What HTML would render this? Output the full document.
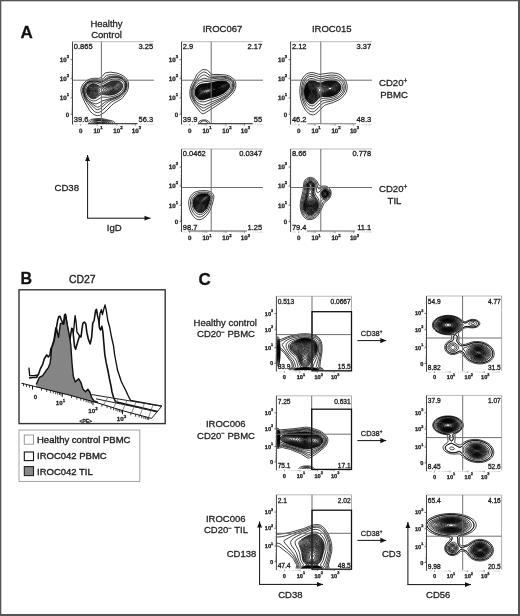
<!DOCTYPE html>
<html><head><meta charset="utf-8"><title>Figure</title>
<style>
html,body{margin:0;padding:0;background:#fff;}
#fig{position:relative;width:520px;height:616px;overflow:hidden;background:#fff;}
svg{position:absolute;left:0;top:0;filter:blur(0.3px);}
text{font-family:"Liberation Sans", Arial, sans-serif;stroke:#1a1a1a;stroke-width:0.28px;paint-order:stroke;}
text.tk{stroke-width:0.32px;text-rendering:geometricPrecision;}
text.pc{stroke-width:0.3px;}
text.lg{stroke-width:0.36px;}
</style></head><body>
<div id="fig">
<svg width="520" height="616" viewBox="0 0 520 616">
<rect x="0" y="0" width="520" height="616" fill="#fff"/>
<polygon points="28.9,367.6 29.7,375.7 34.6,375.5 38.6,375 41,372 44,366 47,361 50,357 53,350 56,340 59,333 62,332 65,330 68,336 71,340 72.5,338 73.5,332 75.1,315.6 76.1,322.4 77,332.2 79,335 80.5,337 82,336 85,338 88,344 91,347 94,340 97,333 98.8,325 100,313.6 101.4,309.7 102.4,314.6 103.9,308.8 105,304.9 106.3,310.7 107.8,320.5 109.7,327.3 111.5,337 113.6,346.3 114.5,354 116,362 117.7,370.8 119.5,376 121,380.7 123,385 125.8,390.5 128.3,396 130.5,400.3 161.8,406.2 91.5,394.5 29,377.5 28.7,367.1 31,372" fill="#fff" stroke="none"/>
<polyline points="28.9,367.6 29.7,375.7 34.6,375.5 38.6,375 41,372 44,366 47,361 50,357 53,350 56,340 59,333 62,332 65,330 68,336 71,340 72.5,338 73.5,332 75.1,315.6 76.1,322.4 77,332.2 79,335 80.5,337 82,336 85,338 88,344 91,347 94,340 97,333 98.8,325 100,313.6 101.4,309.7 102.4,314.6 103.9,308.8 105,304.9 106.3,310.7 107.8,320.5 109.7,327.3 111.5,337 113.6,346.3 114.5,354 116,362 117.7,370.8 119.5,376 121,380.7 123,385 125.8,390.5 128.3,396 130.5,400.3 161.8,406.2" fill="none" stroke="#111" stroke-width="1.35" stroke-linejoin="round"/>
<polygon points="29,378 33,377.5 36.5,377.5 38.6,374 40.2,369.2 42.7,364.4 44.3,358.7 46.7,355 48.4,357 50,354.6 50.8,348.9 52,346.5 54,340 55.8,328 56.5,327.3 57.7,320.4 58.8,316.5 60,316.2 61.2,319.6 62.3,322 63.5,324.2 64.6,315 65.4,314.4 66.2,318.8 67.3,326.5 68.5,333 69.7,341 71.7,328.3 72.7,329.2 74.6,346.8 75.6,349.2 78,341 79.5,336 81,337 82,329.2 82.9,323.4 84.4,322 85.8,324 86.8,332.2 88.3,339 90.2,343.9 91.7,337 92.7,323.4 94.1,320.5 95.6,310.7 96.5,309.3 97.5,315.6 98.5,319.5 99.5,328 100.5,330 101.9,326.3 102.9,332.2 103.9,343.9 104.8,354.6 106.2,362.7 108,371 109.5,379 111,386 112,392 113.6,397.5 115.5,401.8 157.4,411.6 96,398.8 29,378" fill="#fff" stroke="none"/>
<polyline points="29,378 33,377.5 36.5,377.5 38.6,374 40.2,369.2 42.7,364.4 44.3,358.7 46.7,355 48.4,357 50,354.6 50.8,348.9 52,346.5 54,340 55.8,328 56.5,327.3 57.7,320.4 58.8,316.5 60,316.2 61.2,319.6 62.3,322 63.5,324.2 64.6,315 65.4,314.4 66.2,318.8 67.3,326.5 68.5,333 69.7,341 71.7,328.3 72.7,329.2 74.6,346.8 75.6,349.2 78,341 79.5,336 81,337 82,329.2 82.9,323.4 84.4,322 85.8,324 86.8,332.2 88.3,339 90.2,343.9 91.7,337 92.7,323.4 94.1,320.5 95.6,310.7 96.5,309.3 97.5,315.6 98.5,319.5 99.5,328 100.5,330 101.9,326.3 102.9,332.2 103.9,343.9 104.8,354.6 106.2,362.7 108,371 109.5,379 111,386 112,392 113.6,397.5 115.5,401.8 157.4,411.6" fill="none" stroke="#111" stroke-width="1.6" stroke-linejoin="round"/>
<polyline points="91.5,394.5 161.8,406.2 151.5,418.4" fill="none" stroke="#222" stroke-width="1.0"/>
<polyline points="96,398.8 157.4,411.6" fill="none" stroke="#222" stroke-width="1.0"/>
<line x1="103.5" y1="404.7" x2="108" y2="397.2" stroke="#555" stroke-width="0.7"/>
<line x1="113.5" y1="407.8" x2="118" y2="398.9" stroke="#555" stroke-width="0.7"/>
<line x1="122.5" y1="410.6" x2="127" y2="400.4" stroke="#555" stroke-width="0.7"/>
<line x1="131.5" y1="413.1" x2="136" y2="401.9" stroke="#555" stroke-width="0.7"/>
<line x1="140" y1="415.3" x2="144.5" y2="403.3" stroke="#555" stroke-width="0.7"/>
<line x1="148.5" y1="417.6" x2="153" y2="404.7" stroke="#555" stroke-width="0.7"/>
<polygon points="36.2,384.5 39.4,377.3 42.7,375.7 45.9,370.8 48.4,367.6 50,363.5 50.8,357.9 51.2,352.2 51.6,348.1 53.2,344 54.4,340 55.4,334.2 56.5,328 57.5,333 58.5,337.3 59.5,330 60.4,323.5 62,323.5 63.8,324.2 65,316.5 65.4,314.2 66.5,320.4 67.7,327.3 68.8,332.7 70,339.6 70.8,345 72,363 73.3,376.2 75.3,381.9 78.6,378.7 81,382.7 83,389.2 85.5,391.7 87.9,389.2 90,392.5 91.6,397.3 94,400.8 98,402.5 98,403 36.2,386.9" fill="#858585" stroke="none"/>
<polyline points="36.2,384.5 39.4,377.3 42.7,375.7 45.9,370.8 48.4,367.6 50,363.5 50.8,357.9 51.2,352.2 51.6,348.1 53.2,344 54.4,340 55.4,334.2 56.5,328 57.5,333 58.5,337.3 59.5,330 60.4,323.5 62,323.5 63.8,324.2 65,316.5 65.4,314.2 66.5,320.4 67.7,327.3 68.8,332.7 70,339.6 70.8,345 72,363 73.3,376.2 75.3,381.9 78.6,378.7 81,382.7 83,389.2 85.5,391.7 87.9,389.2 90,392.5 91.6,397.3 94,400.8 98,402.5" fill="none" stroke="#111" stroke-width="1.4" stroke-linejoin="round"/>
<polyline points="21.4,383.2 70,395.2 96.9,402.7 123.8,411 151.5,418.4" fill="none" stroke="#111" stroke-width="1.0"/>
<line x1="32.5" y1="385.9" x2="32.5" y2="389.5" stroke="#111" stroke-width="1.0"/>
<line x1="62.3" y1="393.3" x2="62.3" y2="396.9" stroke="#111" stroke-width="1.0"/>
<line x1="93" y1="401.6" x2="93" y2="405.2" stroke="#111" stroke-width="1.0"/>
<line x1="122.5" y1="410.6" x2="122.5" y2="414.2" stroke="#111" stroke-width="1.0"/>
<line x1="41.5" y1="388.2" x2="41.5" y2="390.6" stroke="#111" stroke-width="0.8"/>
<line x1="46.7" y1="389.5" x2="46.7" y2="391.9" stroke="#111" stroke-width="0.8"/>
<line x1="50.4" y1="390.4" x2="50.4" y2="392.8" stroke="#111" stroke-width="0.8"/>
<line x1="53.3" y1="391.1" x2="53.3" y2="393.5" stroke="#111" stroke-width="0.8"/>
<line x1="55.7" y1="391.7" x2="55.7" y2="394.1" stroke="#111" stroke-width="0.8"/>
<line x1="57.7" y1="392.2" x2="57.7" y2="394.6" stroke="#111" stroke-width="0.8"/>
<line x1="59.4" y1="392.6" x2="59.4" y2="395" stroke="#111" stroke-width="0.8"/>
<line x1="60.9" y1="393" x2="60.9" y2="395.4" stroke="#111" stroke-width="0.8"/>
<line x1="71.5" y1="395.6" x2="71.5" y2="398" stroke="#111" stroke-width="0.8"/>
<line x1="76.9" y1="397.1" x2="76.9" y2="399.5" stroke="#111" stroke-width="0.8"/>
<line x1="80.8" y1="398.2" x2="80.8" y2="400.6" stroke="#111" stroke-width="0.8"/>
<line x1="83.8" y1="399" x2="83.8" y2="401.4" stroke="#111" stroke-width="0.8"/>
<line x1="86.2" y1="399.7" x2="86.2" y2="402.1" stroke="#111" stroke-width="0.8"/>
<line x1="88.2" y1="400.3" x2="88.2" y2="402.7" stroke="#111" stroke-width="0.8"/>
<line x1="90" y1="400.8" x2="90" y2="403.2" stroke="#111" stroke-width="0.8"/>
<line x1="91.6" y1="401.2" x2="91.6" y2="403.6" stroke="#111" stroke-width="0.8"/>
<line x1="101.9" y1="404.2" x2="101.9" y2="406.6" stroke="#111" stroke-width="0.8"/>
<line x1="107.1" y1="405.8" x2="107.1" y2="408.2" stroke="#111" stroke-width="0.8"/>
<line x1="110.8" y1="407" x2="110.8" y2="409.4" stroke="#111" stroke-width="0.8"/>
<line x1="113.6" y1="407.9" x2="113.6" y2="410.3" stroke="#111" stroke-width="0.8"/>
<line x1="116" y1="408.6" x2="116" y2="411" stroke="#111" stroke-width="0.8"/>
<line x1="117.9" y1="409.2" x2="117.9" y2="411.6" stroke="#111" stroke-width="0.8"/>
<line x1="119.6" y1="409.7" x2="119.6" y2="412.1" stroke="#111" stroke-width="0.8"/>
<line x1="121.2" y1="410.2" x2="121.2" y2="412.6" stroke="#111" stroke-width="0.8"/>
<line x1="130.8" y1="412.9" x2="130.8" y2="415.3" stroke="#111" stroke-width="0.8"/>
<line x1="135.6" y1="414.2" x2="135.6" y2="416.6" stroke="#111" stroke-width="0.8"/>
<line x1="139.1" y1="415.1" x2="139.1" y2="417.5" stroke="#111" stroke-width="0.8"/>
<line x1="141.7" y1="415.8" x2="141.7" y2="418.2" stroke="#111" stroke-width="0.8"/>
<line x1="143.9" y1="416.4" x2="143.9" y2="418.8" stroke="#111" stroke-width="0.8"/>
<line x1="145.7" y1="416.9" x2="145.7" y2="419.3" stroke="#111" stroke-width="0.8"/>
<line x1="147.3" y1="417.3" x2="147.3" y2="419.7" stroke="#111" stroke-width="0.8"/>
<line x1="148.7" y1="417.7" x2="148.7" y2="420.1" stroke="#111" stroke-width="0.8"/>
<line x1="23.5" y1="383.7" x2="23.5" y2="386.1" stroke="#111" stroke-width="0.8"/>
<line x1="26.5" y1="384.5" x2="26.5" y2="386.9" stroke="#111" stroke-width="0.8"/>
<line x1="29.5" y1="385.2" x2="29.5" y2="387.6" stroke="#111" stroke-width="0.8"/>
<text x="35.5" y="398.6" font-size="6.2" font-weight="bold" fill="#222" text-anchor="middle" font-family='"Liberation Sans", Arial, sans-serif'>0</text>
<text x="60.5" y="405.2" font-size="6.2" font-weight="bold" fill="#222" text-anchor="middle" font-family='"Liberation Sans", Arial, sans-serif'>10<tspan font-size="4.4" dy="-2.9">1</tspan></text>
<text x="93" y="413.2" font-size="6.2" font-weight="bold" fill="#222" text-anchor="middle" font-family='"Liberation Sans", Arial, sans-serif'>10<tspan font-size="4.4" dy="-2.9">2</tspan></text>
<text x="121.5" y="421.2" font-size="6.2" font-weight="bold" fill="#222" text-anchor="middle" font-family='"Liberation Sans", Arial, sans-serif'>10<tspan font-size="4.4" dy="-2.9">3</tspan></text>
<text x="85.8" y="423.2" font-size="5" font-weight="bold" fill="#333" text-anchor="middle" font-family='"Liberation Sans", Arial, sans-serif'>&lt;PE&gt;</text>
<defs><clipPath id="cA1"><rect x="73.4" y="42" width="80.6" height="76"/></clipPath><clipPath id="cA1b"><rect x="73.4" y="114" width="80.6" height="9.799999999999997"/></clipPath><clipPath id="cA2"><rect x="181.4" y="42" width="80.6" height="76"/></clipPath><clipPath id="cA2b"><rect x="181.4" y="114" width="80.6" height="9.799999999999997"/></clipPath><clipPath id="cA3"><rect x="290.9" y="42" width="80.60000000000002" height="81.8"/></clipPath><clipPath id="cA4"><rect x="181.4" y="149.3" width="80.6" height="81.69999999999999"/></clipPath><clipPath id="cA5"><rect x="290.9" y="149.3" width="80.60000000000002" height="81.69999999999999"/></clipPath><clipPath id="cC1L"><rect x="276.8" y="296.2" width="74.80000000000001" height="74.19999999999999"/></clipPath><clipPath id="cC1Lbar"><rect x="276.8" y="330" width="4.699999999999989" height="40.39999999999998"/></clipPath><clipPath id="cC2L"><rect x="276.8" y="396.2" width="74.19999999999999" height="72.80000000000001"/></clipPath><clipPath id="cC2Lbar"><rect x="276.8" y="420" width="4.699999999999989" height="49"/></clipPath><clipPath id="cC2Lb"><rect x="276.8" y="460" width="74.19999999999999" height="9"/></clipPath><clipPath id="cC3L"><rect x="276.8" y="495.2" width="74.19999999999999" height="73.59999999999997"/></clipPath><clipPath id="cC1R"><rect x="426.9" y="296.4" width="74.30000000000001" height="74.20000000000005"/></clipPath><clipPath id="cC2R"><rect x="426.9" y="395.8" width="74.30000000000001" height="74.19999999999999"/></clipPath><clipPath id="cC3R"><rect x="426.9" y="495.4" width="74.30000000000001" height="74.20000000000005"/></clipPath></defs><path d="M98.9 115.5 97.4 115.6 94.9 115 93.7 114.4 92.5 113.5 90.4 111.4 89.3 110 85.1 102.8 82.3 96.8 81.5 94.2 81.1 91.8 80.9 90 81.1 88.5 81.5 87 82.5 85 83.5 83.5 84.9 82.1 86.4 80.8 87.9 79.9 89.9 79.1 92.7 78.4 94.7 78.3 98.4 78.4 99.9 78 100.9 77.5 102.2 76.5 104.5 73.5 105.4 73 106.4 72.7 109.2 72.3 110.9 72.2 116.9 73.1 119.4 73.9 123.2 75.9 125 77.2 126.6 79 127.8 81 128.5 83 128.6 85.2 128.3 88 127.5 90.5 126.5 92.5 122.8 97.5 121.4 99 113.6 103.5 111.2 105.7 108.1 109 104.4 112.4 100.7 114.8 98.9 115.5Z M98.7 112.5 97.4 112.6 95.7 112.2 94.5 111.5 93.1 110.2 91.7 108.6 87.2 102.7 84.7 98.8 83 94.5 82.4 90.5 82.4 89 82.8 87.8 83.5 86 84.3 84.8 86.7 82.2 87.9 81.4 89.4 80.6 91.7 79.9 93.7 79.7 99.2 80 100.9 79.8 103.2 78.5 106.4 75.6 108.7 74.9 111.4 74.6 117.2 75.1 120.2 76.1 123.2 77.6 124.7 78.9 125.9 80.5 126.8 82.2 127.2 84 127.2 86 126.8 88.5 126 90.5 125 92.2 122.7 95.1 120.4 97.3 118.7 98.4 113.2 101 111.5 102 109.1 104 106.2 107 102.7 110.1 100.2 111.8 98.7 112.5Z M97.7 109.8 96.7 109.6 95.4 108.8 88.7 102.5 86.5 100 84.8 97 83.5 93.2 83.2 89.8 83.5 88.2 84 86.8 85.6 84.2 86.9 82.9 88.4 81.9 90.2 81.1 91.9 80.6 94.7 80.4 99.7 81.2 101.7 81 103.6 80 107.7 77.1 110.4 76.4 114.7 76.2 117.7 76.4 120.9 77.4 123.4 78.9 124.7 80.2 125.7 81.8 126.3 83.2 126.5 84.8 126.3 87 125.8 89 125 90.8 123.7 92.5 121.4 94.9 119.4 96.6 116.9 97.9 111.1 100.2 108.7 101.5 106.6 103 100.7 108.3 98.9 109.4 97.7 109.8Z M97.9 107.3 97.2 107.2 96.2 106.7 89.2 101.8 86.9 99.5 85.2 96.8 84 93.2 83.7 89.8 84 88.2 84.5 86.8 85.2 85.5 86.4 84 87.7 82.9 88.9 82.1 90.7 81.4 92.4 80.9 94.9 80.9 99.7 81.9 101.7 81.8 103.5 81 108.2 78 109.7 77.5 111.7 77.1 115.7 76.9 118.2 77.2 121.4 78.3 123.6 79.8 124.7 81 125.5 82.5 126 84 126 85.5 125.7 87.5 125.1 89.5 124.2 91 122.9 92.6 120.7 94.8 118.7 96.2 116.2 97.4 109.6 99.8 106.4 101.2 104.4 102.5 99.5 106.5 97.9 107.3Z M96.4 103.8 95.2 103.8 93.7 103.4 91.4 102.4 89.7 101.3 88.4 100.3 87.2 98.9 85.3 95.8 84.3 92.2 84.2 90.5 84.3 89 84.7 87.5 85.4 86 86.4 84.6 87.7 83.4 90.2 81.9 93.2 81.3 95.7 81.4 99.9 82.6 101.7 82.5 103.5 81.8 108.9 78.6 110.9 78 113.9 77.6 117.2 77.7 120.2 78.4 122.4 79.4 124.1 81 125 82.5 125.5 84 125.6 85.8 125.2 87.8 124.6 89.5 123.7 91 122.4 92.4 120.7 94.1 118.4 95.7 115.9 96.8 112.4 98 102.4 100.9 97.7 103.4 96.4 103.8Z M95.2 100.8 93.9 101 92.7 100.8 91.2 100.3 89.7 99.5 88.4 98.4 87.4 97.2 86.5 95.8 85.8 94.2 85.2 91 85.6 88.2 86.2 86.8 87 85.5 87.9 84.5 89.1 83.5 91.4 82.5 93.9 82.3 95.9 82.7 99.7 84.1 101.4 84.2 103.4 83.5 107.9 80.9 109.9 79.9 112.2 79.3 115.2 79 117.9 79.2 120.4 79.9 122.3 81 123.6 82.5 124.2 83.8 124.4 85.2 124.2 87 123.7 88.5 122.9 90 121.9 91.2 120.3 92.8 118.4 94.1 115.2 95.7 110.7 96.9 107.7 97.3 103.2 97.1 101.7 97.3 100.2 98 96.9 100.1 95.2 100.8Z M93.9 98.8 92.9 98.8 91.7 98.6 89.7 97.5 87.9 95.5 86.8 93 86.5 90.5 87 88 88.4 85.8 90.2 84.4 92.2 83.7 94.2 83.7 95.9 84.2 99.2 86 100.9 86.2 103.4 85.3 108.2 82.6 110.2 81.7 112.7 80.9 115.4 80.6 117.7 80.8 119.7 81.4 121.2 82.3 122.3 83.8 122.7 84.8 122.7 86 122.4 87.5 121.9 88.8 121 90 119.8 91.2 116.7 93.4 113.4 94.6 110.2 95.2 107.7 95.2 102.7 94.5 101.2 94.5 99.9 95.1 96.4 97.8 95.2 98.5 93.9 98.8Z M94.4 98 93.2 98.2 92.2 98.1 90.2 97.2 88.5 95.5 87.4 93.2 87 90.8 87.3 88.5 88.6 86.2 90.4 84.8 92.2 84.2 94.2 84.2 95.9 84.8 99.2 86.7 99.9 87 100.9 87 103.4 86 108.2 83.2 110.2 82.2 112.7 81.4 115.2 81.1 117.2 81.2 119.2 81.8 120.7 82.8 121.7 84 122.1 85 122.1 86.2 121.8 87.5 121.2 88.8 119.3 91 116.4 93 113.2 94.2 109.9 94.6 106.9 94.5 102.2 93.5 100.9 93.6 99.7 94.2 96.4 97.1 94.4 98Z M93.7 97.5 91.7 97.3 89.9 96.3 88.4 94.5 87.6 92.5 87.5 90.2 87.9 88.2 89.2 86.4 90.9 85.1 92.7 84.6 94.7 84.8 96.4 85.7 99.2 87.7 100.4 88 101.2 87.9 102.4 87.3 109.7 83.1 111.4 82.4 113.4 81.8 115.9 81.6 118.2 82 119.9 82.9 121.1 84.2 121.4 85.2 121.4 86.5 121.1 87.8 120.6 88.8 118.7 90.9 115.9 92.7 112.7 93.8 109.4 94.1 106.2 93.7 101.7 92.4 100.7 92.5 99.7 93 96.4 96.3 95.2 97.1 93.7 97.5Z M112.2 93.3 108.7 93.4 105.2 92.6 102.3 91.2 101.5 90.5 101.5 89.8 102.4 88.5 104 87.2 108.4 84.3 111.2 83 113.4 82.4 115.7 82.2 117.7 82.5 119.2 83.2 120.2 84.2 120.7 85.8 120.6 87.2 119.7 89 118.3 90.5 116.4 91.8 114.4 92.7 112.2 93.3Z M94.2 96.8 93.2 96.9 92.2 96.8 91.2 96.5 90.2 95.8 88.7 94 88 91.8 88.1 89.5 88.9 87.5 90.4 85.9 91.4 85.4 92.4 85.2 94.4 85.3 96.2 86.2 98.5 88.2 99.5 89.5 99.8 90.2 99.3 91.8 97.2 94.8 95.7 96.1 94.2 96.8Z M111.9 92.8 108.8 92.8 105.7 91.9 103.9 90.8 103.5 90 103.6 89.2 104.5 88 107 86 109.3 84.5 111.4 83.5 113.4 83 115.4 82.8 117.2 83 118.7 83.8 119.6 84.8 120 86 119.8 87.5 119 89 117.7 90.3 115.9 91.5 113.9 92.3 111.9 92.8Z M93.4 96.3 91.7 96 90.1 95 88.9 93.2 88.4 91.2 88.6 89.2 89.5 87.5 90.9 86.3 92.7 85.7 94.4 85.9 96.3 87 97.8 88.8 98.4 90.5 98 92.2 96.7 94.4 95.2 95.7 93.4 96.3Z M110.9 92.3 108.2 91.9 105.9 90.9 105.3 90.2 105.1 89.8 105.2 89 105.6 88.2 107.1 86.8 108.9 85.4 110.7 84.4 112.4 83.8 114.2 83.4 115.9 83.4 117.4 83.8 118.4 84.5 119.1 85.5 119.2 86.8 118.7 88.2 117.7 89.5 116.4 90.6 114.7 91.5 112.9 92 110.9 92.3Z M93.9 95.5 92.4 95.6 90.9 95 89.7 93.6 89 91.8 89 90 89.6 88.2 90.9 86.9 92.4 86.3 94.2 86.5 95.6 87.2 96.9 88.8 97.5 90.2 97.4 91.8 96.6 93.5 95.4 94.8 93.9 95.5Z M112.4 91.5 109.9 91.6 107.7 90.8 106.9 90.2 106.6 89.8 106.6 89 106.9 88.2 107.6 87.2 109.1 86 110.7 85 112.2 84.4 113.7 84.1 115.2 84 116.6 84.2 117.6 84.8 118.2 85.5 118.5 86.5 118.3 87.5 117.7 88.7 116.7 89.7 115.4 90.5 113.9 91.2 112.4 91.5Z M93.2 95 91.9 94.8 90.7 94 89.8 92.8 89.4 91 89.6 89.5 90.4 88.1 91.4 87.2 92.9 86.9 94.4 87.2 95.6 88 96.5 89.2 96.8 90.8 96.5 92.2 95.7 93.7 94.4 94.7 93.2 95Z M111.9 91 109.7 90.8 108.2 90 107.9 89.5 107.8 88.8 108.6 87.2 110.5 85.8 112.9 84.8 115.2 84.6 116.2 84.8 116.9 85.3 117.5 86 117.7 86.8 117.4 87.8 116.8 88.8 115.9 89.5 114.7 90.3 113.4 90.8 111.9 91Z M93.7 94.3 92.4 94.3 91.4 93.9 90.4 92.8 90 91.5 90 90.2 90.4 89 91.3 88 92.4 87.5 93.7 87.5 94.7 88 95.6 89 96.1 90.2 96.1 91.5 95.6 92.8 94.7 93.8 93.7 94.3Z M112.9 90.3 110.9 90.4 109.4 89.8 109 89.2 108.9 88.8 109.4 87.5 110.8 86.2 112.7 85.4 114.7 85.2 116.2 85.7 116.6 86.2 116.8 86.8 116.7 87.5 116.3 88.2 114.9 89.5 112.9 90.3Z M93.9 93.5 92.9 93.7 91.9 93.5 91.1 92.8 90.6 91.8 90.5 90.5 90.8 89.5 91.4 88.6 92.4 88.1 93.4 88.1 94.2 88.4 94.9 89 95.4 90 95.5 91 95.3 92 94.7 93 93.9 93.5Z M112.7 89.8 111.2 89.8 110.2 89.2 109.9 88.5 110.3 87.5 111.5 86.5 112.9 85.9 114.4 85.8 115.5 86.2 115.9 86.8 115.9 87.2 115.5 88.2 114.2 89.2 112.7 89.8Z M93.4 93 92.7 93.1 91.9 92.8 91.4 92.2 91 91.2 91 90.2 91.4 89.5 91.9 89 92.7 88.6 93.4 88.7 94.2 89.1 94.7 89.8 94.9 90.5 94.9 91.2 94.6 92 94.2 92.6 93.4 93Z M113.4 89 112.4 89.2 111.3 89 110.9 88.5 111 87.8 111.8 87 112.7 86.6 113.7 86.4 114.4 86.5 114.9 87 114.9 87.8 114.3 88.5 113.4 89Z M93.4 92.4 92.9 92.5 92.2 92.2 91.5 91.2 91.7 90 92.1 89.5 92.7 89.2 93.2 89.2 93.7 89.5 94.3 90.5 94.2 91.7 93.4 92.4Z M112.9 88.5 112.2 88.4 111.9 88.2 112 87.8 112.9 87.1 113.9 87.2 114.1 87.5 113.9 88 112.9 88.5Z M93.2 91.8 92.4 91.7 92 91 92.2 90.2 92.9 89.8 93.5 90 93.8 90.8 93.7 91.4 93.2 91.8Z M93.2 91.3 92.7 91.3 92.5 91 92.7 90.4 92.9 90.3 93.3 90.5 93.4 91 93.2 91.3Z" fill="none" stroke="#000" stroke-width="0.75" stroke-linejoin="round" clip-path="url(#cA1)"/>
<path d="M102.4 122.3 100.4 122.5 98.4 122.4 96.9 122 96.6 121.8 96.6 121.5 98 121 100.2 121 102.3 121.5 103.1 122 102.4 122.3Z M101.9 122.8 99.2 122.8 97.2 122.6 95.7 122 95.5 121.5 96.1 121 97 120.8 99.7 120.6 102.2 121 105.1 122 105 122.2 104.3 122.5 101.9 122.8Z M103.2 123 99.7 123.1 96.9 122.9 94.9 122.2 94.5 122 94.4 121.5 94.8 121 96.2 120.5 99.7 120.3 101.9 120.6 104.7 121.2 106.4 121.8 107.1 122.2 105.7 122.8 103.2 123Z M104.4 123.3 99.7 123.4 96.4 123.2 94.1 122.5 93.4 122 93.3 121.5 94 120.8 95.4 120.3 97.4 120 99.7 120 102.4 120.3 106.5 121.2 108.2 121.8 108.8 122.2 108.7 122.5 107.7 122.9 104.4 123.3Z M98.7 123.8 95.9 123.5 93.7 123 92.3 122.2 92 121.5 92.6 120.8 94.4 120 96.9 119.6 99.7 119.6 102.7 119.9 108.6 121.2 110.1 121.8 110.6 122.2 110.2 122.8 108.3 123.2 101.3 123.8 M94 123.8 92.2 123.2 90.9 122.5 90.4 121.8 90.6 121 91.6 120.2 93.4 119.6 95.9 119.2 98.7 119 101.4 119.2 104.2 119.6 111 121.2 112.2 121.8 112.6 122.2 112.3 122.8 111.7 123.1 108.4 123.8 M91.3 123.8 89.7 123 88.8 122.2 88.6 121.8 88.6 121.2 89.4 120.4 90.9 119.6 93.4 118.9 95.9 118.6 98.7 118.5 101.9 118.6 104.9 119.1 112.4 120.9 113.9 121.5 114.6 122 114.6 122.5 114.1 123 111.9 123.8" fill="none" stroke="#000" stroke-width="0.6" stroke-linejoin="round" clip-path="url(#cA1b)"/>
<path d="M203.2 113.8 201.9 113.5 200.4 112.3 194.3 104.8 192.5 102 191.3 99.5 190.3 97 189.9 95 189.9 91.2 190.3 88.5 190.8 86.5 192 83.8 194.7 78.9 196.5 75 197.3 73.8 201.7 70.1 202.9 69.6 204.4 69.6 206.4 69.9 207.7 70.5 208.6 71.2 210.6 73.5 211.9 74.3 213.4 74.5 220.4 74.5 226.2 75.1 229.4 76.1 230.9 76.9 232.7 78.1 234 79.5 235.1 81.2 235.7 83.2 235.9 85.2 235.7 87 235 89.2 233.8 91.8 232.4 93.8 229.4 96.7 225.2 99.9 213.9 107.4 205.2 112.9 203.2 113.8Z M203.9 110.8 202.9 110.9 201.7 110.2 195.7 104 194.3 102 192.7 99.2 191.8 97 191.2 94.8 191.1 93 191.3 90.8 191.7 88.2 192.3 86.5 193.8 83.5 198.9 75.2 200.2 74.1 202.4 72.5 203.4 72.1 204.7 72.1 206.4 72.7 209.2 75.1 210.9 76 212.7 76.2 219.4 76 225.9 76.6 227.4 76.9 229.2 77.6 231.9 79.4 233.1 80.8 233.8 82 234.3 83.8 234.4 85.5 234.1 87.5 233.3 89.5 232.3 91.5 230.9 93.2 228.2 95.8 223.9 98.9 203.9 110.8Z M204.4 107.8 203.2 108 202.2 107.6 198.9 105.5 196.7 103.5 195.1 101.5 193.7 99.2 192.6 96.8 192.1 94.8 191.9 92.8 192.1 90.5 192.6 88.2 193.3 86.2 194.3 84.2 195.9 81.9 199.7 77.5 200.9 76.4 202.2 75.5 203.4 75 204.4 74.9 205.4 75.2 208.2 76.9 210.4 77.4 212.2 77.5 219.4 77 223.2 77.1 226.2 77.5 228.9 78.4 231.5 80.2 232.5 81.5 233.2 83 233.5 84.5 233.5 86 233.1 87.8 232.3 89.8 231.2 91.5 229.9 93.1 226.2 96.2 222.4 98.6 204.4 107.8Z M204.9 104.8 203.4 105 201.7 104.6 199.7 103.9 197.9 102.9 196.4 101.5 195.2 100 194.1 98 193.2 96 192.9 94.2 192.8 92.5 193 90.2 193.5 88 194.2 86.2 195.2 84.7 196.4 83 197.9 81.5 200.4 79.7 203.7 78.3 204.7 78.3 207.7 79 209.7 79.1 217.2 78.3 220.7 78.1 224.2 78.2 226.9 78.7 229.2 79.7 231.1 81.2 232 82.5 232.4 83.8 232.6 85 232.5 86.5 231.9 88.2 231.1 90 230.1 91.5 228.7 93 224.9 95.8 220.9 98.1 204.9 104.8Z M204.4 101.8 202.9 101.9 201.2 101.8 199.7 101.4 198.4 100.9 197.2 99.9 196.2 98.9 195.2 97.3 194.4 95.8 194.1 94.2 194 92.5 194.1 90.8 194.6 88.8 195.9 86 196.9 84.8 198.2 83.7 200.4 82.5 203.4 81.7 209.2 81.4 216.7 80 220.9 79.6 224.2 79.7 226.7 80.1 228.9 81.2 230.3 82.5 230.8 83.5 231.2 84.8 231.2 86 230.8 87.5 230.1 89 229.1 90.5 226.4 93 222.9 95.2 218.7 97.1 204.4 101.8Z M203.4 99.8 202.2 99.9 200.7 99.8 198.4 98.9 196.6 97.2 195.4 94.8 195.1 92.2 195.7 89.2 196.9 86.9 198.9 85.2 200.4 84.4 202.2 84 207.7 83.4 216.2 81.6 220.9 81 223.7 81 225.9 81.4 227.8 82.2 229.1 83.5 229.5 84.5 229.7 85.8 229.5 87 228.9 88.2 227.2 90.5 224.4 92.7 221.2 94.5 217.2 96.1 213.9 97 208.4 98.2 203.4 99.8Z M203.7 99.3 201.2 99.4 198.9 98.8 197.9 98.1 197 97.2 195.7 95 195.4 93.8 195.4 92.2 195.9 89.5 197 87.2 198.9 85.6 200.4 84.8 201.9 84.4 207.4 83.9 216.2 81.9 220.7 81.3 223.7 81.4 225.9 81.8 227.7 82.6 228.8 83.8 229.2 84.8 229.3 85.8 229.1 87 228.6 88.2 226.8 90.5 223.9 92.7 220.7 94.4 216.9 95.8 213.9 96.7 208.4 97.8 203.7 99.3Z M203.2 99 200.7 99 198.7 98.2 197 96.8 195.9 94.6 195.6 92 196.2 89.5 197.4 87.3 199.2 85.8 200.4 85.2 201.9 84.8 207.4 84.2 215.9 82.3 220.7 81.6 223.4 81.6 225.7 82 227.4 82.9 228.5 84 228.9 85 228.9 86 228.6 87.2 228 88.5 226.4 90.5 223.4 92.6 220.4 94.2 216.7 95.6 213.9 96.3 208.4 97.4 203.2 99Z M202.4 98.8 200.2 98.5 198.4 97.7 196.9 96.1 196 94 195.9 91.8 196.5 89.2 197.7 87.4 199.4 86 201.9 85.2 207.4 84.6 215.7 82.6 220.7 81.9 223.4 81.9 225.4 82.3 227.2 83.1 228.2 84.2 228.5 85.2 228.5 86.2 228.2 87.5 227.7 88.5 225.7 90.7 222.7 92.7 219.7 94.2 216.2 95.4 208.7 97 203.9 98.5 202.4 98.8Z M203.4 98.3 201.2 98.4 199.2 97.8 197.6 96.5 196.4 94.5 196.1 92.2 196.6 89.8 197.7 87.9 199.4 86.4 201.9 85.5 207.4 85 215.7 82.8 220.4 82.2 223.2 82.2 225.2 82.5 226.9 83.4 227.9 84.5 228.1 85.2 228.2 86.2 227.9 87.2 227.3 88.5 225.5 90.5 222.6 92.5 219.7 93.9 216.4 95.1 208.4 96.7 203.4 98.3Z M202.9 98 200.9 98 198.9 97.3 197.5 96 196.6 94.2 196.4 92 196.9 89.8 197.9 88 199.7 86.6 201.9 85.8 207.4 85.3 215.4 83.2 220.2 82.4 222.9 82.4 224.9 82.8 226.5 83.5 227.5 84.5 227.8 85.2 227.8 86.2 227.6 87.2 226.9 88.5 225.1 90.5 222.2 92.4 219.4 93.7 216.2 94.9 208.4 96.4 202.9 98Z M202.2 97.8 200.2 97.5 198.7 96.7 197.4 95.3 196.8 93.8 196.7 91.8 197.2 89.8 198.3 88 199.9 86.8 202.2 86.1 207.7 85.6 215.4 83.4 220.2 82.7 222.7 82.7 224.7 83 226.2 83.8 227.1 84.8 227.4 85.5 227.4 86.5 227.1 87.5 226.4 88.8 224.6 90.5 221.7 92.4 218.9 93.7 215.9 94.6 208.4 96 203.7 97.5 202.2 97.8Z M203.2 97.3 201.2 97.4 199.4 96.8 197.9 95.5 197.1 94 196.9 92 197.4 90 198.4 88.3 199.9 87.2 202.2 86.4 207.7 85.9 215.2 83.8 219.9 83 222.4 82.9 224.4 83.3 225.9 84 226.8 85 227 85.8 227 86.8 226.6 87.8 226 88.8 224.2 90.5 221.4 92.3 218.9 93.4 216.2 94.3 208.2 95.7 203.2 97.3Z M202.7 97 200.9 97 199.4 96.4 198.2 95.3 197.4 93.8 197.2 92 197.7 90 198.7 88.5 200.2 87.4 202.4 86.7 207.7 86.3 215.2 84 219.7 83.3 222.2 83.2 224.1 83.5 225.7 84.2 226.4 85.1 226.6 86 226.6 86.8 226.2 87.8 225.6 88.8 223.7 90.5 220.9 92.2 218.7 93.2 216.2 94 208.2 95.4 202.7 97Z M203.4 96.5 201.7 96.7 199.9 96.3 198.5 95.2 197.7 93.8 197.5 92 197.9 90.2 198.9 88.7 200.4 87.6 202.4 87.1 205.9 86.9 207.7 86.6 214.9 84.4 219.4 83.5 221.7 83.5 223.7 83.7 225.2 84.3 226 85.2 226.2 86 226.1 87 225.2 88.8 223.4 90.4 220.7 92 218.4 93 216.2 93.7 208.2 95 203.4 96.5Z M202.9 96.3 201.4 96.4 199.9 95.9 198.7 94.9 198 93.5 197.8 91.8 198.3 90.2 199.2 88.9 200.4 88 202.4 87.4 207.4 87.1 214.9 84.7 219.4 83.8 221.7 83.7 223.5 84 224.9 84.7 225.6 85.5 225.8 86.2 225.7 87 224.8 88.8 222.9 90.4 220.4 91.9 218.2 92.8 215.9 93.5 208.2 94.7 202.9 96.3Z M202.2 96 200.7 95.8 199.6 95.2 198.7 94.2 198.2 93 198.2 91.5 198.7 90.2 199.6 89 200.7 88.2 202.4 87.8 205.9 87.7 207.7 87.4 214.8 85 219.2 84.1 221.4 84 223.2 84.3 224.4 84.8 225.2 85.8 225.3 86.5 225.2 87.2 224.2 89 222.3 90.5 219.7 91.9 215.7 93.2 208.2 94.3 203.6 95.8 202.2 96Z M202.9 95.5 201.4 95.6 200.2 95.2 199.2 94.3 198.6 93.2 198.5 92 198.9 90.5 199.7 89.4 200.9 88.6 202.7 88.1 205.9 88.1 207.4 87.9 214.7 85.3 218.9 84.4 220.9 84.3 222.7 84.5 223.9 85 224.7 85.8 224.9 86.5 224.8 87.2 223.9 88.8 222.1 90.2 219.7 91.6 217.4 92.5 215.2 93 207.7 94 202.9 95.5Z M201.9 95.3 200.9 95.1 199.9 94.5 199.3 93.8 198.9 92.7 198.9 91.5 199.4 90.4 200.2 89.5 201.2 88.9 202.7 88.5 205.9 88.5 207.4 88.3 214.3 85.8 218.7 84.8 220.7 84.6 222.4 84.8 223.5 85.2 224.2 86 224.3 87.2 223.4 88.8 221.6 90.2 219.2 91.5 214.9 92.8 207.7 93.5 203.4 95 201.9 95.3Z M202.7 94.8 201.4 94.8 200.4 94.4 199.7 93.8 199.3 92.8 199.3 91.8 199.7 90.7 200.4 89.8 201.4 89.2 202.7 88.9 205.9 89 207.4 88.8 214.4 86 218.7 85.1 220.7 84.9 222.2 85.1 223.2 85.6 223.8 86.2 223.9 86.8 223.8 87.5 222.9 88.8 221.2 90.2 218.9 91.3 216.8 92 214.5 92.5 207.7 93 202.7 94.8Z M202.9 94.3 201.9 94.4 200.9 94.2 200.2 93.6 199.7 92.8 199.7 91.8 200.1 90.8 200.8 90 201.7 89.5 202.9 89.3 205.9 89.5 207.4 89.4 214 86.5 218.4 85.4 220.2 85.3 221.7 85.4 222.7 85.8 223.3 86.5 223.4 87 223.2 87.8 222.2 89 220.4 90.2 218.4 91.2 216.4 91.8 214.2 92.2 207.7 92.5 202.9 94.3Z M203.2 93.8 202.2 94 201.4 93.9 200.7 93.4 200.2 92.8 200.1 92 200.4 91.1 200.9 90.5 201.7 90 203.2 89.8 206.2 90.2 207.4 90.2 213.6 87 215.7 86.2 217.9 85.7 219.7 85.6 221.2 85.7 222.2 86 222.8 86.8 222.7 87.8 221.7 89 220.2 90.1 218.1 91 215.7 91.7 213.4 92 207.7 91.7 206.4 92.1 203.2 93.8Z M214.9 91.5 212.9 91.6 211.2 91.5 209.6 91 209.2 90.5 209.7 89.8 211.3 88.5 213.7 87.3 215.8 86.5 218.1 86 219.9 85.9 221.4 86.2 222.2 86.8 222.3 87.2 222.1 88 220.5 89.5 218 90.8 214.9 91.5Z M202.2 93.5 201.2 93.2 200.7 92.5 200.7 91.5 201.3 90.8 202.2 90.3 203.2 90.3 204.3 90.5 205.2 91 205.4 91.2 205.3 91.8 204.6 92.5 203.3 93.2 202.2 93.5Z M214.7 91.3 212.9 91.3 211.4 91.1 210.5 90.5 210.5 90 211 89.2 212.4 88.2 214.4 87.2 216.4 86.6 218.2 86.2 219.9 86.2 221.2 86.5 221.7 87 221.8 87.5 221.5 88.2 220 89.5 217.4 90.7 214.7 91.3Z M202.9 92.8 201.9 92.9 201.3 92.5 201.2 91.8 201.8 91 202.9 90.8 204 91.2 204.1 91.5 204 92 202.9 92.8Z M214.9 91 213.2 91 211.9 90.8 211.2 90.2 211.3 89.8 211.8 89 212.9 88.2 214.4 87.5 216.4 86.8 219.4 86.4 220.4 86.5 221.2 87 221.3 87.5 221.1 88.2 219.7 89.5 217.4 90.5 214.9 91Z M202.7 92.1 202.2 92.1 202.1 91.8 202.7 91.6 202.9 91.8 202.7 92.1Z M215.4 90.8 213.9 90.9 212.7 90.7 211.8 90.2 211.7 89.8 212.2 89 213.3 88.2 216.3 87 217.9 86.7 219.4 86.6 220.4 86.8 220.9 87.2 221 87.8 220.8 88.2 219.7 89.2 217.7 90.2 215.4 90.8Z M216.2 90.5 213.4 90.6 212.4 90.3 212.1 89.8 212.4 89.2 213.2 88.5 215.9 87.2 218.9 86.7 219.9 86.8 220.6 87.2 220.7 88 219.8 89 218.2 89.9 216.2 90.5Z M216.2 90.3 214.7 90.4 213.7 90.3 213 90 212.8 89.5 213.1 89 214.1 88.2 216.7 87.3 218.9 87 219.7 87.1 220.2 87.5 220.1 88.2 219.3 89 218 89.8 216.2 90.3Z M216.2 90 214.9 90.1 214 90 213.6 89.8 213.6 89.2 214.7 88.2 216.7 87.5 218.7 87.3 219.4 87.5 219.7 87.7 219.6 88.2 218.9 89 217.7 89.6 216.2 90Z M216.2 89.8 214.7 89.8 214.2 89.5 214.2 89.2 214.8 88.5 216.7 87.7 218.4 87.6 219 87.8 219.1 88 219 88.5 218.4 89 216.2 89.8Z M216.2 89.5 215.2 89.5 214.9 89.2 214.9 89 215.4 88.5 216.6 88 217.7 87.8 218.4 88 218.5 88.2 218.2 88.8 217.3 89.2 216.2 89.5Z M216.2 89.3 215.5 89 216 88.5 217.2 88.1 217.9 88.2 217.9 88.5 217.7 88.8 216.2 89.3Z M217.2 88.8 216.4 88.9 216.2 88.8 217.2 88.4 217.3 88.5 217.2 88.8Z" fill="none" stroke="#000" stroke-width="0.75" stroke-linejoin="round" clip-path="url(#cA2)"/>
<path d="M201.6 123.8 200.8 123 200.7 122.5 200.9 122 202.1 121.2 203.9 120.9 205.9 121.2 207.1 122 207.3 122.5 207.2 123 206.4 123.8 M199.2 123.8 198.8 123.2 198.7 122.5 199 121.8 199.4 121.2 201.2 120.3 203.9 119.9 206.4 120.2 208.4 121.1 209 121.8 209.3 122.5 209.2 123.2 208.8 123.8" fill="none" stroke="#000" stroke-width="0.75" stroke-linejoin="round" clip-path="url(#cA2b)"/>
<path d="M313.6 114.8 312.1 114.9 310.1 114.2 308.4 113.1 306.7 111.5 304.8 109 303.6 107 302.3 104 301.1 100.5 300.5 98.2 300.1 95.2 299.8 91.5 299.9 88.8 300.3 85.5 301 82 301.8 79.8 302.8 78 304.6 75.6 306.4 74.1 308.4 73.1 311.1 72.6 313.6 72.7 318.4 74.1 320.1 74.3 329.4 73 332.4 72.9 337.6 73.6 338.9 74 340.1 74.7 342.6 76.7 344.3 78.5 345.8 81 346.8 83.8 347.2 86.2 347.1 88.8 346.3 91.8 345.3 93.8 344 95.5 342.1 97.4 340.6 98.7 338.9 99.8 332.9 102.6 326.5 104.5 324.6 105.4 323 106.8 316.9 112.9 315.1 114.2 313.6 114.8Z M313.4 111.8 311.9 111.9 310.1 111.3 308.4 110 306.6 108.2 305.4 106.5 304.3 104.5 303.1 101.5 302.2 98.8 301.7 96.5 301.4 93.2 301.3 90.2 301.5 87.8 302 84.8 302.8 81.8 303.6 80 304.9 78.1 306.4 76.5 307.9 75.5 309.6 74.8 311.9 74.6 313.9 74.8 318.1 76.3 320.1 76.6 321.9 76.5 329.9 75.1 331.9 75.1 334.6 75.3 336.6 75.6 338.1 76.1 341.1 78 342.6 79.5 343.8 81.2 344.9 83.5 345.4 85.8 345.4 88 344.9 90.5 344.1 92.2 343 94 339.9 97 338.4 98 336.1 99.2 331.9 100.9 325.4 102.4 323.2 103.2 321.6 104.5 316.4 109.9 314.6 111.2 313.4 111.8Z M313.4 108.8 312.1 108.9 310.6 108.6 308.9 107.6 307.3 106.2 306.1 104.8 304.9 102.6 303.8 100 303.1 97.8 302.7 95.2 302.4 92.2 302.4 89.5 302.8 87 303.5 84 304.3 81.8 305.1 80.2 306.4 78.7 307.6 77.6 308.6 77 309.9 76.6 311.1 76.4 313.6 76.6 318.1 78.4 320.1 78.8 321.9 78.6 328.6 77.2 332.4 77 335.4 77.3 337.4 77.8 339.4 78.9 341.1 80.2 342.4 81.8 343.3 83.5 343.9 85.2 344.1 87 343.9 89 343.2 91 342.4 92.5 340.9 94.3 339.4 95.7 337.9 96.7 333.6 98.6 330.1 99.6 324.1 100.4 322.1 101.1 320.4 102.5 316.1 106.9 314.6 108.1 313.4 108.8Z M313.1 105.8 311.9 105.9 310.4 105.6 308.9 104.9 307.6 103.8 306.4 102.3 305.4 100.5 304.6 98.5 304 96.5 303.5 91.5 303.6 89.2 304 87 304.6 84.8 305.5 82.8 306.4 81.3 307.6 80 309.6 78.8 310.9 78.5 312.1 78.5 314.1 79 318.1 80.8 320.4 81 328.1 79.2 330.4 78.9 332.6 78.9 335.1 79.2 336.9 79.8 338.9 80.9 340.5 82.2 341.5 83.8 342.2 85.2 342.4 86.8 342.4 88.2 342 89.8 341.3 91.2 340.2 92.8 338.9 94 336.1 95.9 332.1 97.4 328.9 98 323.4 98.3 321.4 98.8 319.6 100 315.4 104.5 314.1 105.4 313.1 105.8Z M312.6 103.8 311.4 103.8 310.1 103.5 308.9 102.8 307.9 101.9 306.9 100.7 305.9 99 304.8 95.5 304.5 91.2 304.6 89.2 305 87.2 305.6 85.3 306.4 83.7 307.4 82.3 308.4 81.4 310.1 80.5 312.1 80.3 313.9 80.7 317.9 82.6 319.9 82.9 321.6 82.6 325.6 81.2 327.9 80.6 330.4 80.3 332.6 80.3 334.9 80.7 336.6 81.3 338.4 82.4 339.7 83.8 340.4 85 340.8 86.2 340.9 87.5 340.7 89 340.2 90.2 339.5 91.5 337.2 93.8 334.4 95.3 330.9 96.3 327.9 96.7 322.6 96.6 320.7 97 318.9 98.3 314.9 102.5 313.6 103.4 312.6 103.8Z M312.4 103.3 311.1 103.3 309.9 102.9 308.6 102.1 307.6 101.1 306.7 99.8 305.9 98.3 305 95 304.7 91 305.3 87.2 306.6 83.9 307.6 82.6 308.6 81.7 310.4 80.8 312.4 80.7 314.1 81.3 317.9 83 319.9 83.3 321.6 83 327.6 81 330.1 80.6 332.4 80.6 334.6 81 336.4 81.6 338.1 82.7 339.4 84.1 340.1 85.2 340.5 86.5 340.5 87.8 340.3 89 339.2 91.2 338.1 92.5 336.9 93.5 333.9 95.1 330.4 96.1 327.4 96.4 322.4 96.1 320.6 96.5 318.9 97.6 314.9 102 313.6 102.9 312.4 103.3Z M312.4 102.8 311.4 102.8 310.1 102.5 308.9 101.8 307.9 100.9 306.9 99.5 306.1 98.1 305.2 94.8 305 90.8 305.5 87.2 306.9 84.2 307.9 82.8 308.9 82 310.6 81.2 312.4 81.2 314.1 81.7 317.9 83.5 319.9 83.9 321.4 83.6 325.4 82 327.6 81.4 330.1 81 332.4 81 334.6 81.3 336.4 82 337.9 83 339.1 84.4 339.7 85.5 340.1 86.8 340.1 88 339.8 89.2 339.3 90.5 338.6 91.5 336.4 93.5 333.6 94.9 330.1 95.8 327.1 96 322.1 95.7 320.4 96 318.6 97.2 314.8 101.5 313.6 102.3 312.4 102.8Z M312.4 102.3 311.4 102.3 310.1 102 308.9 101.3 307.9 100.3 306.3 97.8 305.4 94.5 305.2 90.8 305.8 87.2 307.2 84.2 308.1 83.1 309.1 82.3 310.9 81.6 312.6 81.6 314.4 82.2 317.9 84.1 319.6 84.4 321.4 84 325.4 82.4 327.6 81.7 330.1 81.3 332.4 81.3 334.4 81.6 336.1 82.3 337.6 83.2 338.7 84.5 339.3 85.5 339.7 86.8 339.5 89 339 90.2 338.3 91.2 336.1 93.3 333.4 94.7 329.9 95.6 326.9 95.7 322.1 95.1 320.4 95.4 318.6 96.6 314.6 101 313.4 101.9 312.4 102.3Z M312.1 101.8 311.1 101.8 309.9 101.4 308.9 100.8 307.9 99.8 306.4 97.2 305.6 94.2 305.5 90.5 306.1 87.2 307.5 84.5 308.4 83.4 309.4 82.6 310.9 82 312.6 82.1 314.4 82.7 317.9 84.6 319.6 85 321.1 84.7 325.1 82.9 327.4 82.1 329.9 81.7 332.4 81.7 334.4 82 336.1 82.7 337.5 83.8 338.6 85 339.3 87 339.2 88.2 339 89.2 338.4 90.5 337.6 91.5 335.6 93.2 332.6 94.6 329.4 95.3 326.4 95.3 321.9 94.6 320.4 94.8 318.6 95.9 314.6 100.5 313.4 101.4 312.1 101.8Z M312.1 101.3 311.1 101.3 310.1 101 309.1 100.4 308.1 99.5 306.7 97.2 305.9 94.2 305.7 90.8 306.3 87.8 307.6 85 308.4 83.9 309.4 83.1 310.9 82.5 312.6 82.5 314.4 83.2 317.9 85.3 319.6 85.6 321.1 85.3 324.9 83.4 327.1 82.6 329.6 82 332.1 82 334.1 82.3 335.6 82.9 337.1 83.9 338.1 85.1 338.8 87 338.8 88.2 338.6 89.2 337.4 91.2 335.3 93 332.4 94.3 329.1 95 326.4 94.9 321.6 94 320.1 94.2 319.4 94.6 318.4 95.4 314.6 99.9 313.4 100.8 312.1 101.3Z M312.1 100.8 311.1 100.8 310.1 100.5 308.4 99.2 307 97 306.1 94 306 90.8 306.6 87.8 307.9 85.1 308.6 84.2 309.6 83.5 311.1 82.9 312.9 83.1 314.6 83.9 317.9 85.9 319.6 86.4 321.1 85.9 324.6 84 326.9 83 329.4 82.4 331.9 82.3 333.9 82.7 335.4 83.2 336.6 84 337.7 85.2 338.2 86.2 338.4 87.2 338.1 89.2 336.9 91.2 334.9 92.9 332.1 94.1 328.9 94.6 325.9 94.4 321.6 93.3 320.1 93.4 319.4 93.8 318.4 94.7 315.6 98.2 314.4 99.5 313.1 100.4 312.1 100.8Z M312.1 100.3 311.1 100.3 310.1 100 308.4 98.7 307.1 96.5 306.4 93.8 306.3 90.5 306.9 87.8 308.1 85.4 309 84.5 309.9 83.8 311.4 83.4 313.1 83.7 314.8 84.5 317.9 86.7 319.4 87.2 320.9 86.8 324.1 84.8 326 83.8 327.9 83.1 329.9 82.7 332.2 82.8 334.4 83.2 336.1 84.2 337.4 85.6 337.8 86.5 338 87.5 337.6 89.5 336.3 91.2 334.4 92.8 331.4 93.9 328.4 94.3 325.6 93.9 321.4 92.6 319.9 92.6 318.4 93.8 314.6 98.7 313.4 99.7 312.1 100.3Z M312.1 99.8 311.4 99.8 310.4 99.6 309.4 99.1 308.6 98.4 307.4 96.4 306.7 93.8 306.6 90.8 307.1 88 308.4 85.8 309.9 84.3 310.6 84 311.6 83.9 313.4 84.3 315.1 85.3 318.4 87.9 319.6 88.4 320.6 88 323.4 85.8 325.1 84.6 327.1 83.7 329.1 83.2 331.6 83.1 333.9 83.5 335.6 84.4 337 85.8 337.5 87.5 337.2 89.2 336.1 91 334.1 92.5 331.1 93.6 329.4 93.9 327.9 93.9 325.1 93.3 320.9 91.4 319.9 91.4 318.6 92.5 314.8 98 313.4 99.2 312.1 99.8Z M329.6 93.5 327.9 93.5 326.1 93.2 324.4 92.5 323 91.8 321.9 90.8 321.4 90 321.4 89.2 321.8 88.2 323 86.8 324.5 85.5 326.1 84.6 327.9 83.9 329.9 83.5 331.6 83.5 333.4 83.8 334.9 84.4 336.1 85.4 336.9 86.8 337 88.2 336.5 89.8 335.4 91.1 333.8 92.2 331.9 93.1 329.6 93.5Z M311.9 99.3 310.9 99.3 310.1 99 309.1 98.3 308.4 97.5 307.3 95 306.8 92 307.1 89.1 308.1 86.7 309.7 85 310.6 84.5 311.6 84.3 313.4 84.8 315.6 86.2 317.7 88.5 318.4 89.5 318.5 90.2 318.3 91.2 317.8 92.5 315.4 96.6 313.6 98.5 311.9 99.3Z M330.6 93 328.6 93.2 326.9 92.9 325.1 92.3 323.8 91.5 322.8 90.5 322.5 89.5 322.6 88.5 323.4 87.2 324.6 86 325.9 85.1 327.4 84.4 329.1 84 330.9 83.8 332.4 84 333.9 84.4 335.1 85.1 336 86 336.5 87.2 336.5 88.5 336 89.8 335.1 90.8 333.9 91.8 332.4 92.5 330.6 93Z M311.9 98.8 310.9 98.8 310.1 98.5 308.6 97.2 307.6 95 307.1 92.2 307.4 89.5 308.2 87.2 309.6 85.5 310.4 85.1 311.4 84.8 313.1 85.2 315.1 86.5 317 88.8 317.6 90.5 317.1 92.8 315.3 96 313.6 97.9 312.7 98.5 311.9 98.8Z M329.6 92.8 326.9 92.5 325.5 92 324.4 91.2 323.7 90.5 323.3 89.5 323.3 88.8 323.7 87.8 324.5 86.8 325.7 85.8 328.4 84.5 329.9 84.3 331.4 84.2 332.9 84.5 334.1 85 335.3 86 335.9 87 336 88.2 335.6 89.5 334.6 90.8 333.2 91.8 331.4 92.5 329.6 92.8Z M311.9 98.3 310.4 98.1 309.6 97.7 308.9 96.9 307.9 94.9 307.4 92.2 307.6 89.8 308.5 87.5 309.9 85.9 311.4 85.3 313.1 85.7 315 87 316.5 89 316.9 90.8 316.4 93 315.1 95.5 313.6 97.3 312.7 98 311.9 98.3Z M330.6 92.3 328.9 92.4 327.4 92.2 325.9 91.6 324.7 90.8 324.1 89.8 324.1 88.8 324.4 87.8 325.2 86.8 326.1 86 327.4 85.3 330.1 84.6 332.6 84.9 333.6 85.3 334.6 86 335.2 86.8 335.5 87.8 335.4 88.8 334.9 89.8 334.1 90.6 333.1 91.3 330.6 92.3Z M311.9 97.8 311.1 97.8 310.4 97.6 309.1 96.5 308.1 94.7 307.7 92.2 307.9 90 308.6 87.9 309.9 86.4 311.4 85.8 313.1 86.2 314.6 87.3 315.8 89 316.3 90.8 316 92.8 314.9 95.2 313.4 97 311.9 97.8Z M331.1 91.8 329.6 92 328.4 91.9 326.9 91.6 325.9 91 325.1 90.2 324.7 89.2 324.9 88.2 325.4 87.2 326.2 86.5 327.4 85.8 329.6 85.1 331.9 85.1 333 85.5 333.9 86 334.6 86.8 334.9 87.5 334.9 88.4 334.6 89.2 333.3 90.8 331.1 91.8Z M311.9 97.3 310.6 97.2 309.4 96.2 308.4 94.5 308 92.2 308.2 90 308.9 88.2 310.1 86.8 311.4 86.3 312.9 86.6 314.4 87.7 315.4 89.2 315.8 91 315.5 93 314.6 95 313.3 96.5 311.9 97.3Z M330.4 91.5 328.4 91.5 326.6 90.9 325.6 89.8 325.4 88.5 325.8 87.8 326.4 87 327.9 86 329.9 85.5 331.9 85.6 333 86 333.9 86.8 334.3 87.8 334.3 88.8 333.7 89.8 332.9 90.5 331.6 91.2 330.4 91.5Z M311.9 96.8 310.6 96.7 309.5 95.8 308.7 94.2 308.3 92.2 308.5 90.2 309.1 88.5 310.1 87.3 311.4 86.8 312.6 87 314 88 315 89.5 315.3 91 315.1 92.8 314.4 94.5 313.1 96.1 311.9 96.8Z M330.6 91 328.4 91.1 327.4 90.7 326.6 90.2 326.2 89.5 326.1 88.8 326.3 88 326.8 87.2 328.4 86.2 330.1 85.9 331.9 86.1 333.1 86.8 333.5 87.2 333.8 88 333.4 89.2 332.4 90.3 330.6 91Z M311.9 96.3 310.6 96.2 309.6 95.3 309 94 308.6 92.2 308.8 90.2 309.4 88.8 310.4 87.7 311.4 87.3 312.6 87.5 313.6 88.3 314.5 89.5 314.9 91 314.8 92.5 314.1 94.2 313.1 95.5 311.9 96.3Z M330.9 90.5 328.9 90.7 327.4 90.1 326.9 89.5 326.7 89 326.8 88.2 327.1 87.8 328.1 86.9 329.6 86.3 331.1 86.4 332.4 86.9 333.1 87.8 333 88.8 332.3 89.8 330.9 90.5Z M311.9 95.8 310.9 95.8 309.9 95 309.2 93.8 308.9 92.2 309 90.8 309.5 89.2 310.4 88.2 311.4 87.8 312.4 88 313.5 88.8 314.2 90 314.5 91.2 314.4 92.5 313.8 94 312.9 95.2 311.9 95.8Z M330.9 90 329.4 90.2 328.1 89.9 327.5 89 327.7 88 328.4 87.3 329.4 86.9 330.6 86.8 331.6 87.1 332.3 87.8 332.4 88.5 331.9 89.4 330.9 90Z M311.9 95.3 310.9 95.2 310.1 94.7 309.6 93.8 309.2 92.2 309.3 90.8 309.8 89.5 310.4 88.7 311.4 88.3 312.4 88.5 313.1 89 313.8 90 314.1 91.2 314 92.5 313.5 93.8 312.7 94.8 311.9 95.3Z M330.4 89.6 329.4 89.6 328.6 89.2 328.3 88.8 328.6 88 329.1 87.6 329.9 87.4 330.6 87.4 331.4 87.8 331.6 88.2 331.5 88.8 331.1 89.2 330.4 89.6Z M311.9 94.8 311.1 94.8 310.4 94.4 309.8 93.5 309.6 92.2 309.6 91 309.9 90 310.6 89.1 311.4 88.8 312.1 88.9 312.9 89.4 313.5 90.2 313.7 91.2 313.6 92.2 313.2 93.5 312.6 94.3 311.9 94.8Z M311.9 94.3 311.1 94.3 310.6 94 310.1 93.3 309.9 92.2 309.9 91.2 310.2 90.2 310.6 89.6 311.4 89.2 312.1 89.4 312.6 89.7 313.1 90.5 313.3 91.2 313 93 312.6 93.8 311.9 94.3Z M311.9 93.8 311.4 93.9 310.9 93.7 310.4 93.1 310.2 92.2 310.4 90.6 310.9 89.9 311.4 89.7 311.9 89.8 312.4 90.1 313 91.2 312.8 92.8 311.9 93.8Z M311.9 93.3 311.4 93.4 311 93.2 310.5 92.2 310.6 90.8 311.4 90.2 311.9 90.2 312.2 90.5 312.6 91.5 312.5 92.5 311.9 93.3Z M311.4 93 310.9 92.6 310.7 91.8 310.9 91 311.1 90.7 311.6 90.6 312.2 91 312.3 92 312 92.8 311.4 93Z M311.6 92.6 311.1 92.5 310.9 92 311 91.2 311.4 90.9 311.9 91.1 312.1 91.5 312 92.2 311.6 92.6Z" fill="none" stroke="#000" stroke-width="0.75" stroke-linejoin="round" clip-path="url(#cA3)"/>
<path d="M200.2 219.6 198.9 219.7 197.7 219.5 196.4 219 195.2 218.2 193.3 216.3 191.1 212.8 189.8 209.6 188.8 204.8 188.7 201.6 189.4 198.6 190.4 196.3 192.2 194.2 194.2 192.6 196.4 191.6 199.2 190.9 203.2 190.6 206.7 190.7 209.7 191.4 211.4 192.2 212.6 193.3 213.4 194.6 213.8 196.1 213.8 197.6 213.5 199.6 211.5 206.6 209.6 211.1 208.2 213.3 206.9 215.1 205.2 216.8 203.2 218.4 201.7 219.2 200.2 219.6Z M200.2 217.1 198.2 217 196.2 215.9 194.1 213.8 192.3 211.1 191.2 208.1 190.5 204.3 190.5 201.6 191.1 198.8 192.1 196.8 193.6 195.1 195.2 193.9 197.4 192.9 199.9 192.3 203.7 192.1 206.4 192.2 208.9 192.7 210.4 193.4 211.4 194.3 212 195.3 212.3 196.8 211.9 199.8 209.8 206.8 208 210.6 205.7 213.7 202.9 216 201.4 216.7 200.2 217.1Z M200.4 214.6 198.7 214.5 196.9 213.6 194.9 211.8 193.6 209.8 192.6 207.3 191.9 204.3 191.9 201.8 192.5 199.3 193.4 197.6 194.6 196.1 196.2 194.9 197.9 194.1 200.7 193.5 203.9 193.2 206.4 193.3 208.4 193.8 209.7 194.4 210.4 195.2 210.9 196.1 211.1 197.3 210.7 199.8 208.5 206.6 206.9 209.8 204.9 212.3 202.9 213.7 200.4 214.6Z M200.4 212.8 198.7 212.6 197.2 211.8 195.5 210.3 194.2 208.3 193.4 206.1 193 203.6 193.1 201.3 193.7 199.3 194.5 197.8 195.7 196.6 197.1 195.6 198.7 194.9 201.2 194.3 203.9 194 206.2 194.1 207.9 194.5 208.9 195.1 209.6 195.8 210 196.8 210.1 197.8 209.7 199.8 207.5 206.6 206.2 209 204.4 211 202.4 212.3 200.4 212.8Z M200.4 212.3 198.7 212.1 197.2 211.3 195.7 209.8 194.5 208.1 193.7 205.8 193.4 203.6 193.5 201.3 194.1 199.3 194.9 197.9 195.9 196.8 197.3 195.8 199 195.1 201.4 194.5 204.2 194.2 206.2 194.3 207.9 194.8 208.7 195.3 209.4 196.1 209.8 197.1 209.8 198.1 209.4 199.8 207.1 206.6 205.9 208.8 204.2 210.8 202.4 211.8 200.4 212.3Z M200.4 211.8 198.9 211.6 197.4 210.9 196 209.6 194.9 207.8 194.1 205.8 193.7 203.6 193.8 201.6 194.4 199.6 195.2 198.1 196.2 197 197.5 196.1 199.2 195.3 201.4 194.8 204.2 194.5 206.2 194.6 207.7 195 208.5 195.6 209.2 196.3 209.4 197.1 209.5 198.1 209.1 199.8 206.8 206.6 205.7 208.6 204.2 210.2 202.4 211.3 200.4 211.8Z M200.7 211.3 199.2 211.2 197.7 210.5 196.3 209.3 195.2 207.6 194.4 205.6 194.1 203.6 194.2 201.6 194.7 199.8 195.4 198.4 196.4 197.3 197.7 196.4 199.2 195.7 201.4 195.1 203.9 194.8 205.9 194.8 207.4 195.2 208.2 195.7 208.8 196.3 209.1 197.1 209.2 198.1 208.9 199.6 206.7 206.1 205.6 208.1 204.2 209.7 202.4 210.8 200.7 211.3Z M200.7 210.8 199.2 210.7 197.9 210.1 196.7 209 195.5 207.3 194.8 205.6 194.5 203.6 194.6 201.6 195.1 199.8 195.8 198.6 196.7 197.6 197.9 196.6 199.4 195.9 201.7 195.3 203.9 195 205.7 195.1 207.2 195.5 207.9 195.9 208.5 196.6 208.8 197.3 208.8 198.3 208.4 199.8 206.3 206.1 205.2 208.1 203.9 209.4 202.4 210.3 200.7 210.8Z M200.7 210.3 199.2 210.2 197.9 209.6 196.9 208.6 195.8 207.1 195.2 205.3 194.9 203.6 194.9 201.8 195.4 200.1 196.1 198.8 197 197.8 198.2 196.9 199.7 196.2 201.7 195.6 203.9 195.3 205.7 195.4 206.9 195.7 207.7 196.2 208.2 196.8 208.4 198.3 208.2 199.6 206 205.8 205 207.6 203.7 209.1 202.2 209.9 200.7 210.3Z M200.7 209.8 199.4 209.7 198.2 209.1 197 208.1 196 206.6 195.5 205.1 195.2 203.3 195.4 201.6 195.8 200.1 196.6 198.8 197.4 197.9 198.7 197.1 199.9 196.5 201.9 195.9 203.9 195.7 205.4 195.7 206.7 196 207.7 196.8 208 197.6 208.1 198.3 207.8 199.6 205.7 205.7 204.7 207.3 203.6 208.6 202.2 209.4 200.7 209.8Z M200.7 209.3 199.4 209.2 198.4 208.7 197.4 207.8 196.4 206.3 195.8 204.8 195.6 203.3 195.7 201.8 196.2 200.3 196.7 199.3 197.6 198.3 198.7 197.5 199.9 196.9 201.9 196.3 203.7 196 205.2 196 206.4 196.3 207.4 197.2 207.6 198.6 205.3 205.6 204.4 207.1 203.4 208.1 202.2 208.9 200.7 209.3Z M200.7 208.8 199.4 208.7 198.4 208.1 197.5 207.3 196.7 206.1 196.3 204.8 196 203.3 196.1 201.8 196.5 200.6 197.1 199.6 197.9 198.6 198.9 197.8 200.2 197.2 201.9 196.7 203.7 196.4 205.2 196.4 206.2 196.7 207 197.6 207.1 198.8 205 205.3 204.2 206.7 203.2 207.8 201.9 208.5 200.7 208.8Z M200.7 208.3 199.7 208.2 198.7 207.7 197.7 206.8 197.1 205.8 196.6 204.6 196.4 203.1 196.5 201.8 196.9 200.6 198.2 198.9 200.2 197.7 203.4 196.8 204.7 196.8 205.7 197 206.5 197.8 206.7 198.8 204.7 205.1 203.9 206.4 202.9 207.4 201.9 208 200.7 208.3Z M200.7 207.8 199.7 207.7 198.9 207.3 198 206.6 197.4 205.6 196.8 203.3 196.9 202.1 197.2 201.1 198.4 199.3 200.2 198.1 202.9 197.3 204.2 197.2 205.2 197.4 205.9 198.1 206.1 199.1 204.4 204.7 203.7 206 202.9 206.8 201.9 207.5 200.7 207.8Z M200.7 207.3 199.7 207.2 198.9 206.8 197.7 205.3 197.4 204.3 197.2 203.1 197.6 201.1 198.7 199.6 200.4 198.5 202.8 197.8 204.7 197.9 205.2 198.3 205.5 199.3 204.1 204.3 203.5 205.6 202.7 206.5 201.7 207.1 200.7 207.3Z M200.9 206.8 200.2 206.8 199.4 206.5 198.7 205.9 198.2 205.2 197.6 203.3 197.9 201.4 198.9 199.9 200.4 198.9 202.7 198.3 204.2 198.5 204.7 198.9 204.8 199.8 203.8 204.1 202.7 205.9 201.9 206.4 200.9 206.8Z M200.9 206.3 199.7 206.1 198.6 205.1 198 203.6 198.2 201.8 198.9 200.5 200.2 199.6 201.9 199 203.4 199 203.9 199.3 204.2 200.1 204.1 201.3 203.7 203.3 202.6 205.3 201.9 205.9 200.9 206.3Z M200.9 205.8 199.9 205.7 198.9 204.8 198.4 203.6 198.5 202.1 199.2 200.9 200.2 200 201.7 199.5 202.8 199.6 203.4 199.9 203.6 200.6 203.6 201.6 203.3 203.1 202.4 204.9 201.7 205.5 200.9 205.8Z M200.9 205.3 199.9 205.1 199.3 204.6 198.9 203.6 198.9 202.3 199.3 201.3 200.1 200.6 201.2 200.1 202.2 200.1 202.7 200.3 203.1 200.8 203.2 201.6 203 202.8 202.2 204.6 201.6 205.1 200.9 205.3Z M200.9 204.8 200.2 204.7 199.5 204.1 199.2 203.3 199.3 202.3 199.7 201.6 200.4 200.9 201.2 200.6 201.9 200.6 202.4 200.9 202.6 201.3 202.6 202.8 201.9 204.2 200.9 204.8Z M200.9 204.3 200.4 204.3 199.9 203.9 199.6 203.3 199.6 202.6 199.9 201.9 200.4 201.4 201.2 201.1 201.7 201.1 202.2 201.6 202.2 202.8 201.7 203.9 200.9 204.3Z M200.9 203.8 200.4 203.7 200.2 203.4 200 202.6 200.5 201.8 201.4 201.6 201.8 202.1 201.8 202.8 201.4 203.6 200.9 203.8Z M200.9 203.3 200.4 203.1 200.4 202.7 200.7 202.2 201.2 202 201.4 202.3 201.4 202.8 200.9 203.3Z" fill="none" stroke="#000" stroke-width="0.75" stroke-linejoin="round" clip-path="url(#cA4)"/>
<path d="M311.1 219.6 308.9 219.6 306.6 219 304.9 217.9 303.4 216.3 302.1 214.3 301.3 212.3 300.5 209.1 300.2 206.1 300.3 203.8 300.7 200.8 303.2 190.1 303.7 184.1 304.2 181.8 305.1 180.1 306.4 178.8 308.4 177.7 310.4 177.3 311.6 177.5 312.9 177.9 314.1 178.5 315.4 179.5 316.9 181.3 318.9 185.1 319.8 186.1 320.9 186.3 323.9 186 325.4 186.1 326.9 186.5 328.4 187.4 329.6 188.6 330.4 189.8 331 191.3 331.2 193.1 330.8 195.6 329.8 197.8 328.4 199.6 325.2 202.1 324.1 203.3 321 210.1 318 215.1 316.6 216.7 315.1 217.9 313.1 219 311.1 219.6Z M311.1 218.3 309.1 218.3 307.1 217.8 305.6 216.9 304.1 215.3 302.9 213.6 302.1 211.6 301.5 208.8 301.2 206.1 301.3 203.8 301.8 200.8 304.4 190.1 304.6 184.8 305.1 182.6 305.9 180.8 307.1 179.6 308.6 178.8 310.4 178.4 311.6 178.6 312.9 179 314.1 179.8 315.2 180.8 316.5 183.1 317.9 187.7 318.6 188.8 319.6 188.8 322.1 187.7 323.6 187.3 325.1 187.2 326.4 187.5 327.9 188.3 329.2 189.6 330.1 191.3 330.4 193.1 330.3 194.3 329.9 195.6 328.6 198.1 327.1 199.4 323.8 201.3 322.9 202.3 320.3 209.1 318.7 212.1 317.2 214.3 315.9 215.8 314.4 217 312.6 217.9 311.1 218.3Z M310.9 217.1 309.1 217 307.4 216.5 305.9 215.5 304.5 214.1 303.6 212.6 302.8 210.6 302.3 208.1 302.1 205.8 302.6 201.6 305.4 190.6 305.5 185.3 305.9 183.1 306.6 181.6 307.6 180.5 308.9 179.8 310.4 179.4 311.9 179.7 313.1 180.3 314.3 181.3 315.1 182.6 316 185.3 316.5 190.8 316.9 192 317.4 192.6 317.9 192.8 318.4 192.7 320.9 190.1 322.4 188.9 323.6 188.4 325.1 188.3 326.9 188.8 328.3 189.8 329.3 191.6 329.6 193.3 329.5 194.6 329.1 195.8 328.4 197.1 327.4 198.1 325.6 199.2 322.1 200 321.3 200.6 321 201.6 320.5 205.3 319.9 207.6 318.4 210.8 316.5 213.6 315.1 215 313.9 215.9 312.4 216.7 310.9 217.1Z M310.6 215.8 309.1 215.7 307.6 215.3 306.4 214.4 305.1 213.2 304.3 211.8 303.6 210.1 303.1 207.8 302.9 205.8 303.4 202.1 306.5 190.8 306.3 185.8 306.6 183.6 307.2 182.3 308.1 181.3 309.1 180.7 310.4 180.4 311.6 180.6 312.9 181.3 313.9 182.3 314.5 183.6 315.1 186.3 314.7 191.1 314.9 193 315.9 195.3 317.8 197.8 318.4 198.8 319.1 201.3 319.4 203.8 319.2 205.8 318.7 207.8 317.7 210.1 316.4 212.2 315.1 213.6 313.9 214.6 312.4 215.4 310.6 215.8Z M324.4 198.6 322.6 198.3 321.1 197.3 320.5 196.6 320.2 195.8 320.2 194.1 320.8 192.1 321.9 190.5 323.6 189.4 325.4 189.2 326.9 189.7 328.1 190.8 328.8 192.3 328.9 194.1 328.4 195.8 327.4 197.2 325.9 198.2 324.4 198.6Z M310.6 214.8 309.1 214.7 307.9 214.3 306.6 213.5 305.6 212.5 304.9 211.3 304.1 209.6 303.7 207.8 303.6 205.8 304 202.6 305.3 198.6 306.1 194.7 307.3 191.1 307.4 189.8 306.9 186.3 307.2 184.1 307.6 182.9 308.4 182 309.4 181.4 310.4 181.2 311.6 181.4 312.6 182 313.4 182.9 314 184.1 314.3 185.3 314.3 186.8 313.5 191.3 313.7 193.3 314.6 196 316.8 199.1 317.6 200.6 318.2 202.6 318.4 204.6 318.3 206.3 317.8 208.1 316.9 210.1 315.9 211.6 314.6 213 313.4 213.9 312.1 214.5 310.6 214.8Z M324.9 197.8 323.4 197.6 322.1 196.8 321.3 195.6 321.1 194.1 321.4 192.6 322.3 191.1 323.6 190.1 325.1 189.8 326.4 190.1 327.4 190.8 328.2 192.1 328.4 193.6 328.2 195.1 327.4 196.4 326.1 197.4 324.9 197.8Z M310.6 214.3 309.4 214.3 308.1 213.9 306.9 213.1 305.8 212.1 305 210.8 304.4 209.3 304 207.6 303.9 205.8 304.4 202.6 305.8 198.6 306.6 194.7 307.8 191.3 307.9 190.1 307.3 186.3 307.4 184.3 307.9 183.2 308.6 182.3 309.4 181.8 310.4 181.5 311.4 181.7 312.4 182.3 313.1 183.1 313.7 184.3 314 186.8 313 191.3 313.1 193.3 314.1 196.4 316.4 199.6 317.1 201 317.7 202.8 317.9 204.8 317.8 206.3 317.4 208.1 316.6 209.8 315.6 211.3 314.6 212.4 313.4 213.4 312.1 214 310.6 214.3Z M325.6 197.3 324.1 197.5 322.9 197 321.9 195.8 321.5 194.6 321.6 193.1 322.3 191.6 323.4 190.6 324.6 190.1 325.9 190.2 327 190.8 327.8 191.8 328.2 193.1 328.1 194.3 327.6 195.6 326.9 196.6 325.6 197.3Z M310.6 213.8 309.4 213.7 308.1 213.3 307.1 212.7 306.1 211.7 305.4 210.6 304.7 209.1 304.4 207.6 304.2 205.8 304.7 202.8 306.3 198.6 307.1 194.8 308.4 191.3 308.4 190.1 307.6 186.6 307.7 184.6 308.1 183.6 308.6 182.8 309.4 182.2 310.4 181.9 311.4 182.1 312.2 182.6 312.9 183.4 313.4 184.6 313.6 185.8 313.6 187.1 313.3 188.6 312.3 191.3 312.4 193.1 313 195.3 313.6 196.8 315.9 199.9 316.7 201.3 317.3 203.1 317.5 205.1 317.4 206.6 317 208.1 316.3 209.6 315.3 211.1 314.4 212.1 313.1 213 311.9 213.6 310.6 213.8Z M325.4 197.1 324.1 197.1 323 196.6 322.2 195.6 321.8 194.3 322 192.8 322.6 191.6 323.6 190.8 324.9 190.4 325.9 190.5 326.9 191.1 327.6 192.1 327.9 193.3 327.8 194.6 327.2 195.8 326.4 196.6 325.4 197.1Z M310.6 213.3 309.4 213.2 308.4 212.9 307.4 212.3 306.4 211.4 305.1 209.1 304.7 207.6 304.6 206.1 304.7 204.6 305.1 202.8 306.8 198.8 307.8 194.6 309.2 191.6 309.2 190.6 308 186.8 308.1 184.6 308.9 183.1 309.6 182.5 310.4 182.4 311.4 182.6 312.1 183.1 312.7 183.8 313.1 184.8 313.3 186.1 313.1 187.4 312.6 188.9 311.5 191.1 311.4 191.8 311.4 192.6 313 197.1 315.4 200.1 316.2 201.6 316.8 203.3 317 205.1 316.9 206.6 316.5 208.1 315.1 210.6 314.1 211.7 313.1 212.5 311.9 213.1 310.6 213.3Z M325.1 196.8 324.1 196.8 323.1 196.2 322.5 195.3 322.2 194.1 322.3 192.8 322.9 191.8 323.9 191 324.9 190.7 325.9 190.9 326.9 191.5 327.5 192.6 327.7 193.6 327.5 194.8 326.9 195.8 326.1 196.5 325.1 196.8Z M310.6 190.1 309.9 189.8 309.1 188.9 308.6 187.6 308.3 186.1 308.4 184.8 308.8 183.8 309.6 183.1 310.4 182.8 311.4 183 312.1 183.7 312.6 184.6 312.9 185.8 312.8 187.1 312.4 188.3 311.6 189.4 310.6 190.1Z M325.6 196.4 324.6 196.5 323.6 196.2 323 195.6 322.6 194.6 322.5 193.3 322.9 192.3 323.6 191.5 324.6 191.1 325.6 191.1 326.4 191.5 327 192.1 327.4 193.1 327.4 194.1 327.1 195.1 326.4 195.9 325.6 196.4Z M310.6 212.8 309.6 212.8 308.6 212.5 307.6 211.9 306.7 211.1 306 210.1 305.4 208.8 304.9 206.3 305 204.6 305.6 202.6 307.7 198.3 308.6 194.6 309.1 193.8 309.9 193.3 310.6 193.7 312.4 197.6 315.5 201.3 316.3 203.1 316.6 205.1 316.2 207.8 314.9 210.3 313.9 211.3 312.9 212.1 311.9 212.6 310.6 212.8Z M311.1 188.9 310.4 189 309.6 188.5 309.1 187.6 308.7 186.3 308.7 185.3 309 184.3 309.6 183.6 310.4 183.3 311.1 183.5 311.7 183.8 312.2 184.6 312.5 185.6 312.5 186.6 312.2 187.6 311.6 188.5 311.1 188.9Z M325.4 196.1 324.4 196.1 323.6 195.7 323.1 195.1 322.8 194.1 323 193.1 323.3 192.3 324.1 191.6 324.9 191.4 325.6 191.5 326.4 191.9 326.9 192.6 327.1 193.3 327.1 194.3 326.8 195.1 326.1 195.7 325.4 196.1Z M310.6 212.3 309.6 212.3 308.6 211.9 306.9 210.6 305.8 208.6 305.3 206.3 305.4 204.6 306.1 202.6 308.5 198.6 309.4 196.5 309.9 196 310.4 196.3 311.8 198.1 314.9 201.3 315.8 203.1 316.1 205.1 315.8 207.6 314.6 209.9 312.9 211.6 311.9 212.1 310.6 212.3Z M310.9 188.1 310.3 188.1 309.7 187.6 309.2 186.1 309.5 184.6 309.9 184.1 310.4 183.9 310.9 184 311.4 184.3 312 185.6 311.9 187.1 311.4 187.8 310.9 188.1Z M325.1 195.8 324.4 195.7 323.8 195.3 323.3 194.6 323.2 193.8 323.3 193.1 323.8 192.3 324.4 191.9 325.1 191.7 325.9 191.9 326.4 192.3 326.9 193.6 326.8 194.3 326.4 195.1 325.9 195.5 325.1 195.8Z M310.6 211.8 308.9 211.5 307.9 210.9 307.1 210.1 306.1 208.3 305.7 206.1 306 203.8 307 201.8 308.9 199.4 309.6 198.8 310.4 198.6 311.1 198.8 312.1 199.4 314.4 201.5 315.4 203.3 315.7 205.3 315.3 207.8 314.2 209.8 312.4 211.3 310.6 211.8Z M310.9 187.1 310.4 187.1 309.8 186.3 309.8 185.3 310.4 184.7 310.9 184.8 311.4 185.6 311.4 186.4 310.9 187.1Z M325.4 195.4 324.6 195.4 324.1 195.1 323.6 194.1 323.9 192.8 324.4 192.3 324.9 192.1 325.9 192.4 326.5 193.3 326.3 194.6 325.9 195.1 325.4 195.4Z M310.6 211.3 309.6 211.2 308.9 211 307.5 209.8 306.5 208.1 306.1 206.1 306.4 204.1 307.4 202.1 308.9 200.4 309.6 199.9 310.4 199.7 311.1 199.8 312.1 200.2 313.9 201.7 314.9 203.3 315.2 205.3 314.9 207.6 314 209.3 312.4 210.7 310.6 211.3Z M325.4 194.9 324.5 194.8 324 194.1 324.1 193.1 324.9 192.6 325.6 192.7 326.1 193.6 326 194.3 325.4 194.9Z M310.6 210.8 309.1 210.5 307.9 209.6 306.9 208 306.5 206.1 306.8 204.1 307.8 202.3 309.1 201 309.9 200.6 310.6 200.5 312.1 201 313.6 202.2 314.5 203.8 314.8 205.6 314.5 207.3 313.6 209.1 312.2 210.3 310.6 210.8Z M325.4 194.1 325.1 194.3 324.7 194.1 324.6 193.6 324.9 193.3 325.4 193.4 325.5 193.8 325.4 194.1Z M310.6 210.3 309.4 210.1 308.1 209.2 307.3 207.8 306.9 206.1 307.2 204.3 308 202.8 309.4 201.5 310.6 201.2 312.1 201.6 313.4 202.7 314.1 204.1 314.4 205.6 314.1 207.3 313.3 208.8 312.1 209.8 310.6 210.3Z M310.6 209.8 309.4 209.6 308.4 208.8 307.7 207.6 307.4 206.1 307.6 204.6 308.4 203.1 309.4 202.2 310.6 201.8 311.9 202.1 313.1 203.1 313.7 204.1 313.9 205.6 313.6 207.2 312.9 208.5 311.9 209.4 310.6 209.8Z M310.6 209.3 309.6 209.1 308.6 208.4 308 207.3 307.8 206.1 308 204.8 308.6 203.5 309.6 202.7 310.6 202.4 311.6 202.6 312.6 203.3 313.3 204.3 313.5 205.6 313.3 206.8 312.7 208.1 311.6 209 310.6 209.3Z M310.6 208.8 309.6 208.6 309 208.1 308.4 207.1 308.2 206.1 308.4 204.9 308.9 203.9 309.6 203.2 310.6 202.9 311.6 203.2 312.4 203.8 312.9 204.6 313.1 205.8 312.9 206.8 312.4 207.8 311.6 208.5 310.6 208.8Z M310.6 208.3 309.9 208.2 309.4 207.8 308.9 207.1 308.7 206.1 308.8 205.1 309.2 204.3 309.9 203.7 310.6 203.5 311.4 203.6 312.1 204.2 312.6 205.1 312.7 205.8 312.5 206.8 312 207.6 311.4 208.1 310.6 208.3Z M310.6 207.8 310.1 207.7 309.5 207.3 309.1 206.1 309.2 205.3 309.6 204.6 310.1 204.1 310.6 204 311.1 204.1 311.8 204.6 312.2 205.8 312.1 206.6 311.7 207.3 310.6 207.8Z M310.6 207.3 309.9 207 309.5 206.1 309.8 205.1 310.1 204.7 310.6 204.5 311.4 204.8 311.8 205.8 311.5 206.8 310.6 207.3Z M310.6 206.8 310.1 206.6 309.9 206.1 310.1 205.3 310.6 205 311.1 205.2 311.4 205.8 311.2 206.6 310.6 206.8Z M310.6 206.6 310.4 206.5 310.1 206.1 310.2 205.6 310.6 205.3 310.9 205.3 311.2 205.8 311.1 206.3 310.6 206.6Z M310.6 206.2 310.5 206.1 310.6 205.7 310.8 206.1 310.6 206.2Z" fill="none" stroke="#000" stroke-width="0.75" stroke-linejoin="round" clip-path="url(#cA5)"/>
<path d="M276.8 340 279.1 339.9 280.8 339.5 287.3 336.9 290.6 335.8 297.8 334.3 301.1 333.9 306.1 333.7 310.3 334.1 314.6 335 317.3 336.3 318.9 337.7 320.2 339.4 321.2 341.4 321.8 343.9 322.1 347.9 322 351.7 320.4 361.4 319.9 366.4 320 366.9 320.5 367.4 322.9 368.9 323.3 369.7 323.3 370.4 M289.4 370.4 289.4 369.7 289.8 368.9 291.9 367.4 292.3 366.7 291.8 363.9 290.8 361.7 285.1 353.9 282.8 351.4 281.6 350.4 280.3 349.7 278.8 349.3 276.8 349.2 M276.8 341.7 279.1 341.6 280.8 341.2 287.3 338.1 290.3 337 296.8 335.6 300.8 334.9 305.3 334.7 309.8 335 313.6 335.8 316.6 337.1 318.1 338.3 319.3 339.9 320.4 342.2 320.9 344.2 321.2 348.4 321 351.9 319.3 361.4 318.6 366.4 318.7 366.9 319.1 367.4 321.3 368.6 322 369.2 322.3 369.7 322.3 370.4 M290.4 370.4 290.4 369.7 290.7 369.2 293.2 367.4 293.5 366.9 293.5 366.2 293.1 363.9 292.1 361.4 285.3 352.4 282.8 349.8 281.6 348.7 280.3 348 278.8 347.6 276.8 347.5 M291.6 370.4 291.6 369.7 292 369.2 292.8 368.6 294.8 367.7 295.5 366.9 295.4 365.9 294.5 362.4 293.2 359.9 288.8 354.9 284.2 348.4 282.4 345.4 282.3 344.7 282.4 344.2 283.4 342.9 285.7 340.9 287.8 339.7 290.1 338.6 292.8 337.8 299.3 336.3 302.3 335.9 305.1 335.8 310.3 336.3 314.8 337.6 316.1 338.2 317.2 339.2 318.2 340.4 318.9 341.7 319.5 343.4 319.9 345.4 320 348.7 319.9 351.4 319 356.4 316.3 366.7 316.8 367.4 319.6 368.5 320.6 369.1 321 369.7 321 370.4 M292.9 370.4 292.9 369.7 293.4 369.2 294.6 368.6 297.5 367.7 298.1 367.2 298.1 366.4 296.6 361.4 295.5 359.2 294.1 357.4 290.1 353.8 287.6 350.2 286.8 348.4 286.2 346.7 286.1 345.4 286.3 344.4 287.1 343.2 288.3 341.9 289.8 340.8 291.6 339.9 299.6 337.5 302.3 337.1 305.1 337 309.6 337.4 313.9 338.7 315.3 339.4 316.2 340.2 317.7 342.4 318.4 344.4 318.7 346.9 318.7 349.9 318.3 352.7 317.1 356.9 314 363.9 313.1 366.2 313 366.9 313.4 367.4 313.9 367.7 317.8 368.6 319.1 369.1 319.7 369.7 319.8 370.4 M293.9 370.4 293.9 369.7 294.6 369.2 299.4 367.9 300.4 367.4 300.6 366.9 299.3 363.9 297.8 359.4 296.8 357.5 295.3 355.7 291.3 352.6 289.5 350.2 288.9 348.7 288.5 347.2 288.4 345.9 288.6 344.9 289.3 343.8 290.5 342.7 292 341.7 293.8 340.8 300.1 338.5 302.6 338 305.1 337.9 309.3 338.4 313.3 339.8 315.4 341.2 316.2 342.2 316.9 343.4 317.4 345.4 317.6 347.9 317.5 350.4 317 352.9 316.1 355.5 313.1 360.3 310 366.9 310.3 367.4 311.7 367.9 317.8 369.2 318.6 369.7 318.6 370.4 M294.5 370.4 294.6 369.7 295.3 369.3 301 367.9 302.2 367.4 302.4 366.9 300.6 364.1 298.6 358.7 297.4 356.4 295.8 354.6 292.1 351.8 290.6 349.9 289.8 347.4 289.9 345.4 290.6 344.3 291.8 343.1 293.6 342.1 296.8 340.4 301.1 338.9 303.1 338.5 305.1 338.4 307.1 338.5 309.1 338.9 312.8 340.3 314.1 341 315.1 341.9 316.3 343.9 316.8 345.9 317 348.4 316.8 350.7 316.2 352.9 315.1 355.2 312.3 358.9 309.6 364.4 307.7 366.9 308 367.4 308.6 367.7 317.1 369.3 317.9 369.7 318 369.9 318 370.4 M294.9 370.4 294.8 369.9 294.9 369.7 295.9 369.2 305 367.2 302.8 366 301.6 364.7 300.6 362.7 298.8 357.9 297.3 355.4 295.8 353.9 292.6 351.4 291.5 350.2 290.5 347.9 290.3 346.7 290.5 345.7 291.1 344.6 292.3 343.4 297.7 340.4 301.3 339.1 305.1 338.7 307.6 338.9 309.8 339.4 312.6 340.6 314.3 341.7 315.3 342.8 316.1 344.3 316.5 345.9 316.7 348.2 316.4 350.9 315.6 353.3 314.6 355 311.8 358.4 309.3 363.7 307.6 365.8 305.1 367.2 308.5 367.9 316.3 369.2 317.5 369.7 317.7 369.9 317.6 370.4 M305.8 365.8 304.8 365.9 303.8 365.6 302.8 365 302.1 364.2 301.1 362.5 299.5 358.2 298.3 355.9 296.6 353.9 292.5 350.4 291.5 348.9 291 347.2 291 346.2 291.4 345.2 292.3 344.2 293.7 343.2 297.1 341.2 299.6 340 301.6 339.3 303.8 339 306.3 339 308.6 339.4 310.9 340.2 313.3 341.5 314.5 342.4 315.4 343.7 316 345.2 316.3 347.2 316.1 350.4 315.7 351.9 315.1 353.3 311.5 357.7 309.2 362.4 308.3 363.9 307.1 365.2 305.8 365.8Z M295.2 370.4 295.1 369.9 295.3 369.7 296.4 369.2 302.3 368.1 305.1 367.8 308.1 368.1 315.7 369.2 317.1 369.7 317.3 369.9 317.2 370.4 M305.3 365 303.8 364.7 302.3 363.5 301.4 361.9 299.8 357.7 298.7 355.7 297.1 353.6 292.9 349.9 292 348.4 291.7 346.9 291.9 345.7 292.7 344.7 294.3 343.4 297 341.7 300.8 339.8 302.6 339.4 304.6 339.2 306.8 339.3 308.8 339.8 311.1 340.7 313.3 341.9 314.6 343.1 315.3 344.4 315.8 345.9 316 347.7 315.7 350.4 314.7 352.9 311 357.2 308.8 361.9 307.8 363.4 306.6 364.5 305.3 365Z M295.6 370.4 295.5 369.9 295.6 369.7 296.9 369.2 301.8 368.3 305.1 368 309.1 368.4 315.1 369.2 316.7 369.7 316.9 369.9 316.8 370.4 M305.6 364 304.1 363.9 303.3 363.4 302.6 362.6 301.8 361.4 300.2 357.4 299.1 355.4 297.3 353.2 293.5 349.7 292.7 348.4 292.4 347.2 292.6 345.9 293.4 344.9 297.4 341.9 300.8 340.2 302.6 339.7 304.3 339.5 306.6 339.6 308.6 340 310.8 340.9 313 342.2 314.1 343.2 314.9 344.4 315.4 345.7 315.6 347.4 315.4 349.9 314.6 352.2 313.8 353.3 310.6 356.7 307.6 362.6 306.6 363.6 305.6 364Z M296 370.4 295.8 369.9 296 369.7 297.4 369.2 302.3 368.4 305.1 368.2 309.6 368.5 314.4 369.2 316.2 369.7 316.4 369.9 316.3 370.4 M305.6 363 304.8 363.1 304.1 362.8 302.8 361.7 299.6 355.2 297.8 353 294.2 349.4 293.4 348.2 293.2 347.2 293.4 346.2 294 345.2 295.7 343.7 298.1 341.9 301.1 340.4 302.6 339.9 304.3 339.7 306.3 339.8 308.3 340.2 310.3 341 312.6 342.4 313.8 343.4 314.5 344.4 315 345.9 315.2 347.4 315 349.7 314.3 351.7 313.3 352.9 311.2 354.9 310.2 356.2 307.3 361.7 306.6 362.5 305.6 363Z M296.4 370.4 296.2 369.9 296.4 369.7 297.8 369.2 301.8 368.6 305.1 368.4 309.1 368.6 313.8 369.2 315.7 369.7 316 369.9 315.8 370.4 M305.1 362 304.1 361.7 303.1 360.7 300 354.9 298.4 352.9 295.1 349.4 294.3 348.2 294.1 347.2 294.3 346.2 294.9 345.2 296.8 343.4 298.8 341.9 300.3 341.1 301.8 340.5 304.8 340 306.8 340.1 308.6 340.6 310.4 341.4 312.3 342.7 313.4 343.7 314.1 344.7 314.6 345.9 314.8 347.7 314.6 349.7 313.8 351.5 309.8 355.6 306.8 360.9 306.1 361.6 305.1 362Z M296.8 370.4 296.6 369.9 296.9 369.7 298.1 369.3 302.1 368.7 305.1 368.5 309.6 368.7 313.6 369.3 315.1 369.7 315.4 369.9 315.2 370.4 M305.6 360.5 304.6 360.6 303.4 359.7 300.3 354.4 295.8 349.2 295.2 348.2 295 347.2 295.2 346.2 295.8 345.2 297.2 343.7 298.7 342.4 301.3 340.9 304.3 340.3 306.1 340.3 307.8 340.7 309.6 341.4 311.3 342.4 312.6 343.5 313.6 344.6 314.1 345.7 314.3 347.2 314.2 349.2 313.5 350.9 309.6 354.9 306.8 359.4 305.6 360.5Z M297.3 370.4 297.1 369.9 297.4 369.7 298.6 369.3 301.8 368.8 305.3 368.6 309.8 368.9 313.6 369.4 314.9 369.9 314.6 370.4 M305.3 359 304.3 358.9 303.3 357.9 300.7 354.2 296.8 349.4 296.1 348.2 295.9 347.2 296.1 346.2 296.6 345.2 297.6 343.9 299 342.7 301.6 341.2 303.1 340.8 304.6 340.6 306.3 340.7 307.8 341 309.4 341.7 310.9 342.7 312.4 343.9 313.2 344.9 313.7 346.2 313.8 347.4 313.6 349.2 312.9 350.7 309.3 354.3 306.3 358.4 305.3 359Z M297.9 370.4 297.6 369.9 298.6 369.4 301.8 368.9 305.3 368.7 309.6 368.9 313 369.4 314.3 369.9 314 370.4 M305.6 357.3 305.1 357.4 304.3 357.2 302.8 355.9 298 349.9 297.1 348.4 296.8 347.2 296.9 346.2 297.3 345.2 299.3 343 301.8 341.5 304.3 340.9 305.8 340.9 307.3 341.2 308.8 341.8 310.2 342.7 311.7 343.9 312.5 344.9 313 345.9 313.2 347.2 313 348.9 312.2 350.4 306.6 356.6 305.6 357.3Z M298.5 370.4 298.2 369.9 299.3 369.4 302.1 369 305.3 368.8 309.1 369 312.3 369.4 313.6 369.9 313.3 370.4 M305.8 355.7 305.1 355.9 304.3 355.8 302.6 354.5 298.9 350.2 298 348.7 297.6 347.4 297.6 346.4 297.9 345.4 299.3 343.6 301.6 342 304.1 341.3 305.6 341.3 306.8 341.5 309.3 342.6 310.7 343.7 311.6 344.7 312.2 345.7 312.5 346.7 312.4 348.4 311.7 349.9 307.6 354.3 305.8 355.7Z M299.1 370.4 298.8 369.9 300 369.4 302.3 369.1 305.3 368.9 308.6 369.1 311.5 369.4 312.9 369.9 312.6 370.4 M305.8 354.5 305.1 354.7 304.1 354.5 302.1 353 299.4 349.9 298.7 348.7 298.4 347.4 298.5 345.7 299.8 343.8 301.8 342.4 304.1 341.7 306.6 341.9 308.8 342.8 310.9 344.7 311.5 345.7 311.8 346.7 311.6 348.4 310.7 349.9 307.8 353.1 305.8 354.5Z M299.9 370.4 299.5 369.9 300.7 369.4 305.3 369.1 310.8 369.5 312.1 369.9 311.7 370.4 M305.8 353.5 305.1 353.6 304.1 353.5 302.3 352.3 300.1 349.7 299.4 348.4 299.1 347.4 299.3 345.7 300.2 344.2 301.8 342.9 303.8 342.2 306.1 342.2 308.1 342.9 309.9 344.4 310.6 345.4 310.9 346.4 310.8 348.2 309.8 349.9 307.6 352.4 305.8 353.5Z M300.7 370.4 300.3 369.9 300.8 369.7 302.6 369.3 305.3 369.2 308.3 369.3 310.7 369.7 311.2 369.9 310.7 370.4 M306.1 352.5 304.6 352.7 302.8 351.9 300.9 349.9 299.9 347.9 299.8 346.4 300.3 344.9 301.8 343.5 303.6 342.7 305.6 342.6 307.6 343.2 309.1 344.4 309.7 345.2 310.1 346.2 310.1 347.7 309.3 349.4 307.8 351.3 306.1 352.5Z M301.7 370.4 301.2 369.9 301.6 369.7 305.3 369.3 308.1 369.5 310.1 369.9 309.6 370.4 M305.6 351.8 304.1 351.7 302.6 350.8 301.2 349.2 300.5 347.4 300.6 345.9 301.3 344.7 302.5 343.7 304.1 343.1 305.8 343.1 307.6 343.8 308.8 344.9 309.4 346.4 309.3 347.9 308.5 349.4 307.1 351 305.6 351.8Z M303 370.4 302.2 369.9 302.8 369.7 305.3 369.5 308.1 369.7 308.9 369.9 308 370.4 M305.3 351 304.1 350.9 302.6 349.9 301.7 348.7 301.2 347.2 301.3 345.9 301.8 344.9 302.8 344.2 304.3 343.6 305.8 343.7 307.1 344.2 308.2 345.2 308.7 346.4 308.5 347.9 307.8 349.3 306.6 350.5 305.3 351Z M306.6 370.2 304.8 370.3 303.7 369.9 305.3 369.7 307.2 369.9 306.6 370.2Z M305.1 350.2 303.8 349.9 302.8 349.2 302.1 348.2 301.8 346.9 302 345.9 302.7 344.9 303.6 344.4 304.8 344.1 306.1 344.3 307.1 344.8 307.8 345.7 308 346.7 307.8 347.9 307.2 348.9 306.3 349.8 305.1 350.2Z M305.1 349.5 304.1 349.3 303.3 348.7 302.7 347.9 302.5 346.9 302.6 346.2 303.1 345.4 303.8 344.9 304.8 344.7 305.8 344.8 306.6 345.2 307.2 345.9 307.4 346.7 307.2 347.7 306.8 348.5 306.1 349.1 305.1 349.5Z M305.3 348.7 304.6 348.7 304 348.4 303.5 347.9 303.2 347.2 303.2 346.4 303.4 345.9 304 345.4 304.6 345.3 305.9 345.4 306.4 345.9 306.6 346.4 306.7 347.2 306.4 347.9 305.3 348.7Z M305.3 348 304.6 348 303.9 347.4 303.8 346.7 304.3 345.9 305.3 345.9 306 346.4 306.1 346.9 305.9 347.4 305.3 348Z M305.1 347.5 304.6 347.3 304.4 346.9 304.5 346.4 304.8 346.3 305.3 346.4 305.5 346.7 305.4 347.2 305.1 347.5Z" fill="none" stroke="#000" stroke-width="0.75" stroke-linejoin="round" clip-path="url(#cC1L)"/>
<path d="M278.1 355.3 277.8 355 277.6 353.6 277.5 351.5 277.6 349.4 277.8 348 278.1 347.7 278.3 348.5 278.5 351.5 278.3 354.5 278.1 355.3Z M278.1 356.9 277.8 356.7 277.6 355.9 277.2 351.5 277.6 347.1 277.8 346.3 278.1 346.1 278.6 347.8 278.8 351.5 278.6 355.2 278.1 356.9Z M278.1 358.1 277.8 358 277.6 357.4 277.3 356 277 351.5 277.3 347 277.6 345.6 277.8 345 278.1 344.9 278.3 345.2 278.7 347 278.9 351.5 278.7 356 278.3 357.8 278.1 358.1Z M278.1 359.2 277.8 359.1 277.6 358.6 277.3 357.5 276.9 351.5 277.3 345.5 277.6 344.4 277.8 343.9 278.1 343.8 278.6 344.8 278.8 346.1 279.1 351.5 278.8 356.9 278.6 358.2 278.1 359.2Z M276.8 348.8 277.3 344.2 277.6 343.2 278.1 342.7 278.6 343.6 278.9 345.2 279.3 351.5 278.9 357.8 278.6 359.4 278.1 360.3 277.6 359.8 277.3 358.8 276.8 354.2 M276.8 346.4 277.3 343 277.6 342.2 278.1 341.7 278.6 342.4 279.1 344.9 279.4 351.5 279.1 358.1 278.6 360.6 278.1 361.3 277.6 360.8 277.3 360 276.8 356.6 M276.8 344.1 277.3 341.4 277.6 340.8 278.1 340.3 278.6 341 279.2 343.8 279.5 347.2 279.6 351.5 279.5 355.8 279.2 359.2 278.6 362 278.1 362.7 277.6 362.2 277.3 361.6 276.8 358.9 M276.8 341.9 277.3 339.7 277.6 339.1 278.1 338.7 278.5 339.2 278.8 340 279.3 342.5 279.7 346.5 279.8 351.5 279.7 356.5 279.3 360.5 278.8 363 278.5 363.8 278.1 364.3 277.6 363.9 277.3 363.3 276.8 361.1 M276.8 339.2 277.3 337.4 277.6 336.9 278.1 336.6 278.5 337 278.8 337.7 279.5 341 280 345.5 280.1 351.5 280 357.5 279.5 362 278.8 365.3 278.5 366 278.1 366.4 277.6 366.1 277.3 365.6 276.8 363.8" fill="none" stroke="#000" stroke-width="0.75" stroke-linejoin="round" clip-path="url(#cC1Lbar)"/>
<path d="M276.8 430.2 293.3 428.7 304.6 427.3 306.8 427.2 308.6 427.4 311.6 428.1 317.1 429.8 319.8 430.8 321.8 431.9 324.3 433.9 326.5 436.2 327.6 437.9 327.9 439.7 327.7 441.7 326.9 443.9 325.9 445.7 324.4 447.4 318.1 452.5 310.8 457.4 309.3 458.1 308.3 458.1 307.1 457.7 300.7 453.7 290.3 449.4 282.6 447.6 281.3 447.6 278.8 448.1 276.8 448.2 M276.8 431.7 285.1 430.6 294.6 429.7 303.3 428.6 306.3 428.4 308.3 428.5 311.6 429.3 316.3 430.8 319.6 432 321.1 432.8 323.3 434.6 325.3 436.7 326.4 438.4 326.7 439.9 326.4 441.7 325.7 443.7 324.6 445.4 323.3 446.9 321.3 448.5 317.6 451.2 310.3 455.6 309.1 456.2 307.6 456 301.3 452.4 290.3 448.2 282.3 446.2 276.8 446.5 M276.8 433.1 284.1 431.6 288.3 431 303.8 429.4 306.3 429.2 308.1 429.3 311.1 430 315.3 431.3 318.8 432.5 320.6 433.4 322.6 434.9 324.6 436.9 325.5 438.4 325.9 439.9 325.6 441.7 324.9 443.7 323.8 445.3 322.3 446.8 320.3 448.3 317.1 450.3 310.1 454 308.8 454.4 307.6 454.2 302.1 451.7 290.4 447.4 282.1 445.2 276.8 445.1 M276.8 434.6 283.3 432.6 287.3 431.8 303.3 430.1 307.8 430.1 310.6 430.6 314.8 431.9 318.3 433.1 320.3 434.1 322.2 435.4 323.8 437.2 324.8 438.7 325.1 440.2 324.7 442.2 323.9 443.9 322.8 445.4 321.3 446.7 319.3 448 316.6 449.4 310.3 452.1 308.8 452.5 307.3 452.3 297.8 449.3 291.3 447 282.8 444.5 280.6 443.9 276.8 443.4 M276.8 437.3 281.6 434.5 283.8 433.6 286.1 433 289.8 432.4 301.6 431.2 307.1 431 309.6 431.4 313.1 432.3 317.1 433.6 319.6 434.7 321.6 436.2 323 437.7 323.8 439.2 324 440.4 323.7 442.2 323 443.7 321.8 445.1 320.3 446.2 318.3 447.3 315.8 448.3 310.1 450.2 308.3 450.5 302.8 449.5 298.1 448.3 292.1 446.2 285.1 444.1 276.8 440.6 M308.8 449 305.6 448.8 300.3 447.9 286.3 443.5 283.5 442.2 281.2 440.7 280 439.4 279.8 438.9 279.8 438.2 280.7 436.9 282.2 435.7 284.3 434.6 286.6 433.9 290.6 433.2 305.1 431.9 307.3 432 309.6 432.4 316.1 434.3 319.3 435.7 320.6 436.5 321.7 437.7 322.7 439.2 322.9 440.9 322.3 442.9 321.1 444.5 319.6 445.6 317.3 446.6 311.6 448.3 308.8 449Z M309.1 448.5 305.8 448.4 300.6 447.6 286.8 443.3 283.9 441.9 281.8 440.4 280.8 439.2 280.7 438.7 280.8 437.9 281.8 436.7 283.3 435.5 285.1 434.7 287.3 434 291.1 433.4 305.3 432.2 307.6 432.4 309.8 432.8 316.1 434.6 319.3 436.1 321.5 437.9 322.4 439.4 322.5 441.2 321.9 442.9 320.6 444.4 319.1 445.4 317.1 446.3 309.1 448.5Z M309.3 448 306.1 448.1 300.8 447.3 287.3 443.1 284.6 441.9 282.6 440.4 281.6 439.2 281.5 438.7 281.6 437.9 282.6 436.7 283.9 435.7 285.8 434.8 288.1 434.2 291.3 433.7 305.3 432.6 307.3 432.7 309.6 433 315.6 434.8 318.8 436.2 320.1 437 321.1 438 322 439.4 322.2 440.9 321.6 442.7 320.3 444.2 318.8 445.2 316.8 446 309.3 448Z M309.6 447.5 306.1 447.6 301.3 447 298.3 446.2 288.1 443 285.3 441.8 283.4 440.4 282.4 439.2 282.4 437.9 283.1 436.9 284.6 435.8 286.3 435 288.6 434.4 291.6 434 305.3 432.9 309.3 433.3 315.3 435.1 318.6 436.5 319.8 437.3 320.7 438.2 321.5 439.4 321.7 440.9 321.3 442.4 320 443.9 318.6 444.9 316.8 445.6 309.6 447.5Z M308.1 447.2 304.6 447.1 300.8 446.5 288.1 442.6 285.8 441.6 284.1 440.3 283.2 439.2 283.1 438.4 283.2 437.9 283.9 436.9 285.3 436 287 435.2 289.1 434.7 301.8 433.4 305.6 433.2 307.6 433.4 309.8 433.8 316.3 435.9 319 437.2 320.1 438.1 320.7 438.9 321.2 440.2 321.1 441.7 320.4 442.9 319.1 444.1 317.6 444.9 315.3 445.6 310.6 446.8 308.1 447.2Z M308.3 446.7 304.8 446.8 300.8 446.1 288.6 442.4 286.3 441.3 284.7 440.2 284 438.9 284 437.9 284.8 436.9 285.8 436.2 287.6 435.5 289.6 434.9 302.1 433.7 305.8 433.6 309.8 434.2 316.3 436.3 318.8 437.6 320.3 439.1 320.8 440.4 320.6 441.7 319.8 442.9 318.8 443.8 317.3 444.6 315.6 445.1 308.3 446.7Z M308.6 446.2 305.1 446.4 301.3 445.9 289.6 442.3 287.5 441.4 285.9 440.4 284.8 439.2 284.8 438.2 285.4 437.2 286.4 436.4 288.1 435.7 289.8 435.3 302.1 434 305.6 433.9 307.6 434.1 309.6 434.5 315.6 436.5 318.2 437.7 319.8 439.2 320.2 440.2 320.1 441.4 319.4 442.7 318.3 443.6 315.3 444.8 308.6 446.2Z M306.8 446 303.8 445.9 300.8 445.4 289.3 441.7 287.5 440.9 286.2 439.9 285.6 438.9 285.6 438.2 286.1 437.4 287.1 436.7 288.6 436 290.3 435.6 302.3 434.3 305.8 434.2 309.6 434.9 316.1 437.2 318.1 438.2 318.9 438.9 319.4 439.7 319.6 440.7 319.4 441.7 318.6 442.7 317.5 443.4 316.1 444 313.6 444.7 309.3 445.6 306.8 446Z M307.6 445.5 304.6 445.6 301.3 445.1 290.3 441.6 288.3 440.8 287.1 439.9 286.5 438.9 286.5 438.2 287.1 437.5 287.8 436.9 289.1 436.4 290.7 435.9 302.6 434.7 305.6 434.6 309.1 435.1 314.9 437.2 317.3 438.3 318.7 439.7 319 440.7 318.8 441.5 318.1 442.4 317.1 443.1 314.3 444 307.6 445.5Z M307.8 445 305.8 445.2 303.6 445.1 301.3 444.7 299.1 444.1 289.3 440.7 287.9 439.7 287.4 438.9 287.4 438.4 287.9 437.7 288.6 437.2 291.1 436.4 302.6 435 305.6 434.9 309.1 435.5 314.1 437.4 316.8 438.7 318 439.9 318.2 440.7 318 441.4 317.3 442.2 316.6 442.7 314.4 443.4 307.8 445Z M306.3 444.7 303.8 444.7 301.1 444.2 291.6 441 290.2 440.4 289 439.7 288.6 439 288.6 438.4 288.9 437.9 289.6 437.4 291.8 436.8 302.8 435.3 305.6 435.2 308.1 435.6 311.1 436.7 315.8 438.9 316.6 439.4 317.1 440.2 317.2 440.9 316.9 441.4 315.4 442.4 309.3 444.2 306.3 444.7Z M307.1 444.2 303.6 444.3 300.1 443.5 291.3 440.2 290.2 439.4 289.9 438.7 290.6 437.9 292.6 437.3 302.8 435.7 305.6 435.6 307.8 435.9 310.3 436.9 314.3 438.9 315.3 439.7 315.7 440.2 315.8 440.7 315.5 441.2 314.3 441.9 309.8 443.5 307.1 444.2Z M305.3 444 302.3 443.7 299.2 442.7 292.9 439.9 291.9 439.2 291.9 438.7 292.5 438.2 294.2 437.7 302.6 436 305.3 435.9 307.3 436.2 309.4 436.9 312.3 438.7 313.6 439.9 313.7 440.4 313.5 440.9 311.6 442.2 308.3 443.5 305.3 444Z M306.3 443.5 303.6 443.5 300.6 442.7 295.7 440.2 294.8 439.4 294.8 438.9 296.2 438.2 303.1 436.3 305.8 436.2 308.1 436.8 309.8 437.7 311.1 438.7 311.8 439.7 311.9 440.4 311.4 441.2 310 442.2 308.3 443 306.3 443.5Z M306.6 443 303.8 443.1 301.1 442.3 299.4 441.4 298.1 440.4 297.5 439.7 297.5 439.2 298 438.7 299.3 437.9 302.9 436.7 305.6 436.5 307.8 437.1 309.1 437.8 310 438.7 310.5 439.4 310.6 440.2 310.3 440.9 309.3 441.9 308.1 442.5 306.6 443Z M305.6 442.7 303.3 442.6 301 441.7 299.6 440.4 299.3 439.7 299.4 439.2 299.7 438.7 300.8 437.9 303.3 437 305.8 436.9 307.8 437.6 308.7 438.2 309.4 438.9 309.6 439.7 309.6 440.4 309.1 441.2 308.1 441.9 306.9 442.4 305.6 442.7Z M306.1 442.2 303.8 442.2 301.7 441.4 301.1 440.9 300.6 440.2 300.5 439.4 300.7 438.9 302.1 437.9 304.1 437.2 305.8 437.3 307.6 437.9 308.2 438.4 308.7 439.2 308.9 439.9 308.7 440.4 307.8 441.5 306.1 442.2Z M306.3 441.7 304.3 441.9 302.6 441.3 301.8 440.7 301.5 440.2 301.4 439.4 301.6 438.9 302.6 438.1 304.1 437.6 305.6 437.6 307.1 438.1 307.9 438.9 308.1 439.9 307.6 440.9 306.3 441.7Z M305.3 441.5 303.8 441.4 302.6 440.7 302.1 439.7 302.6 438.7 303.6 438.1 304.8 437.9 306.1 438.1 307 438.7 307.5 439.4 307.3 440.4 306.6 441.1 305.3 441.5Z M305.8 441 304.6 441.1 303.4 440.7 302.8 439.9 302.9 439.2 303.6 438.6 304.6 438.3 305.6 438.4 306.3 438.7 306.8 439.2 306.9 439.9 306.6 440.5 305.8 441Z M305.8 440.5 305.1 440.7 304.1 440.5 303.5 439.9 303.5 439.4 303.8 439 304.3 438.8 305.6 438.8 306.1 439.2 306.3 439.7 305.8 440.5Z M305.3 440.2 304.3 440.1 304.1 439.8 304.1 439.4 304.6 439.1 305.4 439.2 305.7 439.7 305.3 440.2Z" fill="none" stroke="#000" stroke-width="0.75" stroke-linejoin="round" clip-path="url(#cC2L)"/>
<path d="M277.8 440.6 277.5 440.2 277.3 438.2 277.5 436.2 277.8 435.8 278.1 436.2 278.3 438.2 278.1 440.2 277.8 440.6Z M278.1 441.5 277.8 441.7 277.4 441 277.1 438.8 277.3 435.6 277.8 434.7 278.3 435.6 278.6 437.8 278.4 440 278.1 441.5Z M277.8 442.5 277.3 441.8 277.1 441 276.9 438.2 277.1 435.5 277.3 434.6 277.8 433.9 278.3 434.6 278.5 435.5 278.7 438.2 278.5 441 278.3 441.8 277.8 442.5Z M276.8 436.4 277.2 434 277.6 433.4 277.8 433.2 278.3 433.8 278.6 434.7 278.9 438.2 278.6 441.8 278.3 442.6 277.8 443.2 277.3 442.5 276.8 440 M276.8 434.8 277.3 432.9 277.6 432.5 278.1 432.5 278.6 433.6 278.8 434.8 279 438.2 278.8 441.6 278.6 442.8 278.1 443.9 277.6 443.9 277.3 443.5 276.8 441.6 M276.8 433.6 277.3 432.1 277.6 431.7 278.1 431.7 278.6 432.7 278.9 434 279.2 438.2 278.9 442.5 278.6 443.8 278.1 444.7 277.6 444.7 277.3 444.3 276.8 442.8 M276.8 432.4 277.3 431.1 277.6 430.8 278.1 430.8 278.6 431.6 279 433.5 279.4 438.2 279.1 442.8 278.6 444.8 278.1 445.6 277.6 445.6 277.3 445.3 276.8 444 M276.8 431.1 277.3 430 277.8 429.7 278.3 430 278.7 430.8 279.4 434 279.6 438.2 279.4 442.5 278.6 445.8 278.3 446.4 277.8 446.7 277.3 446.4 276.8 445.3 M276.8 429.3 277.3 428.4 277.8 428.2 278.3 428.4 278.9 429.5 279.7 433.2 280 438.2 279.7 443.2 278.9 446.8 278.3 448 277.8 448.2 277.3 448 276.8 447.1" fill="none" stroke="#000" stroke-width="0.75" stroke-linejoin="round" clip-path="url(#cC2Lbar)"/>
<path d="M304.4 469 304.6 468.7 305.1 468.4 306.6 468.1 308.1 468.4 308.6 469 M303.2 469 303.4 468.5 304.3 468 306.6 467.6 308.8 468 309.6 468.5 309.8 469 M302 469 302.4 468.2 303.3 467.7 304.8 467.3 306.6 467.1 308.3 467.3 309.8 467.7 310.6 468.2 311 469 M300.5 469 301 468 302.3 467.2 304.3 466.7 306.6 466.5 308.8 466.7 310.8 467.2 312 468 312.5 469 M298.7 469 298.9 468.2 299.3 467.8 301.1 466.7 303.3 466.1 306.6 465.8 309.6 466 311.8 466.6 313.7 467.8 314.2 468.5 314.3 469" fill="none" stroke="#000" stroke-width="0.65" stroke-linejoin="round" clip-path="url(#cC2Lb)"/>
<path d="M276.8 534.3 279.1 534.2 284.3 533.6 290.1 532.4 303.4 528.7 310.6 525.8 314.8 524.6 316.6 524.5 318.3 524.6 320.6 525.3 322.3 526.3 323.5 527.2 324.6 528.5 327.7 533 330.2 538.7 331 541.2 331.5 543.5 331.9 548.2 331.7 551.7 328.4 565 328.5 566 329.1 567.7 329.1 568.7 M296.1 568.7 296.2 567.5 296.6 565.5 296.4 564.5 293.8 559.6 292.1 557.2 287.7 553 279.8 547 278.3 546.2 276.8 545.9 M276.8 537.1 281.8 536.7 286.3 535.7 297.6 531.8 304.3 529.7 310.8 527.1 314.1 526.2 316.1 525.9 317.6 525.9 319.3 526.3 321.3 527.3 322.5 528.2 323.7 529.5 326.6 533.7 329.2 539.5 330.3 543.7 330.7 548.2 330.5 551.7 328.7 559.2 327.1 565 327.1 565.7 327.9 567.7 328 568.7 M297.2 568.7 297.3 567.5 297.9 565.5 297.7 564.5 294.6 558.2 292.8 555.6 288.6 551 281.1 544.5 279.1 543.4 276.8 543.1 M298.1 568.7 298.2 567.5 299.1 565.5 299 564.7 295.1 556.2 293.6 553.6 291.8 551.2 284.8 543 284 541.7 284.1 540.7 284.8 540.1 291.3 536.3 296.9 533.7 311.1 528.3 313.8 527.5 316.3 527.2 318.3 527.5 320.3 528.3 321.8 529.4 323.3 531 325.1 533.5 326.4 535.7 327.9 539.2 328.9 542.2 329.5 546.5 329.4 551.2 327.4 559.5 325.7 565 325.8 565.7 326.9 567.7 327 568.7 M299.1 568.7 299.3 567.5 300.6 565.7 300.8 564.7 298.5 560 297 554.7 296.1 552.4 294.8 550.2 292.1 546.5 291 544.7 290.6 542.7 290.9 541 292 539.5 293.8 538 296.3 536.5 301.3 534 310.3 530.3 313.1 529.6 315.6 529.4 317.6 529.6 319.2 530.2 320.8 531.3 322.6 533 324.1 534.8 325.3 537 326.7 540 327.6 542.7 328.1 546.7 327.9 551.2 325.6 560 323.5 565 323.8 565.7 325.5 567.5 325.7 568.7 M300.3 568.7 300.4 568 300.7 567.5 303.1 565.7 303.5 565.2 303.5 564.7 301.8 562.2 300.8 560.2 300.4 558.5 299.8 554.5 299.2 552.2 298.2 549.7 295.9 545.5 295.3 544 295.1 542.7 295.3 541.5 296.1 540.2 297.7 539 306.3 534.3 310.6 532.6 312.6 532.2 314.6 532 316.3 532.2 317.8 532.6 319.6 533.7 321.3 535.2 322.6 536.7 323.9 538.7 324.9 540.7 325.6 543 326 545 326.1 547 326 549.5 325.6 551.5 323.2 560.2 322.3 562 320.7 564.2 320.4 565 320.8 565.7 323.6 567.5 324 568 324.1 568.7 M301.4 568.7 301.5 568 301.9 567.5 305.9 565.7 306.2 565.5 306.5 565 306.2 564.5 303.9 562.2 302.8 560 301.6 552.5 300.7 549.2 298.9 544.2 298.8 543 299 542 299.7 541 301 539.7 306.8 536.1 310.6 534.6 314.1 534.1 315.8 534.3 317.1 534.7 318.6 535.5 320.1 536.7 321.4 538.2 322.5 540 323.3 541.7 324 543.7 324.3 546.5 324.1 549.7 321.6 559 320.9 560.7 320.1 562 317.2 565 317.2 565.2 317.8 565.7 322.1 567.6 322.5 568.2 322.6 568.7 M301.7 568.7 301.8 568 302.4 567.5 306.8 565.7 307.5 565.2 307.5 565 304.6 562.2 303.9 561.2 303.3 560 302.9 558.2 302.3 552.5 300 544.5 299.9 543.2 300.1 542.2 300.7 541.2 301.9 540 306.6 536.9 310.3 535.2 312.1 534.8 313.8 534.7 315.3 534.8 316.8 535.2 318.2 536 319.6 537 320.8 538.4 321.9 540 322.8 541.7 323.5 543.7 323.8 546.5 323.6 549.5 320.9 559.2 320.1 561 319.2 562.2 315.8 565 315.9 565.2 316.7 565.7 321.2 567.5 321.9 568 322 568.7 M302.1 568.7 302.2 568 302.8 567.5 308.7 565.5 309.1 565.2 309.2 565 306.8 563.5 305.6 562.5 304.6 561.3 303.9 560 303.5 558.2 303 552.7 301 545 300.9 543.7 301.1 542.5 301.7 541.5 302.8 540.2 304.3 539 306.7 537.5 310.3 535.8 313.6 535.3 315.1 535.4 316.6 535.8 318.1 536.6 319.3 537.6 320.6 538.9 321.6 540.5 322.4 542.2 323 544 323.3 546.7 323 549.7 320.1 559.7 319.3 561.2 318.1 562.6 313.9 565 314 565.2 314.4 565.5 318.6 566.6 320.6 567.5 321.3 568 321.5 568.7 M312.6 564.2 310.1 564.2 307.8 563.4 306.1 562.3 304.9 560.7 304.2 558.5 303.8 553 302.1 546.5 301.9 544 302.2 542.5 303 541.2 304.2 540 305.8 538.7 307.9 537.5 310.1 536.5 312.1 536 313.8 535.9 315.6 536.2 317.3 536.9 318.8 537.9 320.2 539.5 321.4 541.2 322.2 543.2 322.7 545.2 322.8 547.5 322.2 551 319.9 558.7 319.1 560.5 318.1 561.8 316.6 562.9 314.6 563.8 312.6 564.2Z M302.5 568.7 302.5 568.2 302.8 567.8 304.3 567.1 308.3 566 311.6 565.7 315.1 566.1 318.6 566.9 320.4 567.7 320.9 568.2 321 568.7 M313.3 563.5 310.8 563.6 308.6 563.1 306.8 562.1 305.6 560.7 304.9 558.7 304.6 553.5 303.1 547.2 302.8 544.7 303 543.2 303.5 542 304.5 540.7 305.9 539.5 307.7 538.2 309.6 537.3 311.6 536.7 313.3 536.6 315.1 536.8 316.8 537.4 318.3 538.3 319.5 539.5 320.6 541 321.5 543 322 544.7 322.2 546.7 322.1 548.7 321.7 550.5 319.3 558.5 318.6 560 317.7 561.2 316.6 562.2 315.1 563 313.3 563.5Z M302.9 568.7 303.1 568 304.8 567.1 308.3 566.3 311.3 566 314.8 566.3 318.1 567 319.8 567.7 320.3 568.2 320.4 568.7 M312.8 563 310.6 563 308.6 562.5 307.1 561.5 306.1 560.2 305.5 558.2 305.4 553.5 303.9 547.7 303.6 545 303.8 543.5 304.4 542.2 305.3 541 306.6 539.7 308.3 538.6 310.1 537.8 311.8 537.3 313.3 537.2 315.1 537.5 316.6 538 318.1 539 319.3 540.2 320.3 541.7 321.1 543.5 321.5 545.2 321.6 547 321.5 548.7 321.1 550.5 318 559.7 317.1 561 315.8 561.9 314.3 562.6 312.8 563Z M303.4 568.7 303.7 568 305.3 567.2 308.3 566.5 311.3 566.3 314.8 566.6 317.8 567.2 319.6 568 319.8 568.7 M311.8 562.5 310.1 562.3 308.6 561.7 307.5 561 306.7 559.7 306.3 558.2 306.3 554 304.7 548 304.5 545 304.8 543.5 305.3 542.3 306.3 541 307.5 540 309 539 310.6 538.3 312.1 538 313.6 538 315.1 538.2 316.6 538.8 317.9 539.7 319.1 540.9 320 542.5 320.6 544 321 545.7 321 547.5 320.4 550.5 318.8 554.7 317.7 558.5 317.1 559.7 316.1 560.9 314.9 561.7 313.6 562.2 311.8 562.5Z M304 568.7 304 568.2 304.3 568 305.8 567.3 308.3 566.8 311.3 566.6 314.6 566.8 317.3 567.3 318.9 568 319.1 568.2 319.2 568.7 M312.6 561.7 311.1 561.8 309.6 561.4 308.4 560.7 307.6 559.6 307.2 558.2 307.1 554 305.5 548.5 305.2 545.7 305.3 544.5 305.8 543.1 306.5 542 307.6 540.8 308.8 539.9 310.2 539.2 311.6 538.8 313.1 538.7 314.6 538.8 315.8 539.2 317.1 540 318.3 541 319.2 542.2 319.9 543.7 320.3 545.2 320.4 547 319.9 550 317.9 554.7 316.4 559.2 315.7 560.2 314.8 560.9 313.8 561.4 312.6 561.7Z M304.6 568.7 304.6 568.2 304.9 568 306.1 567.4 308.6 566.9 311.3 566.8 314.3 566.9 317.1 567.4 318.3 568 318.5 568.2 318.5 568.7 M312.3 561 311.1 561 310.1 560.7 309.1 560 308.5 559.2 308.2 558 308.1 554.2 306.3 548.5 306 545.7 306.2 544.5 306.6 543.2 307.3 542.2 308.2 541.2 310.6 539.8 311.8 539.5 313.3 539.4 314.6 539.6 315.8 540 316.9 540.7 318 541.7 318.8 542.9 319.4 544.2 319.7 545.5 319.7 547 319.6 548.5 319.1 550 316.9 554.7 315.6 558.7 314.3 560.2 313.4 560.7 312.3 561Z M305.2 568.7 305.3 568.2 305.5 568 306.8 567.5 308.8 567.1 311.3 567 314.1 567.1 316.3 567.5 317.6 568 317.8 568.2 317.8 568.7 M312.1 560 310.6 559.7 310 559.2 309.6 558.5 309.2 554.5 307.1 548.7 306.8 547.2 306.7 545.7 307 544.5 307.4 543.5 308.8 541.7 311 540.5 313.3 540.1 315.6 540.7 316.7 541.5 317.6 542.3 318.3 543.5 318.8 544.7 319 547.2 318.4 550 315.8 554.7 314.4 558.5 313.5 559.5 312.1 560Z M305.9 568.7 305.9 568.2 307.1 567.6 309.1 567.2 311.3 567.1 314.1 567.3 316.1 567.7 317.1 568.2 317.1 568.7 M312.6 557.2 312.1 557.4 311.7 557.2 310.7 554.5 308.4 550.2 307.7 548.2 307.5 546.2 307.9 544.2 309.1 542.5 311 541.2 313.1 540.8 314.3 541 315.3 541.4 316.9 542.7 318.1 544.7 318.4 547 318.1 548.7 317.3 550.5 312.6 557.2Z M306.5 568.7 306.6 568.2 307.6 567.7 311.3 567.3 315.2 567.7 316.3 568.2 316.3 568.7 M313.3 553.2 312.6 553.3 311.8 553.1 311.1 552.5 310.1 551.4 308.8 549.2 308.2 546.7 308.5 544.7 309.4 543.2 311.1 542 312.8 541.6 314.6 541.9 316.2 543 317.2 544.5 317.7 546.5 317.4 548.5 316.6 550.3 315.1 552.1 313.3 553.2Z M307.2 568.7 307.3 568.2 308.1 567.8 311.3 567.5 313.6 567.6 315 568 315.5 568.2 315.5 568.7 M313.6 551.7 312.8 551.8 312.1 551.7 310.8 550.9 309.6 549.2 309 547.2 309 545.5 309.8 544 311.1 542.8 312.6 542.4 314.1 542.5 315.6 543.3 316.5 544.7 316.9 546.2 316.8 548 316.1 549.6 314.8 551 313.6 551.7Z M308 568.7 308 568.2 308.5 568 311.3 567.7 314 568 314.6 568.2 314.6 568.7 M313.1 550.7 311.8 550.4 310.8 549.6 309.9 548.2 309.6 546.7 309.8 545.5 310.5 544.2 311.6 543.4 312.8 543.1 314.1 543.3 315.1 544 315.9 545 316.3 546.5 316.1 548 315.3 549.4 314.3 550.3 313.1 550.7Z M308.8 568.7 308.7 568.5 309.1 568.1 311.3 567.9 313.6 568.2 313.7 568.5 313.6 568.7 M313.3 549.7 312.3 549.6 311.3 549 310.6 548 310.4 547 310.5 545.7 311.1 544.7 311.8 544.1 312.8 543.8 313.8 544 314.6 544.5 315.3 545.4 315.6 546.5 315.5 547.5 315 548.5 314.3 549.3 313.3 549.7Z M310 568.7 309.8 568.5 310.1 568.2 311.3 568.1 312.2 568.2 312.6 568.5 312.3 568.7 M313.6 548.8 312.8 548.9 312.1 548.6 311.4 548 311.1 547.2 311.1 546.5 311.3 545.6 311.8 545 312.6 544.6 313.3 544.6 314.1 544.9 314.6 545.5 314.8 546.2 314.9 547 314.6 547.7 314.1 548.5 313.6 548.8Z M313.3 548 312.8 548.1 312.3 547.8 311.8 547 311.9 546 312.3 545.5 312.8 545.3 313.3 545.4 313.8 545.7 314.2 546.5 314 547.5 313.3 548Z M313.1 547.5 312.6 547.3 312.3 546.7 312.4 546.2 312.8 545.9 313.3 546 313.6 546.5 313.6 547.1 313.1 547.5Z" fill="none" stroke="#000" stroke-width="0.75" stroke-linejoin="round" clip-path="url(#cC3L)"/>
<path d="M448.1 326.4 446.9 326.2 446.1 325.6 445.9 324.9 446.4 324.1 447.4 323.7 448.4 323.7 449.3 323.9 450.1 324.4 450.3 324.9 450.1 325.6 449.4 326.1 448.1 326.4Z M448.6 327.2 446.6 327 445.1 326.2 444.6 325.1 444.6 324.5 445 323.9 446.3 323.1 448.1 322.9 449.9 323.1 451.1 323.9 451.6 324.9 451.3 325.9 450.4 326.6 448.6 327.2Z M478.6 352.9 478.3 352.9 478.1 352.6 478.6 352.5 478.8 352.6 478.6 352.9Z M449.6 327.4 447.4 327.6 446.3 327.4 445.1 326.9 444.4 326.4 443.9 325.6 443.8 324.9 444 324.1 445.1 323.1 447.1 322.5 449.1 322.5 451 323.1 451.7 323.6 452.2 324.4 452.2 325.6 451.4 326.6 449.6 327.4Z M479.1 353.7 478.1 353.7 477.4 353.4 477 352.9 477.1 352.1 477.6 351.7 478.4 351.6 479.6 352.1 480 352.6 479.9 353.1 479.1 353.7Z M449.1 327.9 446.6 327.9 445.4 327.5 444.3 326.9 443.6 326.1 443.2 325.4 443.3 324.4 443.7 323.6 444.4 323 445.4 322.5 447.6 322 449.9 322.3 451.8 323.1 452.8 324.4 452.9 325.1 452.7 325.9 452.1 326.6 451.4 327.2 449.1 327.9Z M479.4 354.2 478.1 354.2 476.9 353.6 476.3 352.6 476.6 351.7 477.4 351.3 478.4 351.1 479.4 351.3 480.1 351.8 480.6 352.4 480.6 353.1 480.1 353.8 479.4 354.2Z M449.6 328.2 448.1 328.3 446.4 328.2 445.1 327.8 443.9 327.1 443.2 326.4 442.7 325.4 442.8 324.4 443.1 323.6 443.9 322.9 444.7 322.4 446.1 321.9 447.4 321.7 449.9 321.9 452.1 322.9 453 323.6 453.3 324.4 453.4 325.1 453.2 325.9 452.7 326.6 451.9 327.3 449.6 328.2Z M479.1 354.7 477.4 354.4 476.2 353.6 475.9 353.1 475.7 352.4 476.3 351.4 477.1 350.9 478.4 350.7 479.6 351 480.7 351.6 481.2 352.4 481.1 353.4 480.4 354.3 479.1 354.7Z M450.1 328.4 448.4 328.6 446.9 328.6 445.1 328.2 443.9 327.6 442.8 326.6 442.2 325.6 442.2 324.6 442.6 323.6 443.2 322.9 444.4 322.1 446.9 321.4 449.6 321.5 451.1 321.9 452.1 322.4 453.1 323.1 453.7 323.9 453.9 324.6 453.9 325.6 453.3 326.6 452.5 327.4 450.1 328.4Z M479.9 354.9 477.9 355 476.1 354.1 475.3 352.9 475.2 352.1 475.6 351.4 476.6 350.6 478.1 350.4 479.6 350.6 480.9 351.3 481.6 352.3 481.7 353.4 481 354.4 479.9 354.9Z M448.9 328.9 447.1 328.9 445.4 328.6 443.9 328 442.7 327.1 442 326.1 441.7 325.1 441.8 324.1 442.4 323.1 443.4 322.3 444.7 321.6 446.4 321.2 447.9 321.1 449.6 321.2 451.1 321.6 452.4 322.1 453.4 322.9 454 323.6 454.4 324.6 454.3 325.6 453.8 326.6 453.1 327.4 451.9 328.1 450.4 328.6 448.9 328.9Z M478.9 355.4 477.6 355.3 476.6 354.9 475.8 354.4 475.1 353.6 474.8 352.9 474.7 352.1 475 351.4 475.8 350.6 477.4 350.1 479.1 350.1 480.7 350.6 481.9 351.8 482.3 352.9 481.9 354.1 480.6 355.1 478.9 355.4Z M449.1 329.2 447.1 329.2 445.5 328.9 443.9 328.3 442.6 327.6 441.8 326.6 441.3 325.4 441.4 324.1 441.9 323.1 442.9 322.3 444.1 321.6 445.6 321.1 447.4 320.8 449.1 320.9 450.7 321.1 452.1 321.7 453.4 322.4 454.3 323.4 454.8 324.4 454.8 325.4 454.4 326.5 453.6 327.4 452.4 328.2 450.9 328.8 449.1 329.2Z M479.9 355.7 478.6 355.7 477.4 355.5 476.1 355.1 475.2 354.4 474.6 353.6 474.3 352.6 474.4 351.6 474.9 350.8 476.4 349.9 478.4 349.7 480.4 350.1 481.9 351.1 482.7 352.4 482.8 353.1 482.6 353.9 481.6 355 479.9 355.7Z M449.4 329.4 447.4 329.5 445.4 329.2 443.6 328.6 442.2 327.6 441.3 326.6 440.8 325.4 440.9 324.1 441.7 322.9 442.8 321.9 444.1 321.2 445.9 320.7 447.6 320.5 449.4 320.6 451.1 321 452.6 321.6 453.9 322.4 454.8 323.4 455.2 324.4 455.2 325.6 454.8 326.6 453.9 327.6 452.6 328.5 451.1 329 449.4 329.4Z M480.4 355.9 478.9 356.1 477.4 355.9 476 355.4 474.9 354.6 474.1 353.6 473.8 352.6 473.9 351.6 474.5 350.6 476.1 349.6 478.1 349.3 480.1 349.7 482 350.6 482.7 351.4 483.1 352.1 483.2 353.6 482.8 354.4 482.1 355.1 480.4 355.9Z M449.4 329.7 447.1 329.7 445.1 329.4 443.4 328.8 442 327.9 440.8 326.6 440.4 325.4 440.5 324.1 441.2 322.9 442.2 321.9 443.6 321.1 445.4 320.6 447.4 320.3 449.4 320.3 451.1 320.7 452.9 321.3 454.2 322.1 455.1 323.1 455.7 324.4 455.7 325.6 455.3 326.6 454.4 327.7 452.9 328.6 451.1 329.3 449.4 329.7Z M479.4 356.4 477.6 356.3 476.1 355.8 474.9 355.1 473.9 354.1 473.4 353.1 473.3 351.9 473.7 350.9 474.6 349.9 476.6 349.1 479.1 349.1 481.4 349.8 483 351.1 483.5 351.9 483.7 352.9 483.6 353.9 483.2 354.6 482.4 355.4 481.6 355.9 479.4 356.4Z M449.6 329.9 447.4 330 445.1 329.7 443.4 329.1 441.7 328.1 440.5 326.9 440 325.6 440 324.1 440.7 322.9 441.9 321.7 443.4 320.9 445.1 320.3 447.1 320 449.1 320 451.1 320.4 452.9 321 454.4 321.9 455.4 322.9 456.1 324.1 456.2 325.4 455.7 326.6 454.7 327.9 453.4 328.8 451.6 329.5 449.6 329.9Z M480.4 356.7 478.6 356.8 476.9 356.5 475.4 355.9 474 354.9 473.1 353.6 472.8 352.4 473 351.1 473.7 350.1 474.6 349.4 475.6 349 478.1 348.6 480.8 349.1 482.9 350.4 483.5 351.1 484.1 352.1 484.2 353.1 484 354.1 483.4 355.1 482.6 355.8 481.6 356.3 480.4 356.7Z M449.9 330.2 447.4 330.3 445.1 330 443.1 329.4 441.4 328.4 440.2 327.1 439.5 325.6 439.6 324.1 440.4 322.6 441.6 321.5 443.1 320.7 445.1 320 447.1 319.7 449.4 319.8 451.4 320.1 453.4 320.9 454.9 321.8 455.9 322.9 456.6 324.1 456.7 325.4 456.2 326.6 455.2 327.9 453.8 328.9 451.9 329.7 449.9 330.2Z M480.9 357 479.1 357.1 477.1 356.9 475.4 356.3 473.9 355.4 472.8 354.1 472.3 352.6 472.4 351.4 473.1 350.1 473.9 349.4 475.1 348.7 476.4 348.4 477.9 348.2 480.6 348.7 481.9 349.2 483.1 350.1 484.1 351.1 484.6 352.1 484.7 353.1 484.6 354.1 484 355.1 483.2 355.9 482.1 356.5 480.9 357Z M450.1 330.4 447.6 330.6 445.1 330.3 442.9 329.6 441.1 328.6 439.7 327.1 439.1 325.6 439.1 324.1 439.9 322.6 441.1 321.4 442.6 320.5 444.6 319.8 446.9 319.5 449.1 319.5 451.4 319.8 453.4 320.5 455.1 321.6 456.4 322.9 457 324.1 457.1 325.4 456.7 326.6 455.6 328 454.1 329.1 452.4 329.9 450.1 330.4Z M480.6 357.4 478.6 357.5 476.6 357.2 474.7 356.4 473.1 355.3 472.1 353.9 471.7 352.4 472 350.9 472.8 349.6 473.9 348.8 475.1 348.3 476.6 347.9 478.1 347.9 479.9 348.1 481.4 348.6 482.6 349.2 483.9 350.1 484.7 351.1 485.2 352.4 485.2 353.6 484.9 354.6 484.2 355.6 483.4 356.4 482.1 357 480.6 357.4Z M450.6 330.7 447.9 330.9 445.4 330.7 442.9 330 440.9 328.9 439.4 327.5 438.6 325.9 438.6 324.1 439.3 322.6 440.5 321.4 442.1 320.4 444.4 319.6 446.6 319.2 449.1 319.2 451.4 319.5 453.4 320.2 455.2 321.1 456.6 322.4 457.4 323.6 457.7 324.9 457.4 326.4 456.3 327.9 454.9 329.1 452.9 330.1 450.6 330.7Z M480.1 357.9 477.9 357.9 475.6 357.3 473.8 356.4 472.4 355.1 471.4 353.6 471.1 351.9 471.6 350.4 472.6 349.1 473.7 348.4 475.1 347.8 476.9 347.5 478.6 347.5 480.4 347.8 482.1 348.4 483.4 349.1 484.6 350.3 485.4 351.4 485.8 352.6 485.8 353.9 485.3 355.1 484.4 356.2 483.1 357.1 481.6 357.6 480.1 357.9Z M449.1 331.2 446.4 331.1 443.6 330.6 441.4 329.6 439.6 328.4 438.5 326.9 438 325.1 438.4 323.4 439.4 321.9 440.9 320.7 442.9 319.7 445.4 319 447.9 318.8 450.4 319 452.6 319.5 454.7 320.4 456.5 321.6 457.7 323.1 458.2 324.6 458.1 325.9 457.3 327.4 455.8 328.9 453.9 330 451.6 330.8 449.1 331.2Z M479.4 358.4 476.9 358.1 474.6 357.4 472.6 356.2 471.3 354.6 470.6 352.9 470.6 351.1 471.3 349.6 472.7 348.4 474.1 347.6 475.9 347.2 477.6 347 479.6 347.2 481.4 347.6 483.1 348.4 484.5 349.4 485.6 350.6 486.3 351.9 486.5 353.4 486.2 354.6 485.5 355.9 484.4 356.9 482.9 357.7 481.1 358.2 479.4 358.4Z M450.4 331.4 447.4 331.6 444.6 331.2 441.9 330.4 439.8 329.1 438.2 327.4 437.5 325.6 437.6 323.9 438.5 322.1 439.9 320.8 441.9 319.7 444.4 318.8 446.9 318.5 449.6 318.5 452.1 319 454.4 319.8 456.4 321 457.8 322.4 458.8 324.1 458.8 325.4 458.3 326.9 456.9 328.6 455.1 329.9 452.9 330.8 450.4 331.4Z M480.1 358.9 477.4 358.8 474.9 358.1 472.7 356.9 471.1 355.4 470.1 353.6 469.8 351.6 470.3 349.9 471.6 348.4 473.1 347.4 474.9 346.8 476.9 346.5 478.9 346.5 481.1 347 482.9 347.7 484.5 348.6 485.9 349.9 486.8 351.4 487.2 352.9 487.1 354.4 486.5 355.6 485.5 356.9 484 357.9 482.1 358.6 480.1 358.9Z M449.6 331.9 446.4 331.9 443.4 331.4 440.6 330.3 438.7 328.9 437.3 327.1 436.8 325.4 437.1 323.4 438.2 321.6 439.9 320.2 442.1 319.1 444.9 318.3 447.6 318.1 450.4 318.2 453.1 318.8 455.4 319.8 457.4 321.1 458.7 322.6 459.6 324.4 459.5 325.9 458.5 327.6 456.9 329.3 454.9 330.6 452.4 331.4 449.6 331.9Z M481.1 359.4 478.4 359.5 475.4 358.9 472.9 357.8 470.8 356.1 469.4 354.1 468.9 352.1 469.2 350.1 470.5 348.4 471.9 347.3 473.9 346.4 475.9 346 478.1 345.9 480.4 346.2 482.6 346.9 484.6 347.9 486.1 349.1 487.3 350.6 487.9 352.1 488 353.9 487.6 355.4 486.6 356.9 485.1 358.1 483.1 359 481.1 359.4Z M450.9 332.2 447.6 332.4 444.4 332 441.4 331.1 438.9 329.7 437.1 327.9 436.2 325.9 436.3 323.9 437.2 321.9 438.9 320.3 441.1 319 443.9 318.1 446.6 317.7 449.6 317.7 452.6 318.2 455.1 319.1 457.3 320.4 459.1 322.1 460.2 323.9 460.4 325.1 460 326.6 458.5 328.6 456.4 330.3 453.9 331.5 450.9 332.2Z M479.6 360.2 476.4 359.8 473.4 358.8 470.9 357.2 469.2 355.4 468.2 353.1 468 351.9 468 350.6 468.8 348.9 470.6 347.2 472.6 346.1 474.9 345.5 477.4 345.2 479.9 345.4 482.1 346 484.4 347 486.4 348.4 487.7 349.9 488.6 351.6 488.9 353.4 488.6 355.1 487.7 356.9 486.1 358.3 484.4 359.2 482.1 359.9 479.6 360.2Z M453.4 349.4 452.4 349.4 451.7 349.1 451.1 348.6 450.7 347.9 450.7 347.1 450.9 346.6 451.4 346 452.1 345.6 453.1 345.5 454 345.6 454.7 346.1 455.2 346.9 455.2 347.6 454.9 348.5 454.2 349.1 453.4 349.4Z M450.9 332.7 447.1 332.8 443.6 332.3 440.6 331.4 438.2 329.9 436.3 327.9 435.5 325.9 435.4 324.6 435.6 323.6 436.6 321.6 438.4 320 440.9 318.6 443.4 317.7 446.6 317.2 449.9 317.3 452.9 317.8 455.6 318.8 457.9 320.1 459.8 321.9 461.2 323.9 461.5 325.1 461 326.4 459.1 328.9 456.6 330.8 453.9 332 450.9 332.7Z M473.1 324.7 472.1 324.6 471.4 324.2 471.1 323.6 471.4 323.1 472.6 322.6 473.4 322.6 474.2 322.9 474.6 323.4 474.6 323.9 474 324.4 473.1 324.7Z M453.9 350.7 452.4 350.8 451.1 350.4 450.1 349.6 449.4 348.6 449.1 347.4 449.4 346.1 450.2 345.1 451.4 344.4 452.9 344.1 454.4 344.3 455.7 345.1 456.6 346.4 456.8 347.6 456.4 348.9 455.4 350 453.9 350.7Z M481.9 360.7 478.6 360.8 475.4 360.3 472.6 359.3 470.2 357.6 468.3 355.6 467.2 353.4 466.8 350.4 467 349.4 467.5 348.6 469.4 347 471.6 345.7 473.9 344.9 476.6 344.6 479.4 344.7 482.1 345.3 484.6 346.3 486.9 347.8 488.6 349.6 489.6 351.6 489.9 353.6 489.5 355.6 488.4 357.4 486.6 359 484.4 360.1 481.9 360.7Z M451.4 333.2 447.4 333.3 443.9 332.9 440.6 332 437.6 330.3 435.7 328.4 435 327.1 434.7 326.1 434.6 324.9 434.7 323.9 435 322.9 435.7 321.6 437.4 319.9 439.9 318.4 442.9 317.3 446.1 316.8 449.6 316.7 452.9 317.2 455.9 318.2 458.4 319.7 460.1 321.1 462.8 324.1 463.1 324.9 462.9 325.6 459.8 329.1 457.6 330.9 454.6 332.5 451.4 333.2Z M473.1 325.9 470.9 325.7 469.3 324.9 468.9 324.4 468.8 323.9 469.2 322.9 470.5 321.9 472.4 321.4 474.4 321.5 475.8 322.1 476.6 323.1 476.6 323.9 476.4 324.4 475.1 325.4 473.1 325.9Z M453.6 351.9 451.6 351.8 449.6 350.9 448.3 349.4 447.8 347.6 448.1 345.9 449.1 344.4 450.9 343.3 452.9 342.8 454.6 343 456.4 344 457.8 345.6 458.5 347.6 458.2 348.9 457 350.4 455.4 351.4 453.6 351.9Z M480.6 361.7 477.6 361.6 474.9 361 472.1 360 469.6 358.4 468.2 357.1 467.1 355.6 465.1 351.3 463.3 349.1 463.3 348.4 464 347.9 467.1 346.9 471.9 344.6 473.9 344.1 476.1 343.7 478.9 343.8 481.9 344.3 484.6 345.3 487.3 346.9 489.3 348.9 490.7 351.4 491 352.6 491.1 353.9 490.5 356.1 489.1 358.2 486.9 359.9 484.1 361.1 480.6 361.7Z M455.1 333.9 454.4 334.1 448.1 334.1 444.6 333.8 441.1 333 437.9 331.5 435.4 329.6 434.5 328.4 433.8 327.1 433.5 325.9 433.5 324.4 433.7 323.1 434.3 321.9 435.2 320.6 436.6 319.4 438.1 318.4 439.9 317.5 441.9 316.8 444.1 316.3 448.4 316 452.9 316.5 456.4 317.6 459.4 319.3 462.9 322.3 464.4 322.9 465.4 323 466.1 322.9 469.9 320.7 471.4 320.3 472.9 320.2 474.6 320.3 476.1 320.8 477.5 321.6 478.3 322.6 478.5 323.6 478.2 324.6 477.4 325.6 476.4 326.3 474.9 326.8 473.1 327 471.1 326.9 467.1 326.3 464.9 326.7 462.7 327.9 459.4 330.8 455.1 333.9Z M482.6 362.7 479.6 362.9 476.4 362.6 473.4 361.8 470.6 360.6 468.4 359.1 466.6 357.4 465.5 355.9 464.1 353.4 463.4 352.4 462.4 351.6 461.1 351.1 460.1 350.9 459.4 351 455.9 352.8 453.9 353.3 451.6 353.3 449.6 352.6 447.6 351.2 446.5 349.4 446.2 348.4 446.1 347.1 446.6 345.1 447.4 343.9 448.6 342.8 452.5 340.9 453.1 340.4 453.5 339.6 453.5 337.6 453.8 336.4 454.4 335.4 455.1 334.9 455.6 335 456.4 335.5 456.9 336.1 457.2 336.9 457.3 338.4 456.6 340.6 456.9 341.6 459.4 344.9 460.6 345.7 461.9 345.9 466.1 345.4 471.9 343.3 473.9 342.8 476.1 342.5 478.6 342.6 481.1 342.9 483.4 343.5 485.6 344.4 488.9 346.5 490.3 347.9 491.3 349.1 492 350.4 492.5 351.9 492.7 353.4 492.6 354.9 492.2 356.4 491.5 357.6 490.6 358.9 489.4 360 487.9 361 486.1 361.8 482.6 362.7Z M481.4 363.9 478.4 363.9 475.4 363.5 472.4 362.6 469.6 361.3 467.6 360 466 358.6 464.5 356.9 462.6 353.9 461.9 353.1 460.9 352.7 459.4 352.6 455.4 354.2 452.6 354.5 451.1 354.4 449.6 354 448.1 353.2 446.9 352.3 445.7 350.9 444.9 349.1 444.7 347.4 444.9 345.6 445.6 344.1 446.8 342.6 448.1 341.6 450.5 340.1 451.1 339.5 451.6 338.1 451.7 335.6 451.3 335.1 450.5 334.9 444.9 334.6 441.1 333.7 437.6 332.3 435.1 330.5 434.1 329.4 433.2 328.1 432.7 326.9 432.4 325.4 432.5 323.9 432.9 322.6 433.5 321.4 434.5 320.1 437.1 318.1 440.6 316.5 444.6 315.6 448.6 315.3 452.6 315.7 456.4 316.8 459.4 318.3 462.9 321 464.4 321.6 465.9 321.5 469.9 319.8 472.6 319.3 474.6 319.5 476.1 319.8 477.6 320.5 478.6 321.2 479.6 322.4 479.9 323.9 479.2 325.4 477.9 326.6 476.4 327.3 474.1 327.8 471.9 327.9 467.4 327.5 464.6 328 463.1 328.9 459.3 332.1 458.4 333.1 458.2 333.9 459.1 337.1 458.8 340.6 458.9 341.6 459.9 343.3 461.1 344.2 462.9 344.5 465.9 344.2 471.1 342.3 473.9 341.7 476.6 341.5 479.4 341.6 483.1 342.3 486.6 343.7 489.6 345.6 492 347.9 493.5 350.4 494.2 353.1 494.2 354.4 493.9 355.9 492.8 358.4 490.9 360.5 488.1 362.2 485.1 363.3 481.4 363.9Z M480.9 362.9 477.9 362.8 474.9 362.3 472.4 361.5 469.9 360.2 468 358.9 466.5 357.4 465.5 356.1 463.4 352.5 462.4 351.8 461.1 351.2 460.1 351 459.4 351.1 455.6 353 453.1 353.4 451.6 353.3 450.4 353 449.1 352.5 447.9 351.6 446.9 350.4 446.2 348.9 446 347.1 446.3 345.6 447.1 344.1 448.1 343.1 449.6 342.1 452.2 340.9 453.1 340.1 453.3 339.4 453.5 336.9 454.4 334.6 454.2 334.4 453.1 334.1 446.6 334.1 442.9 333.5 439.6 332.5 436.6 330.8 435.4 329.6 434.4 328.4 433.8 327.1 433.4 325.6 433.4 324.1 433.8 322.9 434.4 321.6 435.4 320.4 437.9 318.4 441.1 317 445.1 316.1 448.9 315.9 453.1 316.5 456.4 317.5 459.1 319 462.9 322.2 464.6 322.9 466.1 322.8 469.6 320.8 472.1 320.2 473.9 320.2 475.4 320.5 476.6 321 477.6 321.6 478.4 322.6 478.6 323.9 478 325.1 476.8 326.1 475.1 326.8 473.4 327.1 471.4 327 467.1 326.4 465.9 326.5 464.6 326.9 462.5 328.1 459.9 330.5 456.1 333.4 455.6 333.9 455.5 334.4 456.8 335.6 457.4 336.9 457.4 338.4 456.8 340.6 457.1 341.6 459.1 344.4 459.9 345.2 460.6 345.6 462.1 345.7 465.9 345.4 472.9 342.9 475.6 342.5 478.6 342.5 481.9 343 485.4 344.3 488.1 345.8 490.4 347.9 492.1 350.4 492.8 352.9 492.6 355.4 491.7 357.6 489.9 359.7 487.4 361.3 484.1 362.5 480.9 362.9Z" fill="none" stroke="#000" stroke-width="0.75" stroke-linejoin="round" clip-path="url(#cC1R)"/>
<path d="M448.9 426.3 447.6 426.4 446.6 426.1 446.1 425.6 446.2 424.8 446.7 424.3 447.5 424.1 448.5 424.1 449.3 424.3 449.9 424.8 450 425.3 449.6 425.9 448.9 426.3Z M476.9 451.6 476.1 451.3 476 450.8 476.2 450.6 476.9 450.5 477.5 450.8 477.5 451.3 476.9 451.6Z M448.6 427.1 447.1 427 445.6 426.4 445 425.6 444.9 425.1 445.1 424.5 446.1 423.7 447.6 423.4 449.1 423.5 450.4 424.1 451 424.8 450.9 425.8 450.1 426.6 448.6 427.1Z M477.1 452.1 476.4 452 475.5 451.6 475.2 450.8 475.5 450.3 476.1 450 476.9 449.9 477.6 450.2 478.1 450.5 478.4 451.1 478.3 451.6 477.9 451.9 477.1 452.1Z M448.4 427.6 446.4 427.3 444.8 426.6 444.4 426.1 444.1 425.3 444.3 424.6 444.6 424.1 445.9 423.2 447.9 422.9 449.6 423.1 451.1 423.8 451.6 424.4 451.9 425.1 451.8 425.8 451.4 426.3 450.1 427.2 448.4 427.6Z M478.1 452.3 476.9 452.5 475.4 452.1 474.7 451.3 474.6 450.8 474.7 450.3 475.3 449.8 476.1 449.5 477.1 449.5 478.1 449.9 478.6 450.3 479 451.1 478.8 451.8 478.1 452.3Z M449.1 427.8 446.6 427.8 444.6 427 443.9 426.3 443.6 425.6 443.6 424.8 444 424.1 445.3 423.1 447.4 422.5 449.6 422.7 451.6 423.6 452.1 424.1 452.4 424.8 452.3 426.1 451.1 427.1 449.1 427.8Z M477.9 452.8 476.4 452.8 474.9 452.2 474.4 451.7 474.1 451.1 474.3 450.1 475.1 449.4 476.4 449.1 477.6 449.3 478.7 449.8 479.4 450.6 479.5 451.6 479 452.3 477.9 452.8Z M449.6 428.1 446.9 428.2 445.4 427.8 444.3 427.3 443.5 426.6 443.1 425.8 443 424.8 443.4 424.1 444.1 423.3 444.9 422.8 446.9 422.2 449.4 422.3 451.6 423.1 452.8 424.3 453 425.1 452.9 425.8 452.5 426.6 451.7 427.3 449.6 428.1Z M478.4 453.1 476.4 453.2 474.6 452.5 474.1 452.1 473.6 451.3 473.5 450.6 473.9 449.8 474.9 449.1 476.1 448.8 477.6 448.9 479 449.6 479.9 450.6 480 451.6 479.4 452.5 478.4 453.1Z M448.4 428.6 445.6 428.2 444.4 427.7 443.4 427.1 442.8 426.3 442.5 425.3 442.7 424.3 443.2 423.6 444.1 422.8 445.2 422.3 447.9 421.9 450.6 422.3 451.9 422.8 452.6 423.4 453.3 424.3 453.5 425.1 453.4 425.9 452.9 426.8 452 427.6 451 428.1 448.4 428.6Z M477.6 453.6 475.4 453.3 474.4 452.8 473.6 452.2 473.1 451.3 473 450.6 473.3 449.8 473.7 449.3 475.1 448.6 476.9 448.5 478.6 448.9 479.9 449.8 480.5 451.1 480.2 452.3 479.1 453.2 477.6 453.6Z M448.9 428.8 447.1 428.8 445.6 428.6 444.3 428.1 443.1 427.3 442.4 426.6 442 425.6 442.1 424.6 442.7 423.6 443.5 422.8 444.6 422.2 445.9 421.8 447.6 421.6 449.1 421.6 450.6 421.9 452.8 423.1 453.5 423.8 454 424.8 453.9 425.8 453.6 426.6 452.9 427.3 451.8 428.1 450.4 428.5 448.9 428.8Z M478.1 453.8 476.9 453.9 475.6 453.7 474.4 453.2 473.5 452.6 472.9 451.8 472.6 450.8 472.7 450.1 473.1 449.3 474.4 448.4 476.4 448.1 478.4 448.5 480.1 449.5 481 450.8 480.9 452.1 479.9 453.2 478.1 453.8Z M449.1 429.1 447.4 429.1 445.6 428.8 444.1 428.3 442.9 427.6 442 426.6 441.6 425.6 441.7 424.6 442.2 423.6 443 422.8 444.2 422.1 445.8 421.6 447.4 421.3 450.4 421.6 451.8 422.1 453.1 422.8 453.8 423.6 454.3 424.6 454.4 425.6 454 426.6 453.1 427.5 452.1 428.2 450.6 428.8 449.1 429.1Z M478.6 454.1 477.4 454.2 475.9 454.1 474.4 453.6 473.4 452.9 472.6 452.1 472.1 451.1 472.2 450.1 472.6 449.3 473.9 448.3 476.1 447.8 478.4 448.1 480.2 449.1 480.9 449.8 481.3 450.6 481.5 451.3 481.4 452.1 480.4 453.3 478.6 454.1Z M449.1 429.3 447.1 429.3 445.4 429.1 443.6 428.4 442.4 427.6 441.5 426.6 441.2 425.6 441.3 424.3 441.9 423.3 442.9 422.4 444.1 421.8 445.6 421.3 447.6 421.1 449.4 421.1 450.9 421.4 452.4 422 453.6 422.8 454.4 423.8 454.8 424.8 454.8 425.8 454.3 426.8 453.4 427.8 452.1 428.5 450.7 429.1 449.1 429.3Z M479.1 454.3 477.6 454.5 475.9 454.4 474.4 453.9 473.1 453.2 472.1 452.2 471.7 451.1 471.7 450.1 472.2 449.1 473.6 448 475.9 447.5 478.4 447.8 480.5 448.8 481.7 450.3 482 451.3 481.9 452.1 481.5 452.8 480.9 453.5 479.1 454.3Z M449.1 429.6 447.1 429.6 445.3 429.3 443.6 428.7 442.1 427.8 441.2 426.8 440.8 425.6 440.9 424.3 441.5 423.3 442.6 422.3 443.9 421.6 445.6 421.1 447.4 420.8 449.1 420.9 450.9 421.2 452.6 421.8 453.8 422.6 454.7 423.6 455.2 424.6 455.2 425.8 454.8 426.8 453.9 427.8 452.6 428.6 450.9 429.3 449.1 429.6Z M478.1 454.8 476.4 454.8 474.9 454.5 473.4 453.8 472.1 452.8 471.5 451.8 471.2 450.6 471.4 449.6 472.1 448.6 472.9 447.9 474.1 447.4 476.6 447.2 478.1 447.4 479.4 447.8 481.4 449.1 482.1 450.1 482.4 451.1 482.4 452.1 482 452.8 481.4 453.6 480.4 454.2 478.1 454.8Z M449.4 429.8 447.4 429.9 445.2 429.6 443.4 428.9 441.9 428 440.8 426.8 440.4 425.6 440.5 424.3 441.2 423.1 442.4 422.1 443.8 421.3 445.5 420.8 447.4 420.6 449.4 420.6 451.1 421 452.8 421.6 454.1 422.4 455.1 423.5 455.6 424.6 455.6 425.8 455.1 426.9 454.1 428 452.9 428.8 451.1 429.5 449.4 429.8Z M478.9 455.1 477.1 455.2 475.1 454.9 473.4 454.2 472.1 453.3 471.1 452.1 470.7 450.8 470.9 449.6 471.5 448.6 472.4 447.8 473.4 447.3 474.6 446.9 476.1 446.8 477.6 446.9 479 447.3 480.4 447.9 481.4 448.6 482.3 449.6 482.8 450.6 482.9 451.6 482.7 452.6 482.3 453.3 481.4 454.1 480.1 454.7 478.9 455.1Z M449.4 430.1 447.1 430.1 445.1 429.8 443.1 429.1 441.6 428.2 440.5 427.1 440 425.8 440.1 424.3 440.7 423.1 441.8 422.1 443.4 421.2 445.4 420.6 447.4 420.3 449.4 420.4 451.4 420.7 453.1 421.4 454.5 422.3 455.5 423.3 456 424.6 456 425.8 455.5 427.1 454.6 428.1 453.1 429.1 451.4 429.7 449.4 430.1Z M479.4 455.3 477.6 455.5 475.6 455.4 473.6 454.7 472.1 453.8 470.9 452.6 470.3 451.3 470.3 449.8 470.9 448.6 471.6 447.8 472.9 447.1 474.4 446.6 475.9 446.5 477.6 446.6 479.1 447 480.5 447.6 481.6 448.3 482.6 449.3 483.2 450.3 483.4 451.6 483.2 452.6 482.7 453.6 481.9 454.3 480.6 455 479.4 455.3Z M449.4 430.3 447.1 430.4 444.9 430 442.8 429.3 441.1 428.3 440.1 427.1 439.5 425.6 439.7 424.1 440.5 422.8 441.6 421.8 443.4 420.9 445.4 420.3 447.4 420 449.6 420.1 451.6 420.5 453.4 421.2 454.9 422.2 455.9 423.3 456.4 424.6 456.5 425.8 455.9 427.1 454.8 428.3 453.2 429.3 451.4 430 449.4 430.3Z M478.9 455.8 476.9 455.9 474.6 455.5 472.6 454.6 471.2 453.6 470.2 452.3 469.7 450.8 469.9 449.3 470.7 448.1 471.6 447.2 473.1 446.5 474.6 446.2 476.4 446.1 478.1 446.3 479.6 446.8 481.1 447.5 482.4 448.4 483.3 449.6 483.9 450.8 483.9 452.1 483.6 453.1 482.9 454.1 481.9 454.8 480.4 455.5 478.9 455.8Z M449.6 430.6 447.1 430.6 444.6 430.2 442.6 429.6 440.9 428.5 439.8 427.3 439.1 425.8 439.2 424.3 440 422.8 441.1 421.7 442.9 420.7 444.9 420.1 447.1 419.8 449.4 419.8 451.6 420.2 453.6 421 455.1 421.9 456.2 423.1 456.8 424.3 456.9 425.8 456.4 427.1 455.4 428.3 453.6 429.4 451.6 430.2 449.6 430.6Z M479.6 456.1 477.4 456.3 475.1 456 472.9 455.2 471.1 454.1 469.7 452.6 469.2 451.1 469.2 449.6 470 448.1 471.1 447.1 472.4 446.4 473.9 445.9 475.6 445.7 477.6 445.9 479.4 446.3 480.9 446.9 482.4 447.8 483.6 449.1 484.3 450.3 484.5 451.6 484.3 452.8 483.6 453.9 482.6 454.8 481.1 455.7 479.6 456.1Z M450.1 430.8 447.4 430.9 444.9 430.6 442.6 429.9 440.7 428.8 439.2 427.3 438.6 425.8 438.7 424.3 439.5 422.8 440.8 421.6 442.4 420.6 444.4 419.9 446.9 419.5 449.1 419.5 451.4 419.9 453.5 420.6 455.3 421.6 456.5 422.8 457.2 424.1 457.4 425.6 456.9 427.1 455.9 428.3 454.4 429.4 452.4 430.3 450.1 430.8Z M479.4 456.6 476.9 456.7 474.4 456.2 472.1 455.3 470.3 454.1 469.1 452.6 468.5 450.8 468.7 449.1 469.7 447.6 470.9 446.6 472.4 445.9 474.4 445.4 476.4 445.3 478.4 445.6 480.4 446.2 482.1 447.1 483.4 448.1 484.4 449.3 485 450.6 485.1 452.1 484.7 453.3 483.8 454.6 482.6 455.5 481.1 456.1 479.4 456.6Z M450.4 431.1 447.6 431.2 444.9 430.9 442.4 430.2 440.4 429.1 438.9 427.6 438.2 426.1 438.2 424.3 438.9 422.8 440.1 421.5 441.9 420.5 444.1 419.7 446.6 419.2 449.1 419.2 451.6 419.6 453.8 420.3 455.6 421.3 456.9 422.6 457.7 424.1 457.9 425.6 457.4 427.1 456.3 428.6 454.6 429.7 452.6 430.6 450.4 431.1Z M479.1 457.1 476.6 457.1 473.9 456.6 471.4 455.5 469.6 454.1 468.3 452.3 467.8 450.6 468.1 448.8 469.1 447.2 470.4 446.2 472.1 445.4 474.1 445 476.4 444.9 478.6 445.2 480.6 445.8 482.4 446.7 483.9 447.8 484.9 449.1 485.6 450.6 485.8 452.1 485.3 453.6 484.4 454.8 482.9 455.9 481.1 456.7 479.1 457.1Z M449.4 431.6 446.4 431.5 443.6 431 441.4 430.2 439.4 428.8 438.1 427.3 437.5 425.6 437.8 423.8 438.7 422.3 440.1 421 442.1 419.9 444.6 419.2 447.1 418.9 449.9 418.9 452.4 419.4 454.6 420.3 456.6 421.6 457.9 423.1 458.4 424.6 458.3 426.3 457.6 427.8 456.1 429.2 454.1 430.4 451.9 431.2 449.4 431.6Z M479.6 457.6 476.9 457.6 473.9 457.1 471.4 456.1 469.2 454.6 467.8 452.8 467.1 450.8 467.3 448.8 468.4 447.1 469.9 445.8 471.6 445 473.9 444.5 476.1 444.3 478.4 444.6 480.6 445.2 482.6 446.2 484.4 447.4 485.7 449.1 486.4 450.6 486.5 452.3 486 453.8 485.1 455.1 483.6 456.2 481.6 457.1 479.6 457.6Z M450.6 431.8 447.6 432 444.6 431.7 441.9 430.9 439.5 429.6 437.9 428.1 437 426.3 436.9 425.3 437 424.3 437.8 422.6 439.2 421.1 441.1 419.9 443.6 419 446.4 418.5 449.1 418.5 451.9 418.9 454.4 419.7 456.4 420.8 458.1 422.3 458.9 423.8 459.1 425.6 458.6 427.3 457.4 428.8 455.6 430.1 453.4 431.2 450.6 431.8Z M480.4 458.1 477.1 458.3 473.9 457.7 471.1 456.7 468.7 455.1 467 453.1 466.5 452.1 466.2 450.8 466.3 448.8 466.8 447.8 467.5 446.8 468.9 445.5 470.9 444.5 473.1 443.9 475.6 443.7 478.4 444 480.9 444.6 483.1 445.7 484.9 446.9 486.2 448.3 487.1 450.1 487.4 451.8 487.1 453.6 486.3 455.1 484.6 456.5 482.6 457.5 480.4 458.1Z M451.1 432.3 447.9 432.5 444.4 432.1 441.4 431.3 438.9 429.9 437.2 428.3 436.2 426.3 436.2 424.3 437.1 422.3 438.6 420.7 440.9 419.4 443.6 418.4 446.4 418 449.4 418 452.4 418.5 455.1 419.4 457.1 420.5 458.8 422.1 459.7 423.8 459.9 425.6 459.4 427.3 458.1 429 456.4 430.4 453.6 431.7 451.1 432.3Z M479.1 459.1 475.6 458.9 472.1 458 469.1 456.5 466.8 454.6 465.9 453.3 465.3 452.1 464.9 449.8 465.2 448.6 465.6 447.6 467.1 445.6 468.9 444.4 471.4 443.4 474.1 443 476.9 443 479.6 443.4 482.4 444.3 484.6 445.6 486.6 447.3 487.9 449.1 488.5 451.1 488.5 453.1 487.8 454.8 486.4 456.4 484.4 457.7 481.9 458.6 479.1 459.1Z M451.6 433.1 448.4 433.2 443.9 432.7 440.6 431.7 438.1 430.4 436.2 428.6 435.6 427.6 435.1 426.3 435.1 424.3 435.5 423.1 436.1 422.1 437.8 420.3 440.1 418.9 442.9 417.9 445.9 417.4 449.4 417.3 452.4 417.8 455.4 418.7 457.9 420.1 459.8 421.8 460.7 423.6 461 425.6 460.6 427.3 459.4 429.1 457.4 430.7 454.4 432.2 451.6 433.1Z M480.6 460.1 476.6 460.1 472.6 459.4 469.1 457.9 466.2 455.8 464.2 453.3 463.5 451.8 463.2 450.6 463.2 449.3 463.5 448.1 464.1 446.8 465.1 445.6 467.1 443.9 469.6 442.7 472.6 442 475.6 441.8 478.9 442.1 481.9 442.9 484.6 444.2 487.2 446.1 489 448.1 490 450.3 490.2 452.6 489.6 454.8 488.1 456.8 486.1 458.3 483.6 459.4 480.6 460.1Z M453.1 449.8 451.9 449.9 450.6 449.4 449.8 448.6 449.8 447.8 450.4 447.2 451.4 447 452.4 447.1 453.5 447.6 454.1 448.1 454.4 448.8 453.9 449.5 453.1 449.8Z M451.9 440.7 451.4 440.8 450.9 440.6 450.4 440.1 449.9 439.2 449.7 437.6 450.3 435.3 449.9 434.8 448.5 434.3 442.4 433.2 439.9 432.4 436.9 430.7 434.8 428.6 434.3 427.6 433.8 426.3 433.7 425.1 433.9 423.8 434.3 422.8 435.1 421.6 436.1 420.4 437.4 419.4 440.1 418 443.6 416.9 447.1 416.5 450.6 416.7 454.1 417.4 456.9 418.4 459.5 420.1 461.3 422.1 462 423.6 462.3 424.8 462.2 426.3 461.6 427.8 460.6 429.3 459.1 430.7 457.1 431.9 453.5 433.8 452.6 434.6 452.4 435.1 453.1 437 453.3 438.3 452.8 439.8 451.9 440.7Z M481.4 461.3 478.1 461.5 474.9 461.2 472.1 460.6 469.1 459.5 466.9 458.2 465 456.8 463.5 455.3 460.9 452.1 459.9 451.4 458.9 451.4 455.9 452.4 453.9 452.6 451.4 452.5 449.1 451.9 447.2 450.8 446 449.6 445.4 448.1 445.5 446.8 446.2 445.8 447.6 444.8 449.9 443.7 451.4 443.4 452.4 443.7 454.9 444.9 459.1 447.4 460.1 447.5 461.1 447 463.9 444.3 466.1 442.6 468.9 441.4 472.4 440.6 475.1 440.5 478.1 440.7 480.9 441.2 483.6 442.2 485.6 443.1 487.4 444.2 488.9 445.5 490.1 446.8 491.1 448.3 491.8 449.8 492.1 451.3 492.1 453.1 491.7 454.6 491 456.1 490.1 457.3 488.9 458.4 487.4 459.4 485.6 460.2 483.6 460.9 481.4 461.3Z M480.6 462.6 478.1 462.6 475.6 462.5 470.9 461.4 467.9 460.2 465.6 458.9 463.6 457.4 460.9 454.8 459.6 454 458.1 453.8 453.6 454.1 450.9 453.8 447.4 452.7 444.9 451.1 444 450.1 443.4 449.1 443 447.8 443.1 446.8 443.5 445.8 444 445.1 447.1 442.8 447.9 441.8 448 440.8 447.7 435.8 447.4 435.3 446.6 434.8 441.6 433.7 438.6 432.6 436.1 431.1 434.4 429.6 433.1 427.3 432.7 425.1 433.2 422.8 434.5 420.8 435.6 419.7 437.1 418.6 440.1 417.2 444.1 416.2 447.9 415.9 451.9 416.2 455.6 417.1 458.9 418.6 461.3 420.6 462.6 422.3 463.2 424.1 463.3 426.1 462.8 427.8 461.8 429.3 460.6 430.5 459.1 431.7 455.9 433.6 455.3 434.1 454.9 434.8 455.2 438.1 454.7 442.1 455.1 442.8 455.6 443.3 457.4 444.3 459.1 444.9 460.4 444.8 461.4 444.3 464.6 442 467.4 440.6 471.1 439.7 475.1 439.4 479.1 439.7 483.1 440.8 486.9 442.5 489.9 444.6 492.2 447.3 493 448.8 493.5 450.3 493.8 451.8 493.7 453.3 493.4 454.8 492.8 456.1 492 457.3 490.9 458.5 488.1 460.5 484.6 461.9 480.6 462.6Z M451.9 441.1 451.4 441.2 450.9 441.1 450.4 440.6 449.8 439.6 449.5 437.8 449.9 435.6 449.8 435.1 449.5 434.8 448.2 434.3 442.9 433.4 439.9 432.4 436.9 430.7 435.6 429.6 434.8 428.6 434.1 427.3 433.7 426.1 433.7 424.8 433.9 423.6 434.5 422.3 435.2 421.3 436.4 420.1 437.6 419.2 440.1 417.9 443.6 416.9 447.4 416.5 450.9 416.7 454.4 417.4 457.1 418.5 459.6 420.1 461.4 422.1 462 423.3 462.4 424.8 462.3 426.3 461.7 427.8 460.7 429.3 459.1 430.7 457.4 431.9 454.1 433.6 452.8 434.6 452.7 435.1 453.4 437.1 453.4 438.6 452.9 440 451.9 441.1Z M479.9 461.6 477.1 461.6 474.1 461.2 471.4 460.5 468.9 459.5 466.6 458.2 464.9 456.8 463.3 455.3 460.9 452.4 459.9 451.7 458.9 451.7 455.9 452.5 453.6 452.8 451.1 452.6 448.9 451.9 447 450.8 445.8 449.6 445.2 448.1 445.3 446.8 446 445.8 447.3 444.8 450.1 443.4 451.4 443.1 452.6 443.6 458.9 447 460.1 447.2 461.1 446.7 464.1 443.9 466.4 442.4 469.4 441.2 472.6 440.5 475.4 440.4 478.4 440.6 481.1 441.2 483.9 442.2 485.9 443.2 487.6 444.3 489.1 445.6 490.4 447.1 491.5 448.8 492 450.3 492.3 452.1 492.1 453.6 491.7 455.1 490.8 456.6 489.6 457.8 488.1 459 486.4 460 484.4 460.8 482.4 461.3 479.9 461.6Z" fill="none" stroke="#000" stroke-width="0.75" stroke-linejoin="round" clip-path="url(#cC2R)"/>
<path d="M451.6 526.4 450.2 526.4 449.1 526.1 448.5 525.6 448.4 524.9 449.1 524.3 450.6 524 452.4 524.1 453.4 524.6 453.7 525.1 453.5 525.6 452.7 526.1 451.6 526.4Z M451.6 527.2 449.6 527.1 447.9 526.5 446.9 525.6 446.8 525.1 446.9 524.6 447.4 524.1 448.4 523.7 450.6 523.2 453.1 523.5 454.2 523.9 454.9 524.4 455.2 524.9 455.2 525.4 454.7 526.1 453.4 526.8 451.6 527.2Z M480.6 550.7 480.1 550.9 479.4 550.7 479.1 550.4 479.2 549.9 479.9 549.5 480.5 549.6 480.9 550.1 480.6 550.7Z M452.9 527.4 450.4 527.6 447.9 527.1 446.3 526.1 445.9 525.6 445.9 524.9 446.4 524.1 447.1 523.6 449.1 523 451.6 522.8 454.1 523.3 455.1 523.8 455.9 524.4 456.1 524.9 456.1 525.6 455.1 526.6 452.9 527.4Z M480.9 551.5 479.6 551.6 478.6 551.2 478.2 550.4 478.5 549.4 479.1 548.9 479.9 548.8 480.6 548.8 481.2 549.1 481.7 549.6 481.8 550.4 481.6 550.9 480.9 551.5Z M452.4 527.9 449.4 527.9 446.7 527.1 445.9 526.6 445.2 525.9 445 525.4 445.2 524.6 445.7 523.9 447 523.1 448.6 522.7 450.4 522.4 452.4 522.5 454.1 522.8 455.5 523.4 456.5 524.1 456.8 524.6 457 525.4 456.4 526.4 454.7 527.4 452.4 527.9Z M481.1 551.9 479.6 552.1 478.8 551.9 478.1 551.5 477.6 550.4 477.7 549.6 477.9 549.1 478.9 548.5 479.9 548.3 480.9 548.4 481.8 548.9 482.3 549.6 482.4 550.4 481.9 551.4 481.1 551.9Z M453.1 528.2 449.6 528.3 446.6 527.6 445.4 526.9 444.6 526.2 444.3 525.4 444.4 524.6 445.2 523.6 446.4 522.9 448 522.4 449.9 522.1 451.9 522.1 453.9 522.4 455.5 522.9 456.8 523.6 457.3 524.1 457.7 524.9 457.6 525.6 457.2 526.4 455.6 527.5 453.1 528.2Z M480.9 552.4 479.9 552.5 478.9 552.4 478.1 552 477.5 551.4 477.1 550.6 477.1 549.9 477.4 549.1 478.1 548.4 479.3 547.9 480.6 547.9 481.9 548.4 482.6 549.1 482.9 550.1 482.7 551.1 482 551.9 480.9 552.4Z M451.6 528.7 448.1 528.4 446.6 528 445.2 527.4 444.2 526.6 443.7 525.9 443.6 525.1 443.8 524.4 444.6 523.4 446.1 522.6 448.1 522 450.6 521.7 453.1 521.9 455.4 522.4 457 523.1 458.1 524.1 458.4 524.9 458.4 525.6 458 526.4 457.2 527.1 454.9 528.2 451.6 528.7Z M480.4 552.9 479.1 552.8 478.1 552.5 477.3 551.9 476.7 550.9 476.6 549.9 476.9 549 477.6 548.2 478.6 547.7 480.1 547.5 481.4 547.7 482.6 548.4 483.2 549.4 483.3 550.6 482.9 551.6 481.9 552.5 480.4 552.9Z M452.9 528.9 448.9 528.9 446.9 528.5 445.2 527.9 444 527.1 443.1 526.2 442.8 525.4 443 524.4 443.9 523.3 445.5 522.4 447.6 521.7 450.1 521.4 452.6 521.5 455 521.9 457 522.6 458.4 523.6 459 524.4 459.1 525.4 458.9 526.1 458.3 526.9 456.1 528.2 452.9 528.9Z M480.9 553.2 479.4 553.2 478.1 552.9 477.1 552.3 476.5 551.4 476.1 550.4 476.3 549.4 476.8 548.4 477.8 547.6 479.4 547.1 480.9 547.2 482.4 547.8 483.5 548.9 483.8 550.1 483.4 551.6 482.4 552.6 480.9 553.2Z M453.4 529.2 451.1 529.3 448.9 529.2 446.6 528.8 444.9 528.2 443.5 527.4 442.5 526.4 442.1 525.4 442.3 524.4 443.3 523.1 445 522.1 447.4 521.4 449.9 521.1 452.6 521.2 455.1 521.6 457.4 522.4 459 523.4 459.6 524.1 459.9 525.1 459.6 526.1 459.1 526.9 458.1 527.6 456.6 528.4 453.4 529.2Z M481.4 553.4 479.9 553.6 478.5 553.4 477.1 552.7 476.3 551.9 475.8 550.9 475.8 549.6 476.2 548.6 477.1 547.6 478.8 546.9 480.6 546.8 482.4 547.4 483.6 548.4 484.2 549.9 484 551.4 483 552.6 481.4 553.4Z M451.6 529.7 449.4 529.6 447.1 529.3 445.1 528.7 443.6 528.1 442.4 527.1 441.6 526.1 441.4 525.1 441.7 524.1 442.8 522.9 444.9 521.8 447.6 521 450.6 520.8 453.9 521 456.6 521.6 458.8 522.6 460.1 523.9 460.5 524.9 460.5 525.9 459.8 526.9 458.9 527.7 457.4 528.5 455.6 529.1 451.6 529.7Z M480.6 553.9 478.9 553.9 477.4 553.3 476.2 552.4 475.4 551.1 475.3 549.9 475.7 548.6 476.5 547.6 477.9 546.8 479.9 546.4 481.9 546.8 483.4 547.6 484.5 549.1 484.6 550.6 484.4 551.4 483.9 552.3 482.5 553.4 480.6 553.9Z M452.9 529.9 450.4 530 447.9 529.8 445.6 529.3 443.6 528.6 442.1 527.6 441 526.4 440.7 525.1 440.9 524.1 442.1 522.8 444.1 521.6 446.9 520.8 450.1 520.4 453.4 520.5 456.4 521.1 458.9 522.1 460.5 523.4 461.1 524.4 461.3 525.4 461 526.4 460.1 527.4 458.9 528.3 457.1 529 455.1 529.6 452.9 529.9Z M481.1 554.2 479.4 554.3 477.6 553.8 476.4 553.1 475.3 551.9 474.9 550.6 475 549.1 475.7 547.9 476.9 546.9 478.9 546.2 481.1 546.2 483.1 547 484.6 548.4 484.9 549.1 485.1 550.1 484.6 551.9 484.1 552.6 483.2 553.4 481.1 554.2Z M453.9 530.2 451.1 530.3 448.4 530.2 445.6 529.7 443.4 528.9 441.6 527.9 440.4 526.6 439.9 525.4 440.1 524.1 441.4 522.6 443.6 521.4 446.4 520.5 449.6 520.1 452.9 520.2 456.1 520.7 458.9 521.6 460.8 522.9 461.7 523.9 462 525.1 461.7 526.4 461 527.4 459.6 528.4 458.1 529.1 456.1 529.7 453.9 530.2Z M481.6 554.4 479.6 554.6 477.9 554.3 476.4 553.6 475.2 552.4 474.5 550.9 474.5 549.4 475 548.1 476.3 546.9 478.4 545.9 480.9 545.8 483.1 546.6 484.7 547.9 485.3 548.9 485.5 549.9 485.5 550.9 485.1 551.8 484.6 552.6 483.8 553.4 482.9 554 481.6 554.4Z M452.4 530.7 449.6 530.7 446.9 530.4 444.4 529.8 442.4 529 440.7 527.9 439.6 526.6 439.1 525.4 439.3 524.1 440 523.1 440.9 522.4 443.1 521.1 446.4 520.2 450.1 519.7 453.9 519.9 457.4 520.6 460.4 521.9 462.1 523.4 462.7 524.6 462.7 525.9 462 527.1 460.9 528.1 459.4 529.1 457.4 529.8 455.1 530.3 452.4 530.7Z M480.9 554.9 478.9 554.9 476.9 554.3 475.3 553.1 474.3 551.6 474 549.9 474.4 548.4 475.6 546.9 477.4 545.9 479.9 545.4 482.4 545.8 483.6 546.4 484.6 547.1 485.2 547.9 485.7 548.9 485.9 549.9 485.9 550.9 485.6 551.9 484.9 552.9 483.1 554.3 480.9 554.9Z M453.9 530.9 450.9 531.1 447.9 530.9 445.1 530.4 442.6 529.6 440.6 528.5 439 527.1 438.2 525.6 438.2 524.4 438.6 523.6 439.6 522.6 442.1 521 445.4 520 449.4 519.4 453.4 519.5 457.1 520.1 460.4 521.3 462.6 522.9 463.4 524.1 463.6 525.4 463.2 526.6 462.2 527.9 460.6 529 458.6 529.9 456.4 530.5 453.9 530.9Z M481.6 555.2 479.4 555.3 477.4 554.9 475.5 553.9 474.2 552.4 473.5 550.6 473.6 549.1 474.4 547.6 475.9 546.2 477.1 545.6 478.4 545.2 479.9 545 481.4 545.2 482.6 545.5 483.9 546.1 484.9 546.9 485.7 547.9 486.2 548.9 486.4 550.1 486.2 551.4 485.8 552.4 485 553.4 484.1 554.1 482.9 554.8 481.6 555.2Z M452.4 531.4 449.4 531.4 446.4 531.1 443.6 530.4 441.4 529.6 439.4 528.3 437.7 526.6 437.1 525.4 437.3 524.1 438.1 523.1 439.2 522.1 442.1 520.5 445.6 519.5 449.9 519 454.4 519.2 458.4 520 461.6 521.4 462.7 522.1 463.6 523.1 464.3 524.4 464.3 525.9 463.7 527.1 462.4 528.5 460.6 529.5 458.1 530.5 455.4 531.1 452.4 531.4Z M480.9 555.7 478.4 555.6 476.1 554.8 474.4 553.4 473.7 552.4 473.3 551.4 473.1 549.4 473.8 547.6 475.3 546.1 477.4 545.1 480.1 544.7 482.9 545.2 484.1 545.8 485.3 546.6 486.1 547.6 486.6 548.6 486.8 549.6 486.8 550.9 486.4 552.1 485.8 553.1 484.8 554.1 483.6 554.9 482.4 555.4 480.9 555.7Z M452.9 549.2 452.1 549.2 451.5 548.6 451.5 547.9 452.1 547.3 452.9 547.3 453.5 547.9 453.5 548.6 452.9 549.2Z M453.9 531.7 450.6 531.8 447.4 531.6 444.4 531 441.6 530.2 439.2 528.9 437.4 527.4 436 525.6 435.8 524.9 435.9 524.4 436.4 523.6 437.9 522.4 441.3 520.4 444.9 519.3 449.1 518.7 453.9 518.8 458.1 519.5 461.6 520.9 462.9 521.6 464 522.6 464.9 523.9 465.1 525.4 464.7 526.9 463.6 528.2 461.9 529.4 459.6 530.4 456.9 531.2 453.9 531.7Z M481.6 555.9 479.1 556 476.9 555.5 474.9 554.4 473.4 552.6 472.6 550.6 472.6 549.6 472.8 548.6 473.9 546.9 475.6 545.5 476.9 544.9 478.4 544.5 480.1 544.3 481.6 544.5 483.1 544.9 484.6 545.6 485.8 546.6 486.6 547.6 487.1 548.9 487.3 550.1 487.1 551.4 486.6 552.6 485.9 553.6 484.6 554.7 483.1 555.5 481.6 555.9Z M453.4 549.9 452.6 550.1 451.9 550 451.2 549.6 450.8 549.1 450.6 547.9 450.9 547.3 451.4 546.8 452.1 546.5 452.9 546.5 453.6 546.8 454.3 547.4 454.5 548.1 454.4 548.9 454.1 549.4 453.4 549.9Z M452.9 532.2 449.6 532.2 446.4 531.9 443.6 531.3 441 530.4 438.6 529.1 436.1 527.1 434.6 525.6 434.2 524.9 434.3 524.4 434.9 523.6 435.9 522.9 438.9 521 441.1 519.9 445.1 518.8 449.4 518.3 454.1 518.4 458.9 519.3 460.9 520 462.6 520.8 464.1 521.9 465.2 522.9 465.9 524.4 465.9 525.9 465.2 527.4 463.7 528.9 461.6 530.1 459.1 531.1 456.1 531.8 452.9 532.2Z M480.9 556.4 478.1 556.3 476.6 555.8 475.4 555.2 473.5 553.6 472.8 552.6 472.3 551.4 472.1 549.4 472.3 548.4 472.9 547.4 473.7 546.4 474.9 545.5 477.4 544.3 478.9 544 480.6 544 482.4 544.3 483.9 544.8 485.3 545.6 486.4 546.6 487.1 547.6 487.6 548.9 487.8 550.4 487.5 551.6 487 552.9 486.3 553.9 485.1 554.9 483.9 555.6 482.4 556.1 480.9 556.4Z M453.1 550.7 452.1 550.7 451.1 550.4 450.4 549.7 450 548.9 449.9 547.9 450.2 547.1 450.9 546.4 451.9 545.9 452.9 545.8 453.9 546.1 454.6 546.8 455.1 547.6 455.1 548.6 454.9 549.4 454.1 550.2 453.1 550.7Z M451.6 532.7 448.4 532.5 445.4 532.2 442.4 531.5 439.9 530.6 437.4 529.1 433.7 526.4 432.8 525.1 432.8 524.1 433.4 523.4 434.1 522.9 438.8 520.4 440.9 519.5 445.1 518.3 449.9 517.8 455.1 518 457.9 518.5 460.1 519.1 462.4 520 464 520.9 465.3 521.9 466.3 523.1 466.9 524.6 466.7 526.4 465.6 528.1 463.9 529.6 461.4 530.8 458.4 531.8 454.9 532.4 451.6 532.7Z M481.9 556.7 479.1 556.8 476.4 556.2 474.1 554.9 473.1 553.9 472.4 552.9 471.8 551.6 471.5 550.4 471.5 549.4 471.7 548.4 472.2 547.4 473 546.4 475.1 544.8 476.9 544 478.6 543.6 480.4 543.5 482.1 543.8 483.9 544.3 485.4 545.1 486.6 546.1 487.5 547.4 488.1 548.9 488.3 550.4 488 551.9 487.4 553.1 486.4 554.4 485.1 555.4 483.6 556.2 481.9 556.7Z M453.4 551.2 452.1 551.3 450.9 550.9 449.9 550.1 449.4 549.1 449.3 547.9 449.6 546.8 450.5 545.9 451.6 545.3 452.9 545.2 454.1 545.5 455.1 546.4 455.7 547.4 455.8 548.6 455.5 549.6 454.6 550.6 453.4 551.2Z M452.9 533.2 449.1 533.1 445.6 532.8 442.4 532.1 439.4 531 436.6 529.6 432.5 526.6 431.5 525.4 431.4 524.6 431.6 523.9 432.1 523.1 433.2 522.4 440.4 519 444.9 517.8 449.6 517.3 455.1 517.5 457.9 517.9 460.4 518.6 462.4 519.3 464.4 520.3 466 521.4 467.1 522.6 468 524.4 467.9 526.1 467.1 527.9 465.4 529.5 463.1 530.8 459.9 532 456.4 532.8 452.9 533.2Z M482.1 557.2 479.1 557.3 476.1 556.7 473.6 555.2 472.6 554.3 471.9 553.1 471.3 551.9 470.8 550.4 470.7 549.4 470.9 548.4 472.2 546.4 474.6 544.5 476.1 543.7 478.1 543.2 480.1 543 482.1 543.2 483.9 543.8 485.6 544.7 487.1 545.9 488.1 547.1 488.7 548.6 488.9 550.4 488.7 551.9 488 553.4 487 554.6 485.6 555.7 484.1 556.5 482.1 557.2Z M452.9 551.9 451.4 551.8 449.9 551 449 549.9 448.6 548.4 448.9 546.9 449.8 545.6 451.1 544.8 452.6 544.5 453.9 544.7 455.1 545.4 456.1 546.6 456.5 548.1 456.3 549.4 455.5 550.6 454.4 551.5 452.9 551.9Z M455.4 533.7 451.4 533.9 446.6 533.6 442.4 532.8 439.1 531.8 435.9 530.2 431.5 527.1 430.3 525.6 430.1 524.6 430.3 523.9 430.9 522.9 432.1 521.9 438.9 518.7 443.6 517.3 448.6 516.7 454.6 516.8 460.1 517.7 462.6 518.5 464.6 519.4 466.4 520.5 467.8 521.6 469 523.4 469.4 524.4 469.4 525.4 469 527.1 467.7 528.9 465.6 530.4 462.9 531.8 459.6 532.8 455.4 533.7Z M481.1 557.9 479.4 558 477.4 557.7 475.4 557 473.9 556.2 472.5 555.1 471.5 553.9 470.1 550.9 469.7 549.6 469.8 548.6 470.8 546.9 473.4 544.5 474.9 543.6 476.4 543 478.4 542.5 480.4 542.4 482.6 542.7 484.4 543.3 486.1 544.2 487.6 545.4 488.6 546.6 489.3 548.1 489.7 549.9 489.5 551.6 488.9 553.1 487.9 554.6 486.6 555.8 485.1 556.8 483.1 557.6 481.1 557.9Z M453.9 552.4 451.9 552.6 450.1 552 448.8 550.9 448 549.1 448 547.4 448.6 545.9 450.1 544.5 451.9 543.8 453.6 543.7 455.1 544.3 456.4 545.7 457.2 547.4 457.3 548.9 456.6 550.4 455.4 551.7 453.9 552.4Z M455.9 534.7 452.9 534.9 445.4 534.3 441.1 533.5 437.4 532.2 433.4 530.1 431.1 528.5 429.9 527.4 429.2 526.4 428.8 525.4 428.7 524.4 429 523.4 429.9 522.1 431.4 521 437.9 518 442.9 516.5 448.6 515.8 451.9 515.8 455.1 515.9 460.9 516.9 463.6 517.8 465.9 518.8 467.8 519.9 469.3 521.1 470.8 523.1 471.3 525.1 470.9 527.1 469.5 529.1 467.4 530.8 464.4 532.3 460.9 533.5 455.9 534.7Z M481.9 558.7 479.6 558.8 477.4 558.5 475.1 557.9 473.1 556.8 471.7 555.6 470.7 554.4 468.1 549.6 467.9 548.9 467.9 548.4 468.7 547.4 472.1 544.3 474.6 542.7 476.6 542 478.9 541.6 481.1 541.6 483.4 542 485.4 542.8 487.4 544 488.9 545.4 490 547.1 490.6 548.9 490.7 550.9 490.3 552.6 489.3 554.4 487.9 556 486.1 557.2 484.1 558.1 481.9 558.7Z M453.1 553.4 451.9 553.4 450.6 553.2 449.4 552.6 448.5 551.9 447.7 550.9 447.2 549.9 447 548.9 447 547.6 447.7 545.6 449.1 544.1 451.6 542.8 453.4 542.2 454.4 542.1 455.4 542.7 457.2 545.1 458.2 547.1 458.4 548.6 457.8 550.4 456.5 551.9 454.9 553 453.1 553.4Z M426.9 524.3 427.2 523.1 428 521.9 429.1 520.7 430.9 519.5 433.9 518 436.9 516.8 439.9 515.8 442.9 515.2 449.1 514.5 455.6 514.7 461.6 515.7 464.4 516.5 466.9 517.5 470.3 519.4 471.5 520.4 472.6 521.6 473.3 522.6 473.8 523.9 473.9 525.1 473.8 526.4 473.2 527.9 472.3 529.1 471.1 530.4 469.4 531.6 465.4 533.6 459.1 535.5 457.7 536.4 457.4 537.4 457.8 539.6 457.8 542.6 458.3 544.1 459.4 546.1 460.6 547.5 461.1 547.8 461.9 547.8 467.6 545.9 469 545.1 472.4 542.6 475.6 541.1 477.6 540.6 479.4 540.4 481.4 540.5 483.4 540.8 485.6 541.5 487.6 542.6 489.4 544 490.8 545.6 491.7 547.6 492.1 549.4 492.1 551.4 491.5 553.4 490.8 554.6 489.9 555.9 488.6 557.1 487.1 558.1 485.4 559 483.6 559.5 480.1 560 476.4 559.5 474.6 559 472.9 558.1 471.4 557.1 470.1 555.9 467.6 552.2 466.9 551.4 465.4 550.5 461.6 549.2 461.1 549.2 460.4 549.6 457.4 552.7 455.1 554.1 453.9 554.5 452.4 554.6 451.1 554.5 449.6 554 447.9 552.9 446.6 551.4 445.9 549.6 445.8 547.6 446.2 545.9 447.2 544.4 448.4 543.2 450.6 541.6 451.5 540.6 452.2 538.1 452.2 537.4 451.9 536.9 451.1 536.4 450.1 536.1 444.4 535.5 440.6 534.8 437.4 533.8 434.6 532.7 431.6 531 428.9 528.9 427.5 527.1 426.9 525.2 M426.9 520.9 428.1 519.7 429.9 518.5 432.6 517.1 435.1 516 440.4 514.5 446.4 513.6 452.9 513.4 458.9 514 464.6 515.3 469.1 517 472.7 519.1 474.1 520.4 475.1 521.6 475.8 522.9 476.2 524.4 476.2 525.9 475.9 527.1 475.2 528.6 474.2 529.9 472.6 531.3 470.9 532.5 467.4 534.2 461.3 536.1 459.9 536.9 459.5 537.4 459.3 538.1 459.2 541.9 459.4 543.4 459.9 544.6 460.6 545.3 461.6 545.7 464.9 545.5 467.5 544.6 471.9 541.6 473.4 540.8 475.4 540 477.6 539.5 479.9 539.4 482.1 539.5 484.4 540 486.6 540.8 488.9 542.1 490.7 543.6 492 545.4 493 547.4 493.4 549.4 493.4 551.4 492.8 553.4 492.1 554.9 491 556.4 489.6 557.7 488.1 558.8 486.4 559.7 484.6 560.4 482.6 560.8 480.6 561 478.4 560.9 476.1 560.6 473.9 559.8 472.1 559 470.6 558 469.2 556.6 466.1 552.5 465.1 551.9 463.4 551.4 461.9 551.2 460.6 551.4 456.9 554.3 454.6 555.3 452.1 555.6 449.6 555.1 447.6 554 446 552.4 445 550.4 444.7 548.1 445 546.1 445.9 544.4 447.1 542.9 449.3 541.1 450 540.1 450.3 538.9 450 537.9 449.2 537.4 448.4 537.2 440.6 536 437.6 535.3 434.9 534.3 432.4 533.2 430.4 532.1 428.4 530.6 426.9 529.1 M426.9 523.8 427.5 522.4 428.4 521.3 429.6 520.3 431.6 519 434.6 517.6 437.4 516.5 440.1 515.7 443.6 515 449.9 514.5 456.1 514.7 462.1 515.8 467.1 517.5 470.4 519.4 472.7 521.6 473.5 522.9 473.9 524.1 474 525.4 473.8 526.6 473.2 528.1 472.2 529.4 470.9 530.6 469.4 531.7 465.6 533.5 459.1 535.6 457.9 536.4 457.6 537.4 457.8 539.6 457.9 542.6 458.4 544.1 459.4 546 460.1 546.9 460.9 547.5 462.1 547.5 467.6 545.8 468.9 545.1 472.6 542.3 475.6 541 477.6 540.6 479.6 540.4 483.4 540.8 485.6 541.5 487.6 542.5 489.4 543.9 490.8 545.6 491.7 547.4 492.2 549.4 492.1 551.4 491.5 553.4 490.7 554.9 489.7 556.1 487.1 558.2 483.9 559.5 480.1 560 476.4 559.6 474.6 559 472.9 558.2 471.4 557.2 470.1 555.9 467.6 552.3 466.8 551.4 465.4 550.6 461.9 549.4 461.1 549.4 460.4 549.7 457.1 553 454.9 554.2 453.6 554.6 452.1 554.6 449.6 554.1 447.9 553 446.6 551.4 445.8 549.4 445.8 547.4 446.3 545.6 447.1 544.4 448.1 543.4 450.6 541.5 451.4 540.6 452.1 538.4 452.1 537.6 451.9 537.1 451.1 536.5 449.9 536.2 444.1 535.5 440.4 534.8 437.1 533.8 434.6 532.8 431.9 531.3 429.1 529.2 427.6 527.4 426.9 525.7" fill="none" stroke="#000" stroke-width="0.75" stroke-linejoin="round" clip-path="url(#cC3R)"/>
<text x="20.4" y="37.6" font-size="17" text-anchor="start" font-weight="bold" fill="#111" >A</text><text x="106.5" y="26.7" font-size="9.5" text-anchor="middle" font-weight="normal" fill="#222" >Healthy</text><text x="106.5" y="37.9" font-size="9.5" text-anchor="middle" font-weight="normal" fill="#222" >Control</text><text x="222.5" y="32.3" font-size="9.5" text-anchor="middle" font-weight="normal" fill="#222" >IROC067</text><text x="331.8" y="32.3" font-size="9.5" text-anchor="middle" font-weight="normal" fill="#222" >IROC015</text><line x1="72.5" y1="41.7" x2="153.9" y2="41.7" stroke="#aaa" stroke-width="0.8" /><line x1="101.4" y1="41.7" x2="101.4" y2="123.7" stroke="#6e6e6e" stroke-width="1" /><line x1="72.5" y1="80.2" x2="153.9" y2="80.2" stroke="#6e6e6e" stroke-width="1" /><line x1="72.5" y1="41.7" x2="72.5" y2="124.5" stroke="#444" stroke-width="1" /><line x1="70.5" y1="59.7" x2="72.5" y2="59.7" stroke="#444" stroke-width="0.8" /><line x1="70.5" y1="78.7" x2="72.5" y2="78.7" stroke="#444" stroke-width="0.8" /><line x1="70.5" y1="98" x2="72.5" y2="98" stroke="#444" stroke-width="0.8" /><line x1="70.5" y1="114.3" x2="72.5" y2="114.3" stroke="#444" stroke-width="0.8" /><line x1="71.4" y1="64.45" x2="72.5" y2="64.45" stroke="#444" stroke-width="0.45" /><line x1="71.4" y1="68.25" x2="72.5" y2="68.25" stroke="#444" stroke-width="0.45" /><line x1="71.4" y1="70.72" x2="72.5" y2="70.72" stroke="#444" stroke-width="0.45" /><line x1="71.4" y1="72.62" x2="72.5" y2="72.62" stroke="#444" stroke-width="0.45" /><line x1="71.4" y1="74.14" x2="72.5" y2="74.14" stroke="#444" stroke-width="0.45" /><line x1="71.4" y1="75.47" x2="72.5" y2="75.47" stroke="#444" stroke-width="0.45" /><line x1="71.4" y1="76.61" x2="72.5" y2="76.61" stroke="#444" stroke-width="0.45" /><line x1="71.4" y1="77.56" x2="72.5" y2="77.56" stroke="#444" stroke-width="0.45" /><line x1="71.4" y1="83.53" x2="72.5" y2="83.53" stroke="#444" stroke-width="0.45" /><line x1="71.4" y1="87.39" x2="72.5" y2="87.39" stroke="#444" stroke-width="0.45" /><line x1="71.4" y1="89.89" x2="72.5" y2="89.89" stroke="#444" stroke-width="0.45" /><line x1="71.4" y1="91.82" x2="72.5" y2="91.82" stroke="#444" stroke-width="0.45" /><line x1="71.4" y1="93.37" x2="72.5" y2="93.37" stroke="#444" stroke-width="0.45" /><line x1="71.4" y1="94.72" x2="72.5" y2="94.72" stroke="#444" stroke-width="0.45" /><line x1="71.4" y1="95.88" x2="72.5" y2="95.88" stroke="#444" stroke-width="0.45" /><line x1="71.4" y1="96.84" x2="72.5" y2="96.84" stroke="#444" stroke-width="0.45" /><line x1="71.4" y1="102.08" x2="72.5" y2="102.08" stroke="#444" stroke-width="0.45" /><line x1="71.4" y1="105.33" x2="72.5" y2="105.33" stroke="#444" stroke-width="0.45" /><line x1="71.4" y1="107.45" x2="72.5" y2="107.45" stroke="#444" stroke-width="0.45" /><line x1="71.4" y1="109.08" x2="72.5" y2="109.08" stroke="#444" stroke-width="0.45" /><line x1="71.4" y1="110.39" x2="72.5" y2="110.39" stroke="#444" stroke-width="0.45" /><line x1="71.4" y1="111.53" x2="72.5" y2="111.53" stroke="#444" stroke-width="0.45" /><line x1="71.4" y1="112.51" x2="72.5" y2="112.51" stroke="#444" stroke-width="0.45" /><line x1="71.4" y1="113.32" x2="72.5" y2="113.32" stroke="#444" stroke-width="0.45" /><line x1="80.7" y1="124" x2="80.7" y2="125.7" stroke="#666" stroke-width="0.7" /><line x1="97.1" y1="124" x2="97.1" y2="125.7" stroke="#666" stroke-width="0.7" /><line x1="117" y1="124" x2="117" y2="125.7" stroke="#666" stroke-width="0.7" /><line x1="135.5" y1="124" x2="135.5" y2="125.7" stroke="#666" stroke-width="0.7" /><line x1="74" y1="124.3" x2="74" y2="125.2" stroke="#999" stroke-width="0.5" /><line x1="75.7" y1="124.3" x2="75.7" y2="125.2" stroke="#999" stroke-width="0.5" /><line x1="77.3" y1="124.3" x2="77.3" y2="125.2" stroke="#999" stroke-width="0.5" /><line x1="85.62" y1="124.3" x2="85.62" y2="125.2" stroke="#999" stroke-width="0.5" /><line x1="88.57" y1="124.3" x2="88.57" y2="125.2" stroke="#999" stroke-width="0.5" /><line x1="90.54" y1="124.3" x2="90.54" y2="125.2" stroke="#999" stroke-width="0.5" /><line x1="92.18" y1="124.3" x2="92.18" y2="125.2" stroke="#999" stroke-width="0.5" /><line x1="93.49" y1="124.3" x2="93.49" y2="125.2" stroke="#999" stroke-width="0.5" /><line x1="94.64" y1="124.3" x2="94.64" y2="125.2" stroke="#999" stroke-width="0.5" /><line x1="95.46" y1="124.3" x2="95.46" y2="125.2" stroke="#999" stroke-width="0.5" /><line x1="96.28" y1="124.3" x2="96.28" y2="125.2" stroke="#999" stroke-width="0.5" /><line x1="103.07" y1="124.3" x2="103.07" y2="125.2" stroke="#999" stroke-width="0.5" /><line x1="106.65" y1="124.3" x2="106.65" y2="125.2" stroke="#999" stroke-width="0.5" /><line x1="109.04" y1="124.3" x2="109.04" y2="125.2" stroke="#999" stroke-width="0.5" /><line x1="111.03" y1="124.3" x2="111.03" y2="125.2" stroke="#999" stroke-width="0.5" /><line x1="112.62" y1="124.3" x2="112.62" y2="125.2" stroke="#999" stroke-width="0.5" /><line x1="114.02" y1="124.3" x2="114.02" y2="125.2" stroke="#999" stroke-width="0.5" /><line x1="115.01" y1="124.3" x2="115.01" y2="125.2" stroke="#999" stroke-width="0.5" /><line x1="116" y1="124.3" x2="116" y2="125.2" stroke="#999" stroke-width="0.5" /><line x1="122.55" y1="124.3" x2="122.55" y2="125.2" stroke="#999" stroke-width="0.5" /><line x1="125.88" y1="124.3" x2="125.88" y2="125.2" stroke="#999" stroke-width="0.5" /><line x1="128.1" y1="124.3" x2="128.1" y2="125.2" stroke="#999" stroke-width="0.5" /><line x1="129.95" y1="124.3" x2="129.95" y2="125.2" stroke="#999" stroke-width="0.5" /><line x1="131.43" y1="124.3" x2="131.43" y2="125.2" stroke="#999" stroke-width="0.5" /><line x1="132.72" y1="124.3" x2="132.72" y2="125.2" stroke="#999" stroke-width="0.5" /><line x1="133.65" y1="124.3" x2="133.65" y2="125.2" stroke="#999" stroke-width="0.5" /><line x1="134.57" y1="124.3" x2="134.57" y2="125.2" stroke="#999" stroke-width="0.5" /><line x1="141.05" y1="124.3" x2="141.05" y2="125.2" stroke="#999" stroke-width="0.5" /><line x1="144.38" y1="124.3" x2="144.38" y2="125.2" stroke="#999" stroke-width="0.5" /><line x1="146.6" y1="124.3" x2="146.6" y2="125.2" stroke="#999" stroke-width="0.5" /><line x1="148.45" y1="124.3" x2="148.45" y2="125.2" stroke="#999" stroke-width="0.5" /><line x1="149.93" y1="124.3" x2="149.93" y2="125.2" stroke="#999" stroke-width="0.5" /><line x1="151.22" y1="124.3" x2="151.22" y2="125.2" stroke="#999" stroke-width="0.5" /><line x1="152.15" y1="124.3" x2="152.15" y2="125.2" stroke="#999" stroke-width="0.5" /><line x1="153.07" y1="124.3" x2="153.07" y2="125.2" stroke="#999" stroke-width="0.5" /><line x1="88" y1="123.7" x2="137.5" y2="123.7" stroke="#222" stroke-width="1" /><text x="69.1" y="61.93" font-size="6.2" text-anchor="end" font-weight="bold" fill="#2a2a2a" class="tk">10<tspan font-size="4.22" dy="-3.84">3</tspan></text><text x="69.1" y="80.93" font-size="6.2" text-anchor="end" font-weight="bold" fill="#2a2a2a" class="tk">10<tspan font-size="4.22" dy="-3.84">2</tspan></text><text x="69.1" y="100.23" font-size="6.2" text-anchor="end" font-weight="bold" fill="#2a2a2a" class="tk">10<tspan font-size="4.22" dy="-3.84">1</tspan></text><text x="69.1" y="116.53" font-size="6.2" text-anchor="end" font-weight="bold" fill="#2a2a2a" class="tk">0</text><text x="80.7" y="133.1" font-size="6.2" text-anchor="middle" font-weight="bold" fill="#2a2a2a" class="tk">0</text><text x="98" y="133.1" font-size="6.2" text-anchor="middle" font-weight="bold" fill="#2a2a2a" class="tk">10<tspan font-size="4.22" dy="-3.84">1</tspan></text><text x="117.9" y="133.1" font-size="6.2" text-anchor="middle" font-weight="bold" fill="#2a2a2a" class="tk">10<tspan font-size="4.22" dy="-3.84">2</tspan></text><text x="136.4" y="133.1" font-size="6.2" text-anchor="middle" font-weight="bold" fill="#2a2a2a" class="tk">10<tspan font-size="4.22" dy="-3.84">3</tspan></text><text x="73.8" y="49.05" font-size="7.5" text-anchor="start" font-weight="normal" fill="#1a1a1a" class="pc">0.865</text><text x="153.1" y="49.05" font-size="7.5" text-anchor="end" font-weight="normal" fill="#1a1a1a" class="pc">3.25</text><text x="73.8" y="122.3" font-size="7.5" text-anchor="start" font-weight="normal" fill="#1a1a1a" class="pc">39.6</text><text x="153.1" y="122.3" font-size="7.5" text-anchor="end" font-weight="normal" fill="#1a1a1a" class="pc">56.3</text><line x1="181.5" y1="41.7" x2="262.9" y2="41.7" stroke="#aaa" stroke-width="0.8" /><line x1="211.2" y1="41.7" x2="211.2" y2="123.7" stroke="#6e6e6e" stroke-width="1" /><line x1="181.5" y1="80.2" x2="262.9" y2="80.2" stroke="#6e6e6e" stroke-width="1" /><line x1="181.5" y1="41.7" x2="181.5" y2="124.5" stroke="#444" stroke-width="1" /><line x1="179.5" y1="59.7" x2="181.5" y2="59.7" stroke="#444" stroke-width="0.8" /><line x1="179.5" y1="78.7" x2="181.5" y2="78.7" stroke="#444" stroke-width="0.8" /><line x1="179.5" y1="98" x2="181.5" y2="98" stroke="#444" stroke-width="0.8" /><line x1="179.5" y1="114.3" x2="181.5" y2="114.3" stroke="#444" stroke-width="0.8" /><line x1="180.4" y1="64.45" x2="181.5" y2="64.45" stroke="#444" stroke-width="0.45" /><line x1="180.4" y1="68.25" x2="181.5" y2="68.25" stroke="#444" stroke-width="0.45" /><line x1="180.4" y1="70.72" x2="181.5" y2="70.72" stroke="#444" stroke-width="0.45" /><line x1="180.4" y1="72.62" x2="181.5" y2="72.62" stroke="#444" stroke-width="0.45" /><line x1="180.4" y1="74.14" x2="181.5" y2="74.14" stroke="#444" stroke-width="0.45" /><line x1="180.4" y1="75.47" x2="181.5" y2="75.47" stroke="#444" stroke-width="0.45" /><line x1="180.4" y1="76.61" x2="181.5" y2="76.61" stroke="#444" stroke-width="0.45" /><line x1="180.4" y1="77.56" x2="181.5" y2="77.56" stroke="#444" stroke-width="0.45" /><line x1="180.4" y1="83.53" x2="181.5" y2="83.53" stroke="#444" stroke-width="0.45" /><line x1="180.4" y1="87.39" x2="181.5" y2="87.39" stroke="#444" stroke-width="0.45" /><line x1="180.4" y1="89.89" x2="181.5" y2="89.89" stroke="#444" stroke-width="0.45" /><line x1="180.4" y1="91.82" x2="181.5" y2="91.82" stroke="#444" stroke-width="0.45" /><line x1="180.4" y1="93.37" x2="181.5" y2="93.37" stroke="#444" stroke-width="0.45" /><line x1="180.4" y1="94.72" x2="181.5" y2="94.72" stroke="#444" stroke-width="0.45" /><line x1="180.4" y1="95.88" x2="181.5" y2="95.88" stroke="#444" stroke-width="0.45" /><line x1="180.4" y1="96.84" x2="181.5" y2="96.84" stroke="#444" stroke-width="0.45" /><line x1="180.4" y1="102.08" x2="181.5" y2="102.08" stroke="#444" stroke-width="0.45" /><line x1="180.4" y1="105.33" x2="181.5" y2="105.33" stroke="#444" stroke-width="0.45" /><line x1="180.4" y1="107.45" x2="181.5" y2="107.45" stroke="#444" stroke-width="0.45" /><line x1="180.4" y1="109.08" x2="181.5" y2="109.08" stroke="#444" stroke-width="0.45" /><line x1="180.4" y1="110.39" x2="181.5" y2="110.39" stroke="#444" stroke-width="0.45" /><line x1="180.4" y1="111.53" x2="181.5" y2="111.53" stroke="#444" stroke-width="0.45" /><line x1="180.4" y1="112.51" x2="181.5" y2="112.51" stroke="#444" stroke-width="0.45" /><line x1="180.4" y1="113.32" x2="181.5" y2="113.32" stroke="#444" stroke-width="0.45" /><line x1="189.7" y1="124" x2="189.7" y2="125.7" stroke="#666" stroke-width="0.7" /><line x1="206.1" y1="124" x2="206.1" y2="125.7" stroke="#666" stroke-width="0.7" /><line x1="226" y1="124" x2="226" y2="125.7" stroke="#666" stroke-width="0.7" /><line x1="244.5" y1="124" x2="244.5" y2="125.7" stroke="#666" stroke-width="0.7" /><line x1="183" y1="124.3" x2="183" y2="125.2" stroke="#999" stroke-width="0.5" /><line x1="184.7" y1="124.3" x2="184.7" y2="125.2" stroke="#999" stroke-width="0.5" /><line x1="186.3" y1="124.3" x2="186.3" y2="125.2" stroke="#999" stroke-width="0.5" /><line x1="194.62" y1="124.3" x2="194.62" y2="125.2" stroke="#999" stroke-width="0.5" /><line x1="197.57" y1="124.3" x2="197.57" y2="125.2" stroke="#999" stroke-width="0.5" /><line x1="199.54" y1="124.3" x2="199.54" y2="125.2" stroke="#999" stroke-width="0.5" /><line x1="201.18" y1="124.3" x2="201.18" y2="125.2" stroke="#999" stroke-width="0.5" /><line x1="202.49" y1="124.3" x2="202.49" y2="125.2" stroke="#999" stroke-width="0.5" /><line x1="203.64" y1="124.3" x2="203.64" y2="125.2" stroke="#999" stroke-width="0.5" /><line x1="204.46" y1="124.3" x2="204.46" y2="125.2" stroke="#999" stroke-width="0.5" /><line x1="205.28" y1="124.3" x2="205.28" y2="125.2" stroke="#999" stroke-width="0.5" /><line x1="212.07" y1="124.3" x2="212.07" y2="125.2" stroke="#999" stroke-width="0.5" /><line x1="215.65" y1="124.3" x2="215.65" y2="125.2" stroke="#999" stroke-width="0.5" /><line x1="218.04" y1="124.3" x2="218.04" y2="125.2" stroke="#999" stroke-width="0.5" /><line x1="220.03" y1="124.3" x2="220.03" y2="125.2" stroke="#999" stroke-width="0.5" /><line x1="221.62" y1="124.3" x2="221.62" y2="125.2" stroke="#999" stroke-width="0.5" /><line x1="223.01" y1="124.3" x2="223.01" y2="125.2" stroke="#999" stroke-width="0.5" /><line x1="224.01" y1="124.3" x2="224.01" y2="125.2" stroke="#999" stroke-width="0.5" /><line x1="225" y1="124.3" x2="225" y2="125.2" stroke="#999" stroke-width="0.5" /><line x1="231.55" y1="124.3" x2="231.55" y2="125.2" stroke="#999" stroke-width="0.5" /><line x1="234.88" y1="124.3" x2="234.88" y2="125.2" stroke="#999" stroke-width="0.5" /><line x1="237.1" y1="124.3" x2="237.1" y2="125.2" stroke="#999" stroke-width="0.5" /><line x1="238.95" y1="124.3" x2="238.95" y2="125.2" stroke="#999" stroke-width="0.5" /><line x1="240.43" y1="124.3" x2="240.43" y2="125.2" stroke="#999" stroke-width="0.5" /><line x1="241.72" y1="124.3" x2="241.72" y2="125.2" stroke="#999" stroke-width="0.5" /><line x1="242.65" y1="124.3" x2="242.65" y2="125.2" stroke="#999" stroke-width="0.5" /><line x1="243.57" y1="124.3" x2="243.57" y2="125.2" stroke="#999" stroke-width="0.5" /><line x1="250.05" y1="124.3" x2="250.05" y2="125.2" stroke="#999" stroke-width="0.5" /><line x1="253.38" y1="124.3" x2="253.38" y2="125.2" stroke="#999" stroke-width="0.5" /><line x1="255.6" y1="124.3" x2="255.6" y2="125.2" stroke="#999" stroke-width="0.5" /><line x1="257.45" y1="124.3" x2="257.45" y2="125.2" stroke="#999" stroke-width="0.5" /><line x1="258.93" y1="124.3" x2="258.93" y2="125.2" stroke="#999" stroke-width="0.5" /><line x1="260.23" y1="124.3" x2="260.23" y2="125.2" stroke="#999" stroke-width="0.5" /><line x1="261.15" y1="124.3" x2="261.15" y2="125.2" stroke="#999" stroke-width="0.5" /><line x1="262.07" y1="124.3" x2="262.07" y2="125.2" stroke="#999" stroke-width="0.5" /><line x1="198" y1="123.7" x2="252.7" y2="123.7" stroke="#222" stroke-width="1" /><text x="178.1" y="61.93" font-size="6.2" text-anchor="end" font-weight="bold" fill="#2a2a2a" class="tk">10<tspan font-size="4.22" dy="-3.84">3</tspan></text><text x="178.1" y="80.93" font-size="6.2" text-anchor="end" font-weight="bold" fill="#2a2a2a" class="tk">10<tspan font-size="4.22" dy="-3.84">2</tspan></text><text x="178.1" y="100.23" font-size="6.2" text-anchor="end" font-weight="bold" fill="#2a2a2a" class="tk">10<tspan font-size="4.22" dy="-3.84">1</tspan></text><text x="178.1" y="116.53" font-size="6.2" text-anchor="end" font-weight="bold" fill="#2a2a2a" class="tk">0</text><text x="189.7" y="133.1" font-size="6.2" text-anchor="middle" font-weight="bold" fill="#2a2a2a" class="tk">0</text><text x="207" y="133.1" font-size="6.2" text-anchor="middle" font-weight="bold" fill="#2a2a2a" class="tk">10<tspan font-size="4.22" dy="-3.84">1</tspan></text><text x="226.9" y="133.1" font-size="6.2" text-anchor="middle" font-weight="bold" fill="#2a2a2a" class="tk">10<tspan font-size="4.22" dy="-3.84">2</tspan></text><text x="245.4" y="133.1" font-size="6.2" text-anchor="middle" font-weight="bold" fill="#2a2a2a" class="tk">10<tspan font-size="4.22" dy="-3.84">3</tspan></text><text x="182.8" y="49.05" font-size="7.5" text-anchor="start" font-weight="normal" fill="#1a1a1a" class="pc">2.9</text><text x="262.1" y="49.05" font-size="7.5" text-anchor="end" font-weight="normal" fill="#1a1a1a" class="pc">2.17</text><text x="182.8" y="122.3" font-size="7.5" text-anchor="start" font-weight="normal" fill="#1a1a1a" class="pc">39.9</text><text x="262.1" y="122.3" font-size="7.5" text-anchor="end" font-weight="normal" fill="#1a1a1a" class="pc">55</text><line x1="290.6" y1="41.7" x2="372" y2="41.7" stroke="#aaa" stroke-width="0.8" /><line x1="320.8" y1="41.7" x2="320.8" y2="123.7" stroke="#6e6e6e" stroke-width="1" /><line x1="290.6" y1="80.2" x2="372" y2="80.2" stroke="#6e6e6e" stroke-width="1" /><line x1="290.6" y1="41.7" x2="290.6" y2="124.5" stroke="#444" stroke-width="1" /><line x1="288.6" y1="59.7" x2="290.6" y2="59.7" stroke="#444" stroke-width="0.8" /><line x1="288.6" y1="78.7" x2="290.6" y2="78.7" stroke="#444" stroke-width="0.8" /><line x1="288.6" y1="98" x2="290.6" y2="98" stroke="#444" stroke-width="0.8" /><line x1="288.6" y1="114.3" x2="290.6" y2="114.3" stroke="#444" stroke-width="0.8" /><line x1="289.5" y1="64.45" x2="290.6" y2="64.45" stroke="#444" stroke-width="0.45" /><line x1="289.5" y1="68.25" x2="290.6" y2="68.25" stroke="#444" stroke-width="0.45" /><line x1="289.5" y1="70.72" x2="290.6" y2="70.72" stroke="#444" stroke-width="0.45" /><line x1="289.5" y1="72.62" x2="290.6" y2="72.62" stroke="#444" stroke-width="0.45" /><line x1="289.5" y1="74.14" x2="290.6" y2="74.14" stroke="#444" stroke-width="0.45" /><line x1="289.5" y1="75.47" x2="290.6" y2="75.47" stroke="#444" stroke-width="0.45" /><line x1="289.5" y1="76.61" x2="290.6" y2="76.61" stroke="#444" stroke-width="0.45" /><line x1="289.5" y1="77.56" x2="290.6" y2="77.56" stroke="#444" stroke-width="0.45" /><line x1="289.5" y1="83.53" x2="290.6" y2="83.53" stroke="#444" stroke-width="0.45" /><line x1="289.5" y1="87.39" x2="290.6" y2="87.39" stroke="#444" stroke-width="0.45" /><line x1="289.5" y1="89.89" x2="290.6" y2="89.89" stroke="#444" stroke-width="0.45" /><line x1="289.5" y1="91.82" x2="290.6" y2="91.82" stroke="#444" stroke-width="0.45" /><line x1="289.5" y1="93.37" x2="290.6" y2="93.37" stroke="#444" stroke-width="0.45" /><line x1="289.5" y1="94.72" x2="290.6" y2="94.72" stroke="#444" stroke-width="0.45" /><line x1="289.5" y1="95.88" x2="290.6" y2="95.88" stroke="#444" stroke-width="0.45" /><line x1="289.5" y1="96.84" x2="290.6" y2="96.84" stroke="#444" stroke-width="0.45" /><line x1="289.5" y1="102.08" x2="290.6" y2="102.08" stroke="#444" stroke-width="0.45" /><line x1="289.5" y1="105.33" x2="290.6" y2="105.33" stroke="#444" stroke-width="0.45" /><line x1="289.5" y1="107.45" x2="290.6" y2="107.45" stroke="#444" stroke-width="0.45" /><line x1="289.5" y1="109.08" x2="290.6" y2="109.08" stroke="#444" stroke-width="0.45" /><line x1="289.5" y1="110.39" x2="290.6" y2="110.39" stroke="#444" stroke-width="0.45" /><line x1="289.5" y1="111.53" x2="290.6" y2="111.53" stroke="#444" stroke-width="0.45" /><line x1="289.5" y1="112.51" x2="290.6" y2="112.51" stroke="#444" stroke-width="0.45" /><line x1="289.5" y1="113.32" x2="290.6" y2="113.32" stroke="#444" stroke-width="0.45" /><line x1="298.8" y1="124" x2="298.8" y2="125.7" stroke="#666" stroke-width="0.7" /><line x1="315.2" y1="124" x2="315.2" y2="125.7" stroke="#666" stroke-width="0.7" /><line x1="335.1" y1="124" x2="335.1" y2="125.7" stroke="#666" stroke-width="0.7" /><line x1="353.6" y1="124" x2="353.6" y2="125.7" stroke="#666" stroke-width="0.7" /><line x1="292.1" y1="124.3" x2="292.1" y2="125.2" stroke="#999" stroke-width="0.5" /><line x1="293.8" y1="124.3" x2="293.8" y2="125.2" stroke="#999" stroke-width="0.5" /><line x1="295.4" y1="124.3" x2="295.4" y2="125.2" stroke="#999" stroke-width="0.5" /><line x1="303.72" y1="124.3" x2="303.72" y2="125.2" stroke="#999" stroke-width="0.5" /><line x1="306.67" y1="124.3" x2="306.67" y2="125.2" stroke="#999" stroke-width="0.5" /><line x1="308.64" y1="124.3" x2="308.64" y2="125.2" stroke="#999" stroke-width="0.5" /><line x1="310.28" y1="124.3" x2="310.28" y2="125.2" stroke="#999" stroke-width="0.5" /><line x1="311.59" y1="124.3" x2="311.59" y2="125.2" stroke="#999" stroke-width="0.5" /><line x1="312.74" y1="124.3" x2="312.74" y2="125.2" stroke="#999" stroke-width="0.5" /><line x1="313.56" y1="124.3" x2="313.56" y2="125.2" stroke="#999" stroke-width="0.5" /><line x1="314.38" y1="124.3" x2="314.38" y2="125.2" stroke="#999" stroke-width="0.5" /><line x1="321.17" y1="124.3" x2="321.17" y2="125.2" stroke="#999" stroke-width="0.5" /><line x1="324.75" y1="124.3" x2="324.75" y2="125.2" stroke="#999" stroke-width="0.5" /><line x1="327.14" y1="124.3" x2="327.14" y2="125.2" stroke="#999" stroke-width="0.5" /><line x1="329.13" y1="124.3" x2="329.13" y2="125.2" stroke="#999" stroke-width="0.5" /><line x1="330.72" y1="124.3" x2="330.72" y2="125.2" stroke="#999" stroke-width="0.5" /><line x1="332.12" y1="124.3" x2="332.12" y2="125.2" stroke="#999" stroke-width="0.5" /><line x1="333.11" y1="124.3" x2="333.11" y2="125.2" stroke="#999" stroke-width="0.5" /><line x1="334.11" y1="124.3" x2="334.11" y2="125.2" stroke="#999" stroke-width="0.5" /><line x1="340.65" y1="124.3" x2="340.65" y2="125.2" stroke="#999" stroke-width="0.5" /><line x1="343.98" y1="124.3" x2="343.98" y2="125.2" stroke="#999" stroke-width="0.5" /><line x1="346.2" y1="124.3" x2="346.2" y2="125.2" stroke="#999" stroke-width="0.5" /><line x1="348.05" y1="124.3" x2="348.05" y2="125.2" stroke="#999" stroke-width="0.5" /><line x1="349.53" y1="124.3" x2="349.53" y2="125.2" stroke="#999" stroke-width="0.5" /><line x1="350.83" y1="124.3" x2="350.83" y2="125.2" stroke="#999" stroke-width="0.5" /><line x1="351.75" y1="124.3" x2="351.75" y2="125.2" stroke="#999" stroke-width="0.5" /><line x1="352.68" y1="124.3" x2="352.68" y2="125.2" stroke="#999" stroke-width="0.5" /><line x1="359.15" y1="124.3" x2="359.15" y2="125.2" stroke="#999" stroke-width="0.5" /><line x1="362.48" y1="124.3" x2="362.48" y2="125.2" stroke="#999" stroke-width="0.5" /><line x1="364.7" y1="124.3" x2="364.7" y2="125.2" stroke="#999" stroke-width="0.5" /><line x1="366.55" y1="124.3" x2="366.55" y2="125.2" stroke="#999" stroke-width="0.5" /><line x1="368.03" y1="124.3" x2="368.03" y2="125.2" stroke="#999" stroke-width="0.5" /><line x1="369.33" y1="124.3" x2="369.33" y2="125.2" stroke="#999" stroke-width="0.5" /><line x1="370.25" y1="124.3" x2="370.25" y2="125.2" stroke="#999" stroke-width="0.5" /><line x1="371.18" y1="124.3" x2="371.18" y2="125.2" stroke="#999" stroke-width="0.5" /><line x1="307.5" y1="123.7" x2="356" y2="123.7" stroke="#666" stroke-width="0.8" /><text x="287.2" y="61.93" font-size="6.2" text-anchor="end" font-weight="bold" fill="#2a2a2a" class="tk">10<tspan font-size="4.22" dy="-3.84">3</tspan></text><text x="287.2" y="80.93" font-size="6.2" text-anchor="end" font-weight="bold" fill="#2a2a2a" class="tk">10<tspan font-size="4.22" dy="-3.84">2</tspan></text><text x="287.2" y="100.23" font-size="6.2" text-anchor="end" font-weight="bold" fill="#2a2a2a" class="tk">10<tspan font-size="4.22" dy="-3.84">1</tspan></text><text x="287.2" y="116.53" font-size="6.2" text-anchor="end" font-weight="bold" fill="#2a2a2a" class="tk">0</text><text x="298.8" y="133.1" font-size="6.2" text-anchor="middle" font-weight="bold" fill="#2a2a2a" class="tk">0</text><text x="316.1" y="133.1" font-size="6.2" text-anchor="middle" font-weight="bold" fill="#2a2a2a" class="tk">10<tspan font-size="4.22" dy="-3.84">1</tspan></text><text x="336" y="133.1" font-size="6.2" text-anchor="middle" font-weight="bold" fill="#2a2a2a" class="tk">10<tspan font-size="4.22" dy="-3.84">2</tspan></text><text x="354.5" y="133.1" font-size="6.2" text-anchor="middle" font-weight="bold" fill="#2a2a2a" class="tk">10<tspan font-size="4.22" dy="-3.84">3</tspan></text><text x="291.9" y="49.05" font-size="7.5" text-anchor="start" font-weight="normal" fill="#1a1a1a" class="pc">2.12</text><text x="371.2" y="49.05" font-size="7.5" text-anchor="end" font-weight="normal" fill="#1a1a1a" class="pc">3.37</text><text x="291.9" y="122.3" font-size="7.5" text-anchor="start" font-weight="normal" fill="#1a1a1a" class="pc">46.2</text><text x="371.2" y="122.3" font-size="7.5" text-anchor="end" font-weight="normal" fill="#1a1a1a" class="pc">48.3</text><line x1="181.5" y1="149" x2="262.9" y2="149" stroke="#aaa" stroke-width="0.8" /><line x1="211.2" y1="149" x2="211.2" y2="231" stroke="#6e6e6e" stroke-width="1" /><line x1="181.5" y1="187.5" x2="262.9" y2="187.5" stroke="#6e6e6e" stroke-width="1" /><line x1="181.5" y1="149" x2="181.5" y2="231.8" stroke="#444" stroke-width="1" /><line x1="179.5" y1="167" x2="181.5" y2="167" stroke="#444" stroke-width="0.8" /><line x1="179.5" y1="186" x2="181.5" y2="186" stroke="#444" stroke-width="0.8" /><line x1="179.5" y1="205.3" x2="181.5" y2="205.3" stroke="#444" stroke-width="0.8" /><line x1="179.5" y1="221.6" x2="181.5" y2="221.6" stroke="#444" stroke-width="0.8" /><line x1="180.4" y1="171.75" x2="181.5" y2="171.75" stroke="#444" stroke-width="0.45" /><line x1="180.4" y1="175.55" x2="181.5" y2="175.55" stroke="#444" stroke-width="0.45" /><line x1="180.4" y1="178.02" x2="181.5" y2="178.02" stroke="#444" stroke-width="0.45" /><line x1="180.4" y1="179.92" x2="181.5" y2="179.92" stroke="#444" stroke-width="0.45" /><line x1="180.4" y1="181.44" x2="181.5" y2="181.44" stroke="#444" stroke-width="0.45" /><line x1="180.4" y1="182.77" x2="181.5" y2="182.77" stroke="#444" stroke-width="0.45" /><line x1="180.4" y1="183.91" x2="181.5" y2="183.91" stroke="#444" stroke-width="0.45" /><line x1="180.4" y1="184.86" x2="181.5" y2="184.86" stroke="#444" stroke-width="0.45" /><line x1="180.4" y1="190.82" x2="181.5" y2="190.82" stroke="#444" stroke-width="0.45" /><line x1="180.4" y1="194.69" x2="181.5" y2="194.69" stroke="#444" stroke-width="0.45" /><line x1="180.4" y1="197.19" x2="181.5" y2="197.19" stroke="#444" stroke-width="0.45" /><line x1="180.4" y1="199.12" x2="181.5" y2="199.12" stroke="#444" stroke-width="0.45" /><line x1="180.4" y1="200.67" x2="181.5" y2="200.67" stroke="#444" stroke-width="0.45" /><line x1="180.4" y1="202.02" x2="181.5" y2="202.02" stroke="#444" stroke-width="0.45" /><line x1="180.4" y1="203.18" x2="181.5" y2="203.18" stroke="#444" stroke-width="0.45" /><line x1="180.4" y1="204.14" x2="181.5" y2="204.14" stroke="#444" stroke-width="0.45" /><line x1="180.4" y1="209.38" x2="181.5" y2="209.38" stroke="#444" stroke-width="0.45" /><line x1="180.4" y1="212.63" x2="181.5" y2="212.63" stroke="#444" stroke-width="0.45" /><line x1="180.4" y1="214.75" x2="181.5" y2="214.75" stroke="#444" stroke-width="0.45" /><line x1="180.4" y1="216.38" x2="181.5" y2="216.38" stroke="#444" stroke-width="0.45" /><line x1="180.4" y1="217.69" x2="181.5" y2="217.69" stroke="#444" stroke-width="0.45" /><line x1="180.4" y1="218.83" x2="181.5" y2="218.83" stroke="#444" stroke-width="0.45" /><line x1="180.4" y1="219.81" x2="181.5" y2="219.81" stroke="#444" stroke-width="0.45" /><line x1="180.4" y1="220.62" x2="181.5" y2="220.62" stroke="#444" stroke-width="0.45" /><line x1="189.7" y1="231.3" x2="189.7" y2="233" stroke="#666" stroke-width="0.7" /><line x1="206.1" y1="231.3" x2="206.1" y2="233" stroke="#666" stroke-width="0.7" /><line x1="226" y1="231.3" x2="226" y2="233" stroke="#666" stroke-width="0.7" /><line x1="244.5" y1="231.3" x2="244.5" y2="233" stroke="#666" stroke-width="0.7" /><line x1="183" y1="231.6" x2="183" y2="232.5" stroke="#999" stroke-width="0.5" /><line x1="184.7" y1="231.6" x2="184.7" y2="232.5" stroke="#999" stroke-width="0.5" /><line x1="186.3" y1="231.6" x2="186.3" y2="232.5" stroke="#999" stroke-width="0.5" /><line x1="194.62" y1="231.6" x2="194.62" y2="232.5" stroke="#999" stroke-width="0.5" /><line x1="197.57" y1="231.6" x2="197.57" y2="232.5" stroke="#999" stroke-width="0.5" /><line x1="199.54" y1="231.6" x2="199.54" y2="232.5" stroke="#999" stroke-width="0.5" /><line x1="201.18" y1="231.6" x2="201.18" y2="232.5" stroke="#999" stroke-width="0.5" /><line x1="202.49" y1="231.6" x2="202.49" y2="232.5" stroke="#999" stroke-width="0.5" /><line x1="203.64" y1="231.6" x2="203.64" y2="232.5" stroke="#999" stroke-width="0.5" /><line x1="204.46" y1="231.6" x2="204.46" y2="232.5" stroke="#999" stroke-width="0.5" /><line x1="205.28" y1="231.6" x2="205.28" y2="232.5" stroke="#999" stroke-width="0.5" /><line x1="212.07" y1="231.6" x2="212.07" y2="232.5" stroke="#999" stroke-width="0.5" /><line x1="215.65" y1="231.6" x2="215.65" y2="232.5" stroke="#999" stroke-width="0.5" /><line x1="218.04" y1="231.6" x2="218.04" y2="232.5" stroke="#999" stroke-width="0.5" /><line x1="220.03" y1="231.6" x2="220.03" y2="232.5" stroke="#999" stroke-width="0.5" /><line x1="221.62" y1="231.6" x2="221.62" y2="232.5" stroke="#999" stroke-width="0.5" /><line x1="223.01" y1="231.6" x2="223.01" y2="232.5" stroke="#999" stroke-width="0.5" /><line x1="224.01" y1="231.6" x2="224.01" y2="232.5" stroke="#999" stroke-width="0.5" /><line x1="225" y1="231.6" x2="225" y2="232.5" stroke="#999" stroke-width="0.5" /><line x1="231.55" y1="231.6" x2="231.55" y2="232.5" stroke="#999" stroke-width="0.5" /><line x1="234.88" y1="231.6" x2="234.88" y2="232.5" stroke="#999" stroke-width="0.5" /><line x1="237.1" y1="231.6" x2="237.1" y2="232.5" stroke="#999" stroke-width="0.5" /><line x1="238.95" y1="231.6" x2="238.95" y2="232.5" stroke="#999" stroke-width="0.5" /><line x1="240.43" y1="231.6" x2="240.43" y2="232.5" stroke="#999" stroke-width="0.5" /><line x1="241.72" y1="231.6" x2="241.72" y2="232.5" stroke="#999" stroke-width="0.5" /><line x1="242.65" y1="231.6" x2="242.65" y2="232.5" stroke="#999" stroke-width="0.5" /><line x1="243.57" y1="231.6" x2="243.57" y2="232.5" stroke="#999" stroke-width="0.5" /><line x1="250.05" y1="231.6" x2="250.05" y2="232.5" stroke="#999" stroke-width="0.5" /><line x1="253.38" y1="231.6" x2="253.38" y2="232.5" stroke="#999" stroke-width="0.5" /><line x1="255.6" y1="231.6" x2="255.6" y2="232.5" stroke="#999" stroke-width="0.5" /><line x1="257.45" y1="231.6" x2="257.45" y2="232.5" stroke="#999" stroke-width="0.5" /><line x1="258.93" y1="231.6" x2="258.93" y2="232.5" stroke="#999" stroke-width="0.5" /><line x1="260.23" y1="231.6" x2="260.23" y2="232.5" stroke="#999" stroke-width="0.5" /><line x1="261.15" y1="231.6" x2="261.15" y2="232.5" stroke="#999" stroke-width="0.5" /><line x1="262.07" y1="231.6" x2="262.07" y2="232.5" stroke="#999" stroke-width="0.5" /><line x1="188" y1="231" x2="247" y2="231" stroke="#444" stroke-width="0.9" /><text x="178.1" y="169.23" font-size="6.2" text-anchor="end" font-weight="bold" fill="#2a2a2a" class="tk">10<tspan font-size="4.22" dy="-3.84">3</tspan></text><text x="178.1" y="188.23" font-size="6.2" text-anchor="end" font-weight="bold" fill="#2a2a2a" class="tk">10<tspan font-size="4.22" dy="-3.84">2</tspan></text><text x="178.1" y="207.53" font-size="6.2" text-anchor="end" font-weight="bold" fill="#2a2a2a" class="tk">10<tspan font-size="4.22" dy="-3.84">1</tspan></text><text x="178.1" y="223.83" font-size="6.2" text-anchor="end" font-weight="bold" fill="#2a2a2a" class="tk">0</text><text x="189.7" y="240.4" font-size="6.2" text-anchor="middle" font-weight="bold" fill="#2a2a2a" class="tk">0</text><text x="207" y="240.4" font-size="6.2" text-anchor="middle" font-weight="bold" fill="#2a2a2a" class="tk">10<tspan font-size="4.22" dy="-3.84">1</tspan></text><text x="226.9" y="240.4" font-size="6.2" text-anchor="middle" font-weight="bold" fill="#2a2a2a" class="tk">10<tspan font-size="4.22" dy="-3.84">2</tspan></text><text x="245.4" y="240.4" font-size="6.2" text-anchor="middle" font-weight="bold" fill="#2a2a2a" class="tk">10<tspan font-size="4.22" dy="-3.84">3</tspan></text><text x="182.8" y="156.35" font-size="7.5" text-anchor="start" font-weight="normal" fill="#1a1a1a" class="pc">0.0462</text><text x="262.1" y="156.35" font-size="7.5" text-anchor="end" font-weight="normal" fill="#1a1a1a" class="pc">0.0347</text><text x="182.8" y="229.6" font-size="7.5" text-anchor="start" font-weight="normal" fill="#1a1a1a" class="pc">98.7</text><text x="262.1" y="229.6" font-size="7.5" text-anchor="end" font-weight="normal" fill="#1a1a1a" class="pc">1.25</text><line x1="290.6" y1="149" x2="372" y2="149" stroke="#aaa" stroke-width="0.8" /><line x1="320.8" y1="149" x2="320.8" y2="231" stroke="#6e6e6e" stroke-width="1" /><line x1="290.6" y1="187.5" x2="372" y2="187.5" stroke="#6e6e6e" stroke-width="1" /><line x1="290.6" y1="149" x2="290.6" y2="231.8" stroke="#444" stroke-width="1" /><line x1="288.6" y1="167" x2="290.6" y2="167" stroke="#444" stroke-width="0.8" /><line x1="288.6" y1="186" x2="290.6" y2="186" stroke="#444" stroke-width="0.8" /><line x1="288.6" y1="205.3" x2="290.6" y2="205.3" stroke="#444" stroke-width="0.8" /><line x1="288.6" y1="221.6" x2="290.6" y2="221.6" stroke="#444" stroke-width="0.8" /><line x1="289.5" y1="171.75" x2="290.6" y2="171.75" stroke="#444" stroke-width="0.45" /><line x1="289.5" y1="175.55" x2="290.6" y2="175.55" stroke="#444" stroke-width="0.45" /><line x1="289.5" y1="178.02" x2="290.6" y2="178.02" stroke="#444" stroke-width="0.45" /><line x1="289.5" y1="179.92" x2="290.6" y2="179.92" stroke="#444" stroke-width="0.45" /><line x1="289.5" y1="181.44" x2="290.6" y2="181.44" stroke="#444" stroke-width="0.45" /><line x1="289.5" y1="182.77" x2="290.6" y2="182.77" stroke="#444" stroke-width="0.45" /><line x1="289.5" y1="183.91" x2="290.6" y2="183.91" stroke="#444" stroke-width="0.45" /><line x1="289.5" y1="184.86" x2="290.6" y2="184.86" stroke="#444" stroke-width="0.45" /><line x1="289.5" y1="190.82" x2="290.6" y2="190.82" stroke="#444" stroke-width="0.45" /><line x1="289.5" y1="194.69" x2="290.6" y2="194.69" stroke="#444" stroke-width="0.45" /><line x1="289.5" y1="197.19" x2="290.6" y2="197.19" stroke="#444" stroke-width="0.45" /><line x1="289.5" y1="199.12" x2="290.6" y2="199.12" stroke="#444" stroke-width="0.45" /><line x1="289.5" y1="200.67" x2="290.6" y2="200.67" stroke="#444" stroke-width="0.45" /><line x1="289.5" y1="202.02" x2="290.6" y2="202.02" stroke="#444" stroke-width="0.45" /><line x1="289.5" y1="203.18" x2="290.6" y2="203.18" stroke="#444" stroke-width="0.45" /><line x1="289.5" y1="204.14" x2="290.6" y2="204.14" stroke="#444" stroke-width="0.45" /><line x1="289.5" y1="209.38" x2="290.6" y2="209.38" stroke="#444" stroke-width="0.45" /><line x1="289.5" y1="212.63" x2="290.6" y2="212.63" stroke="#444" stroke-width="0.45" /><line x1="289.5" y1="214.75" x2="290.6" y2="214.75" stroke="#444" stroke-width="0.45" /><line x1="289.5" y1="216.38" x2="290.6" y2="216.38" stroke="#444" stroke-width="0.45" /><line x1="289.5" y1="217.69" x2="290.6" y2="217.69" stroke="#444" stroke-width="0.45" /><line x1="289.5" y1="218.83" x2="290.6" y2="218.83" stroke="#444" stroke-width="0.45" /><line x1="289.5" y1="219.81" x2="290.6" y2="219.81" stroke="#444" stroke-width="0.45" /><line x1="289.5" y1="220.62" x2="290.6" y2="220.62" stroke="#444" stroke-width="0.45" /><line x1="298.8" y1="231.3" x2="298.8" y2="233" stroke="#666" stroke-width="0.7" /><line x1="315.2" y1="231.3" x2="315.2" y2="233" stroke="#666" stroke-width="0.7" /><line x1="335.1" y1="231.3" x2="335.1" y2="233" stroke="#666" stroke-width="0.7" /><line x1="353.6" y1="231.3" x2="353.6" y2="233" stroke="#666" stroke-width="0.7" /><line x1="292.1" y1="231.6" x2="292.1" y2="232.5" stroke="#999" stroke-width="0.5" /><line x1="293.8" y1="231.6" x2="293.8" y2="232.5" stroke="#999" stroke-width="0.5" /><line x1="295.4" y1="231.6" x2="295.4" y2="232.5" stroke="#999" stroke-width="0.5" /><line x1="303.72" y1="231.6" x2="303.72" y2="232.5" stroke="#999" stroke-width="0.5" /><line x1="306.67" y1="231.6" x2="306.67" y2="232.5" stroke="#999" stroke-width="0.5" /><line x1="308.64" y1="231.6" x2="308.64" y2="232.5" stroke="#999" stroke-width="0.5" /><line x1="310.28" y1="231.6" x2="310.28" y2="232.5" stroke="#999" stroke-width="0.5" /><line x1="311.59" y1="231.6" x2="311.59" y2="232.5" stroke="#999" stroke-width="0.5" /><line x1="312.74" y1="231.6" x2="312.74" y2="232.5" stroke="#999" stroke-width="0.5" /><line x1="313.56" y1="231.6" x2="313.56" y2="232.5" stroke="#999" stroke-width="0.5" /><line x1="314.38" y1="231.6" x2="314.38" y2="232.5" stroke="#999" stroke-width="0.5" /><line x1="321.17" y1="231.6" x2="321.17" y2="232.5" stroke="#999" stroke-width="0.5" /><line x1="324.75" y1="231.6" x2="324.75" y2="232.5" stroke="#999" stroke-width="0.5" /><line x1="327.14" y1="231.6" x2="327.14" y2="232.5" stroke="#999" stroke-width="0.5" /><line x1="329.13" y1="231.6" x2="329.13" y2="232.5" stroke="#999" stroke-width="0.5" /><line x1="330.72" y1="231.6" x2="330.72" y2="232.5" stroke="#999" stroke-width="0.5" /><line x1="332.12" y1="231.6" x2="332.12" y2="232.5" stroke="#999" stroke-width="0.5" /><line x1="333.11" y1="231.6" x2="333.11" y2="232.5" stroke="#999" stroke-width="0.5" /><line x1="334.11" y1="231.6" x2="334.11" y2="232.5" stroke="#999" stroke-width="0.5" /><line x1="340.65" y1="231.6" x2="340.65" y2="232.5" stroke="#999" stroke-width="0.5" /><line x1="343.98" y1="231.6" x2="343.98" y2="232.5" stroke="#999" stroke-width="0.5" /><line x1="346.2" y1="231.6" x2="346.2" y2="232.5" stroke="#999" stroke-width="0.5" /><line x1="348.05" y1="231.6" x2="348.05" y2="232.5" stroke="#999" stroke-width="0.5" /><line x1="349.53" y1="231.6" x2="349.53" y2="232.5" stroke="#999" stroke-width="0.5" /><line x1="350.83" y1="231.6" x2="350.83" y2="232.5" stroke="#999" stroke-width="0.5" /><line x1="351.75" y1="231.6" x2="351.75" y2="232.5" stroke="#999" stroke-width="0.5" /><line x1="352.68" y1="231.6" x2="352.68" y2="232.5" stroke="#999" stroke-width="0.5" /><line x1="359.15" y1="231.6" x2="359.15" y2="232.5" stroke="#999" stroke-width="0.5" /><line x1="362.48" y1="231.6" x2="362.48" y2="232.5" stroke="#999" stroke-width="0.5" /><line x1="364.7" y1="231.6" x2="364.7" y2="232.5" stroke="#999" stroke-width="0.5" /><line x1="366.55" y1="231.6" x2="366.55" y2="232.5" stroke="#999" stroke-width="0.5" /><line x1="368.03" y1="231.6" x2="368.03" y2="232.5" stroke="#999" stroke-width="0.5" /><line x1="369.33" y1="231.6" x2="369.33" y2="232.5" stroke="#999" stroke-width="0.5" /><line x1="370.25" y1="231.6" x2="370.25" y2="232.5" stroke="#999" stroke-width="0.5" /><line x1="371.18" y1="231.6" x2="371.18" y2="232.5" stroke="#999" stroke-width="0.5" /><line x1="307" y1="231" x2="355" y2="231" stroke="#555" stroke-width="0.9" /><text x="287.2" y="169.23" font-size="6.2" text-anchor="end" font-weight="bold" fill="#2a2a2a" class="tk">10<tspan font-size="4.22" dy="-3.84">3</tspan></text><text x="287.2" y="188.23" font-size="6.2" text-anchor="end" font-weight="bold" fill="#2a2a2a" class="tk">10<tspan font-size="4.22" dy="-3.84">2</tspan></text><text x="287.2" y="207.53" font-size="6.2" text-anchor="end" font-weight="bold" fill="#2a2a2a" class="tk">10<tspan font-size="4.22" dy="-3.84">1</tspan></text><text x="287.2" y="223.83" font-size="6.2" text-anchor="end" font-weight="bold" fill="#2a2a2a" class="tk">0</text><text x="298.8" y="240.4" font-size="6.2" text-anchor="middle" font-weight="bold" fill="#2a2a2a" class="tk">0</text><text x="316.1" y="240.4" font-size="6.2" text-anchor="middle" font-weight="bold" fill="#2a2a2a" class="tk">10<tspan font-size="4.22" dy="-3.84">1</tspan></text><text x="336" y="240.4" font-size="6.2" text-anchor="middle" font-weight="bold" fill="#2a2a2a" class="tk">10<tspan font-size="4.22" dy="-3.84">2</tspan></text><text x="354.5" y="240.4" font-size="6.2" text-anchor="middle" font-weight="bold" fill="#2a2a2a" class="tk">10<tspan font-size="4.22" dy="-3.84">3</tspan></text><text x="291.9" y="156.35" font-size="7.5" text-anchor="start" font-weight="normal" fill="#1a1a1a" class="pc">8.66</text><text x="371.2" y="156.35" font-size="7.5" text-anchor="end" font-weight="normal" fill="#1a1a1a" class="pc">0.778</text><text x="291.9" y="229.6" font-size="7.5" text-anchor="start" font-weight="normal" fill="#1a1a1a" class="pc">79.4</text><text x="371.2" y="229.6" font-size="7.5" text-anchor="end" font-weight="normal" fill="#1a1a1a" class="pc">11.1</text><text x="379" y="86.4" font-size="9.6" fill="#222">CD20<tspan font-size="6.4" dy="-3.6">+</tspan></text><text x="394" y="97.6" font-size="9.6" text-anchor="middle" font-weight="normal" fill="#222" >PBMC</text><text x="379" y="192.4" font-size="9.6" fill="#222">CD20<tspan font-size="6.4" dy="-3.6">+</tspan></text><text x="394.5" y="203.8" font-size="9.6" text-anchor="middle" font-weight="normal" fill="#222" >TIL</text><line x1="87.6" y1="218.2" x2="87.6" y2="155" stroke="#111" stroke-width="1" /><polygon points="87.6,155 90,161 85.2,161" fill="#111"/><line x1="87.1" y1="218.2" x2="150.5" y2="218.2" stroke="#111" stroke-width="1" /><polygon points="150.5,218.2 144.5,220.6 144.5,215.8" fill="#111"/><text x="54.5" y="191" font-size="9.6" text-anchor="start" font-weight="normal" fill="#222" >CD38</text><text x="114.3" y="230.7" font-size="9.6" text-anchor="middle" font-weight="normal" fill="#222" >IgD</text><text x="20.6" y="284.3" font-size="16" text-anchor="start" font-weight="bold" fill="#111" >B</text><text x="69" y="282.5" font-size="10.4" text-anchor="start" font-weight="normal" fill="#222" class="lg">CD27</text><rect x="19" y="289.8" width="146.2" height="133.8" stroke="#333" stroke-width="1.4" fill="none"/><rect x="19" y="430" width="120.8" height="51.4" stroke="#999" stroke-width="0.9" fill="none"/><rect x="24.3" y="435" width="9.2" height="9.2" stroke="#999" stroke-width="1" fill="#fff"/><rect x="24.3" y="452" width="9.2" height="8.6" stroke="#111" stroke-width="1.1" fill="#fff"/><rect x="24.3" y="466.6" width="9.2" height="9" stroke="#222" stroke-width="1.1" fill="#888"/><text x="37" y="443.2" font-size="9.5" text-anchor="start" font-weight="normal" fill="#222" class="lg">Healthy control PBMC</text><text x="37" y="459.4" font-size="9.5" text-anchor="start" font-weight="normal" fill="#222" class="lg">IROC042 PBMC</text><text x="37" y="475" font-size="9.5" text-anchor="start" font-weight="normal" fill="#222" class="lg">IROC042 TIL</text><text x="198.6" y="284.6" font-size="17" text-anchor="start" font-weight="bold" fill="#111" >C</text><text x="225.3" y="325.9" font-size="9.5" text-anchor="middle" font-weight="normal" fill="#222" >Healthy control</text><text x="226" y="336.9" font-size="9.5" fill="#222" text-anchor="middle">CD20<tspan font-size="6" dy="-3.4">−</tspan><tspan dy="3.4"> PBMC</tspan></text><text x="225.7" y="427.2" font-size="9.5" text-anchor="middle" font-weight="normal" fill="#222" >IROC006</text><text x="226" y="438.6" font-size="9.5" fill="#222" text-anchor="middle">CD20<tspan font-size="6" dy="-3.4">−</tspan><tspan dy="3.4"> PBMC</tspan></text><text x="225.7" y="521.6" font-size="9.5" text-anchor="middle" font-weight="normal" fill="#222" >IROC006</text><text x="226" y="533" font-size="9.5" fill="#222" text-anchor="middle">CD20<tspan font-size="6" dy="-3.4">−</tspan><tspan dy="3.4"> TIL</tspan></text><text x="226.7" y="557.4" font-size="9.5" text-anchor="start" font-weight="normal" fill="#222" >CD138</text><text x="290.4" y="597.6" font-size="9.5" text-anchor="middle" font-weight="normal" fill="#222" >CD38</text><text x="382" y="557.2" font-size="9.5" text-anchor="start" font-weight="normal" fill="#222" >CD3</text><text x="438.2" y="597.6" font-size="9.5" text-anchor="middle" font-weight="normal" fill="#222" >CD56</text><line x1="259.6" y1="584.4" x2="259.6" y2="521.5" stroke="#111" stroke-width="1" /><polygon points="259.6,521.5 262,527.5 257.2,527.5" fill="#111"/><line x1="259.1" y1="584.4" x2="323" y2="584.4" stroke="#111" stroke-width="1" /><polygon points="323,584.4 317,586.8 317,582" fill="#111"/><line x1="407.9" y1="584.6" x2="407.9" y2="522" stroke="#111" stroke-width="1" /><polygon points="407.9,522 410.3,528 405.5,528" fill="#111"/><line x1="407.4" y1="584.6" x2="471" y2="584.6" stroke="#111" stroke-width="1" /><polygon points="471,584.6 465,587 465,582.2" fill="#111"/><line x1="276.4" y1="296.3" x2="351.5" y2="296.3" stroke="#aaa" stroke-width="0.8" /><line x1="351.5" y1="296.3" x2="351.5" y2="370.8" stroke="#999" stroke-width="0.8" /><line x1="312" y1="296.3" x2="312" y2="370.8" stroke="#6e6e6e" stroke-width="1" /><line x1="276.4" y1="334.6" x2="351.5" y2="334.6" stroke="#6e6e6e" stroke-width="1" /><line x1="276.4" y1="296.3" x2="276.4" y2="371.6" stroke="#444" stroke-width="1" /><line x1="274.4" y1="313.58" x2="276.4" y2="313.58" stroke="#444" stroke-width="0.8" /><line x1="274.4" y1="329.82" x2="276.4" y2="329.82" stroke="#444" stroke-width="0.8" /><line x1="274.4" y1="347.7" x2="276.4" y2="347.7" stroke="#444" stroke-width="0.8" /><line x1="274.4" y1="363.35" x2="276.4" y2="363.35" stroke="#444" stroke-width="0.8" /><line x1="275.3" y1="317.64" x2="276.4" y2="317.64" stroke="#444" stroke-width="0.45" /><line x1="275.3" y1="320.89" x2="276.4" y2="320.89" stroke="#444" stroke-width="0.45" /><line x1="275.3" y1="323" x2="276.4" y2="323" stroke="#444" stroke-width="0.45" /><line x1="275.3" y1="324.63" x2="276.4" y2="324.63" stroke="#444" stroke-width="0.45" /><line x1="275.3" y1="325.93" x2="276.4" y2="325.93" stroke="#444" stroke-width="0.45" /><line x1="275.3" y1="327.06" x2="276.4" y2="327.06" stroke="#444" stroke-width="0.45" /><line x1="275.3" y1="328.04" x2="276.4" y2="328.04" stroke="#444" stroke-width="0.45" /><line x1="275.3" y1="328.85" x2="276.4" y2="328.85" stroke="#444" stroke-width="0.45" /><line x1="275.3" y1="334.29" x2="276.4" y2="334.29" stroke="#444" stroke-width="0.45" /><line x1="275.3" y1="337.87" x2="276.4" y2="337.87" stroke="#444" stroke-width="0.45" /><line x1="275.3" y1="340.2" x2="276.4" y2="340.2" stroke="#444" stroke-width="0.45" /><line x1="275.3" y1="341.98" x2="276.4" y2="341.98" stroke="#444" stroke-width="0.45" /><line x1="275.3" y1="343.41" x2="276.4" y2="343.41" stroke="#444" stroke-width="0.45" /><line x1="275.3" y1="344.67" x2="276.4" y2="344.67" stroke="#444" stroke-width="0.45" /><line x1="275.3" y1="345.74" x2="276.4" y2="345.74" stroke="#444" stroke-width="0.45" /><line x1="275.3" y1="346.63" x2="276.4" y2="346.63" stroke="#444" stroke-width="0.45" /><line x1="275.3" y1="351.62" x2="276.4" y2="351.62" stroke="#444" stroke-width="0.45" /><line x1="275.3" y1="354.75" x2="276.4" y2="354.75" stroke="#444" stroke-width="0.45" /><line x1="275.3" y1="356.78" x2="276.4" y2="356.78" stroke="#444" stroke-width="0.45" /><line x1="275.3" y1="358.34" x2="276.4" y2="358.34" stroke="#444" stroke-width="0.45" /><line x1="275.3" y1="359.6" x2="276.4" y2="359.6" stroke="#444" stroke-width="0.45" /><line x1="275.3" y1="360.69" x2="276.4" y2="360.69" stroke="#444" stroke-width="0.45" /><line x1="275.3" y1="361.63" x2="276.4" y2="361.63" stroke="#444" stroke-width="0.45" /><line x1="275.3" y1="362.41" x2="276.4" y2="362.41" stroke="#444" stroke-width="0.45" /><line x1="284.4" y1="371.1" x2="284.4" y2="372.8" stroke="#666" stroke-width="0.7" /><line x1="300" y1="371.1" x2="300" y2="372.8" stroke="#666" stroke-width="0.7" /><line x1="317.7" y1="371.1" x2="317.7" y2="372.8" stroke="#666" stroke-width="0.7" /><line x1="334.2" y1="371.1" x2="334.2" y2="372.8" stroke="#666" stroke-width="0.7" /><line x1="277.9" y1="371.4" x2="277.9" y2="372.3" stroke="#999" stroke-width="0.5" /><line x1="279.6" y1="371.4" x2="279.6" y2="372.3" stroke="#999" stroke-width="0.5" /><line x1="281.2" y1="371.4" x2="281.2" y2="372.3" stroke="#999" stroke-width="0.5" /><line x1="289.08" y1="371.4" x2="289.08" y2="372.3" stroke="#999" stroke-width="0.5" /><line x1="291.89" y1="371.4" x2="291.89" y2="372.3" stroke="#999" stroke-width="0.5" /><line x1="293.76" y1="371.4" x2="293.76" y2="372.3" stroke="#999" stroke-width="0.5" /><line x1="295.32" y1="371.4" x2="295.32" y2="372.3" stroke="#999" stroke-width="0.5" /><line x1="296.57" y1="371.4" x2="296.57" y2="372.3" stroke="#999" stroke-width="0.5" /><line x1="297.66" y1="371.4" x2="297.66" y2="372.3" stroke="#999" stroke-width="0.5" /><line x1="298.44" y1="371.4" x2="298.44" y2="372.3" stroke="#999" stroke-width="0.5" /><line x1="299.22" y1="371.4" x2="299.22" y2="372.3" stroke="#999" stroke-width="0.5" /><line x1="305.31" y1="371.4" x2="305.31" y2="372.3" stroke="#999" stroke-width="0.5" /><line x1="308.5" y1="371.4" x2="308.5" y2="372.3" stroke="#999" stroke-width="0.5" /><line x1="310.62" y1="371.4" x2="310.62" y2="372.3" stroke="#999" stroke-width="0.5" /><line x1="312.39" y1="371.4" x2="312.39" y2="372.3" stroke="#999" stroke-width="0.5" /><line x1="313.81" y1="371.4" x2="313.81" y2="372.3" stroke="#999" stroke-width="0.5" /><line x1="315.05" y1="371.4" x2="315.05" y2="372.3" stroke="#999" stroke-width="0.5" /><line x1="315.93" y1="371.4" x2="315.93" y2="372.3" stroke="#999" stroke-width="0.5" /><line x1="316.81" y1="371.4" x2="316.81" y2="372.3" stroke="#999" stroke-width="0.5" /><line x1="322.65" y1="371.4" x2="322.65" y2="372.3" stroke="#999" stroke-width="0.5" /><line x1="325.62" y1="371.4" x2="325.62" y2="372.3" stroke="#999" stroke-width="0.5" /><line x1="327.6" y1="371.4" x2="327.6" y2="372.3" stroke="#999" stroke-width="0.5" /><line x1="329.25" y1="371.4" x2="329.25" y2="372.3" stroke="#999" stroke-width="0.5" /><line x1="330.57" y1="371.4" x2="330.57" y2="372.3" stroke="#999" stroke-width="0.5" /><line x1="331.72" y1="371.4" x2="331.72" y2="372.3" stroke="#999" stroke-width="0.5" /><line x1="332.55" y1="371.4" x2="332.55" y2="372.3" stroke="#999" stroke-width="0.5" /><line x1="333.38" y1="371.4" x2="333.38" y2="372.3" stroke="#999" stroke-width="0.5" /><line x1="339.15" y1="371.4" x2="339.15" y2="372.3" stroke="#999" stroke-width="0.5" /><line x1="342.12" y1="371.4" x2="342.12" y2="372.3" stroke="#999" stroke-width="0.5" /><line x1="344.1" y1="371.4" x2="344.1" y2="372.3" stroke="#999" stroke-width="0.5" /><line x1="345.75" y1="371.4" x2="345.75" y2="372.3" stroke="#999" stroke-width="0.5" /><line x1="347.07" y1="371.4" x2="347.07" y2="372.3" stroke="#999" stroke-width="0.5" /><line x1="348.22" y1="371.4" x2="348.22" y2="372.3" stroke="#999" stroke-width="0.5" /><line x1="349.05" y1="371.4" x2="349.05" y2="372.3" stroke="#999" stroke-width="0.5" /><line x1="349.88" y1="371.4" x2="349.88" y2="372.3" stroke="#999" stroke-width="0.5" /><text x="273.2" y="315.6" font-size="5.6" text-anchor="end" font-weight="bold" fill="#2a2a2a" class="tk">10<tspan font-size="3.81" dy="-3.47">3</tspan></text><text x="273.2" y="331.84" font-size="5.6" text-anchor="end" font-weight="bold" fill="#2a2a2a" class="tk">10<tspan font-size="3.81" dy="-3.47">2</tspan></text><text x="273.2" y="349.72" font-size="5.6" text-anchor="end" font-weight="bold" fill="#2a2a2a" class="tk">10<tspan font-size="3.81" dy="-3.47">1</tspan></text><text x="273.2" y="365.37" font-size="5.6" text-anchor="end" font-weight="bold" fill="#2a2a2a" class="tk">0</text><text x="284.4" y="379.2" font-size="5.6" text-anchor="middle" font-weight="bold" fill="#2a2a2a" class="tk">0</text><text x="300.9" y="379.2" font-size="5.6" text-anchor="middle" font-weight="bold" fill="#2a2a2a" class="tk">10<tspan font-size="3.81" dy="-3.47">1</tspan></text><text x="318.6" y="379.2" font-size="5.6" text-anchor="middle" font-weight="bold" fill="#2a2a2a" class="tk">10<tspan font-size="3.81" dy="-3.47">2</tspan></text><text x="335.1" y="379.2" font-size="5.6" text-anchor="middle" font-weight="bold" fill="#2a2a2a" class="tk">10<tspan font-size="3.81" dy="-3.47">3</tspan></text><text x="277.7" y="304.07" font-size="6.6" text-anchor="start" font-weight="normal" fill="#1a1a1a" class="pc">0.513</text><text x="350.7" y="304.07" font-size="6.6" text-anchor="end" font-weight="normal" fill="#1a1a1a" class="pc">0.0667</text><text x="277.7" y="369.4" font-size="6.6" text-anchor="start" font-weight="normal" fill="#1a1a1a" class="pc">83.9</text><text x="350.7" y="369.4" font-size="6.6" text-anchor="end" font-weight="normal" fill="#1a1a1a" class="pc">15.5</text><rect x="312" y="311.7" width="39.5" height="59.1" fill="none" stroke="#111" stroke-width="1.3"/><line x1="276.4" y1="395.8" x2="351.5" y2="395.8" stroke="#aaa" stroke-width="0.8" /><line x1="351.5" y1="395.8" x2="351.5" y2="469.4" stroke="#999" stroke-width="0.8" /><line x1="311.7" y1="395.8" x2="311.7" y2="469.4" stroke="#6e6e6e" stroke-width="1" /><line x1="276.4" y1="434.2" x2="351.5" y2="434.2" stroke="#6e6e6e" stroke-width="1" /><line x1="276.4" y1="395.8" x2="276.4" y2="470.2" stroke="#444" stroke-width="1" /><line x1="274.4" y1="412.88" x2="276.4" y2="412.88" stroke="#444" stroke-width="0.8" /><line x1="274.4" y1="428.92" x2="276.4" y2="428.92" stroke="#444" stroke-width="0.8" /><line x1="274.4" y1="446.58" x2="276.4" y2="446.58" stroke="#444" stroke-width="0.8" /><line x1="274.4" y1="462.04" x2="276.4" y2="462.04" stroke="#444" stroke-width="0.8" /><line x1="275.3" y1="416.89" x2="276.4" y2="416.89" stroke="#444" stroke-width="0.45" /><line x1="275.3" y1="420.1" x2="276.4" y2="420.1" stroke="#444" stroke-width="0.45" /><line x1="275.3" y1="422.18" x2="276.4" y2="422.18" stroke="#444" stroke-width="0.45" /><line x1="275.3" y1="423.79" x2="276.4" y2="423.79" stroke="#444" stroke-width="0.45" /><line x1="275.3" y1="425.07" x2="276.4" y2="425.07" stroke="#444" stroke-width="0.45" /><line x1="275.3" y1="426.19" x2="276.4" y2="426.19" stroke="#444" stroke-width="0.45" /><line x1="275.3" y1="427.16" x2="276.4" y2="427.16" stroke="#444" stroke-width="0.45" /><line x1="275.3" y1="427.96" x2="276.4" y2="427.96" stroke="#444" stroke-width="0.45" /><line x1="275.3" y1="433.34" x2="276.4" y2="433.34" stroke="#444" stroke-width="0.45" /><line x1="275.3" y1="436.87" x2="276.4" y2="436.87" stroke="#444" stroke-width="0.45" /><line x1="275.3" y1="439.17" x2="276.4" y2="439.17" stroke="#444" stroke-width="0.45" /><line x1="275.3" y1="440.93" x2="276.4" y2="440.93" stroke="#444" stroke-width="0.45" /><line x1="275.3" y1="442.34" x2="276.4" y2="442.34" stroke="#444" stroke-width="0.45" /><line x1="275.3" y1="443.58" x2="276.4" y2="443.58" stroke="#444" stroke-width="0.45" /><line x1="275.3" y1="444.64" x2="276.4" y2="444.64" stroke="#444" stroke-width="0.45" /><line x1="275.3" y1="445.52" x2="276.4" y2="445.52" stroke="#444" stroke-width="0.45" /><line x1="275.3" y1="450.45" x2="276.4" y2="450.45" stroke="#444" stroke-width="0.45" /><line x1="275.3" y1="453.54" x2="276.4" y2="453.54" stroke="#444" stroke-width="0.45" /><line x1="275.3" y1="455.55" x2="276.4" y2="455.55" stroke="#444" stroke-width="0.45" /><line x1="275.3" y1="457.09" x2="276.4" y2="457.09" stroke="#444" stroke-width="0.45" /><line x1="275.3" y1="458.33" x2="276.4" y2="458.33" stroke="#444" stroke-width="0.45" /><line x1="275.3" y1="459.41" x2="276.4" y2="459.41" stroke="#444" stroke-width="0.45" /><line x1="275.3" y1="460.34" x2="276.4" y2="460.34" stroke="#444" stroke-width="0.45" /><line x1="275.3" y1="461.11" x2="276.4" y2="461.11" stroke="#444" stroke-width="0.45" /><line x1="284.4" y1="469.7" x2="284.4" y2="471.4" stroke="#666" stroke-width="0.7" /><line x1="300" y1="469.7" x2="300" y2="471.4" stroke="#666" stroke-width="0.7" /><line x1="317.7" y1="469.7" x2="317.7" y2="471.4" stroke="#666" stroke-width="0.7" /><line x1="334.2" y1="469.7" x2="334.2" y2="471.4" stroke="#666" stroke-width="0.7" /><line x1="277.9" y1="470" x2="277.9" y2="470.9" stroke="#999" stroke-width="0.5" /><line x1="279.6" y1="470" x2="279.6" y2="470.9" stroke="#999" stroke-width="0.5" /><line x1="281.2" y1="470" x2="281.2" y2="470.9" stroke="#999" stroke-width="0.5" /><line x1="289.08" y1="470" x2="289.08" y2="470.9" stroke="#999" stroke-width="0.5" /><line x1="291.89" y1="470" x2="291.89" y2="470.9" stroke="#999" stroke-width="0.5" /><line x1="293.76" y1="470" x2="293.76" y2="470.9" stroke="#999" stroke-width="0.5" /><line x1="295.32" y1="470" x2="295.32" y2="470.9" stroke="#999" stroke-width="0.5" /><line x1="296.57" y1="470" x2="296.57" y2="470.9" stroke="#999" stroke-width="0.5" /><line x1="297.66" y1="470" x2="297.66" y2="470.9" stroke="#999" stroke-width="0.5" /><line x1="298.44" y1="470" x2="298.44" y2="470.9" stroke="#999" stroke-width="0.5" /><line x1="299.22" y1="470" x2="299.22" y2="470.9" stroke="#999" stroke-width="0.5" /><line x1="305.31" y1="470" x2="305.31" y2="470.9" stroke="#999" stroke-width="0.5" /><line x1="308.5" y1="470" x2="308.5" y2="470.9" stroke="#999" stroke-width="0.5" /><line x1="310.62" y1="470" x2="310.62" y2="470.9" stroke="#999" stroke-width="0.5" /><line x1="312.39" y1="470" x2="312.39" y2="470.9" stroke="#999" stroke-width="0.5" /><line x1="313.81" y1="470" x2="313.81" y2="470.9" stroke="#999" stroke-width="0.5" /><line x1="315.05" y1="470" x2="315.05" y2="470.9" stroke="#999" stroke-width="0.5" /><line x1="315.93" y1="470" x2="315.93" y2="470.9" stroke="#999" stroke-width="0.5" /><line x1="316.81" y1="470" x2="316.81" y2="470.9" stroke="#999" stroke-width="0.5" /><line x1="322.65" y1="470" x2="322.65" y2="470.9" stroke="#999" stroke-width="0.5" /><line x1="325.62" y1="470" x2="325.62" y2="470.9" stroke="#999" stroke-width="0.5" /><line x1="327.6" y1="470" x2="327.6" y2="470.9" stroke="#999" stroke-width="0.5" /><line x1="329.25" y1="470" x2="329.25" y2="470.9" stroke="#999" stroke-width="0.5" /><line x1="330.57" y1="470" x2="330.57" y2="470.9" stroke="#999" stroke-width="0.5" /><line x1="331.72" y1="470" x2="331.72" y2="470.9" stroke="#999" stroke-width="0.5" /><line x1="332.55" y1="470" x2="332.55" y2="470.9" stroke="#999" stroke-width="0.5" /><line x1="333.38" y1="470" x2="333.38" y2="470.9" stroke="#999" stroke-width="0.5" /><line x1="339.15" y1="470" x2="339.15" y2="470.9" stroke="#999" stroke-width="0.5" /><line x1="342.12" y1="470" x2="342.12" y2="470.9" stroke="#999" stroke-width="0.5" /><line x1="344.1" y1="470" x2="344.1" y2="470.9" stroke="#999" stroke-width="0.5" /><line x1="345.75" y1="470" x2="345.75" y2="470.9" stroke="#999" stroke-width="0.5" /><line x1="347.07" y1="470" x2="347.07" y2="470.9" stroke="#999" stroke-width="0.5" /><line x1="348.22" y1="470" x2="348.22" y2="470.9" stroke="#999" stroke-width="0.5" /><line x1="349.05" y1="470" x2="349.05" y2="470.9" stroke="#999" stroke-width="0.5" /><line x1="349.88" y1="470" x2="349.88" y2="470.9" stroke="#999" stroke-width="0.5" /><text x="273.2" y="414.89" font-size="5.6" text-anchor="end" font-weight="bold" fill="#2a2a2a" class="tk">10<tspan font-size="3.81" dy="-3.47">3</tspan></text><text x="273.2" y="430.94" font-size="5.6" text-anchor="end" font-weight="bold" fill="#2a2a2a" class="tk">10<tspan font-size="3.81" dy="-3.47">2</tspan></text><text x="273.2" y="448.6" font-size="5.6" text-anchor="end" font-weight="bold" fill="#2a2a2a" class="tk">10<tspan font-size="3.81" dy="-3.47">1</tspan></text><text x="273.2" y="464.06" font-size="5.6" text-anchor="end" font-weight="bold" fill="#2a2a2a" class="tk">0</text><text x="284.4" y="477.8" font-size="5.6" text-anchor="middle" font-weight="bold" fill="#2a2a2a" class="tk">0</text><text x="300.9" y="477.8" font-size="5.6" text-anchor="middle" font-weight="bold" fill="#2a2a2a" class="tk">10<tspan font-size="3.81" dy="-3.47">1</tspan></text><text x="318.6" y="477.8" font-size="5.6" text-anchor="middle" font-weight="bold" fill="#2a2a2a" class="tk">10<tspan font-size="3.81" dy="-3.47">2</tspan></text><text x="335.1" y="477.8" font-size="5.6" text-anchor="middle" font-weight="bold" fill="#2a2a2a" class="tk">10<tspan font-size="3.81" dy="-3.47">3</tspan></text><text x="277.7" y="403.57" font-size="6.6" text-anchor="start" font-weight="normal" fill="#1a1a1a" class="pc">7.25</text><text x="350.7" y="403.57" font-size="6.6" text-anchor="end" font-weight="normal" fill="#1a1a1a" class="pc">0.631</text><text x="277.7" y="468" font-size="6.6" text-anchor="start" font-weight="normal" fill="#1a1a1a" class="pc">75.1</text><text x="350.7" y="468" font-size="6.6" text-anchor="end" font-weight="normal" fill="#1a1a1a" class="pc">17.1</text><rect x="311.7" y="409.2" width="39.8" height="60.2" fill="none" stroke="#111" stroke-width="1.3"/><line x1="276.4" y1="494.8" x2="351.5" y2="494.8" stroke="#aaa" stroke-width="0.8" /><line x1="351.5" y1="494.8" x2="351.5" y2="569.2" stroke="#999" stroke-width="0.8" /><line x1="312" y1="494.8" x2="312" y2="569.2" stroke="#6e6e6e" stroke-width="1" /><line x1="276.4" y1="533.3" x2="351.5" y2="533.3" stroke="#6e6e6e" stroke-width="1" /><line x1="276.4" y1="494.8" x2="276.4" y2="570" stroke="#444" stroke-width="1" /><line x1="274.4" y1="512.06" x2="276.4" y2="512.06" stroke="#444" stroke-width="0.8" /><line x1="274.4" y1="528.28" x2="276.4" y2="528.28" stroke="#444" stroke-width="0.8" /><line x1="274.4" y1="546.14" x2="276.4" y2="546.14" stroke="#444" stroke-width="0.8" /><line x1="274.4" y1="561.76" x2="276.4" y2="561.76" stroke="#444" stroke-width="0.8" /><line x1="275.3" y1="516.12" x2="276.4" y2="516.12" stroke="#444" stroke-width="0.45" /><line x1="275.3" y1="519.36" x2="276.4" y2="519.36" stroke="#444" stroke-width="0.45" /><line x1="275.3" y1="521.47" x2="276.4" y2="521.47" stroke="#444" stroke-width="0.45" /><line x1="275.3" y1="523.09" x2="276.4" y2="523.09" stroke="#444" stroke-width="0.45" /><line x1="275.3" y1="524.39" x2="276.4" y2="524.39" stroke="#444" stroke-width="0.45" /><line x1="275.3" y1="525.52" x2="276.4" y2="525.52" stroke="#444" stroke-width="0.45" /><line x1="275.3" y1="526.5" x2="276.4" y2="526.5" stroke="#444" stroke-width="0.45" /><line x1="275.3" y1="527.31" x2="276.4" y2="527.31" stroke="#444" stroke-width="0.45" /><line x1="275.3" y1="532.74" x2="276.4" y2="532.74" stroke="#444" stroke-width="0.45" /><line x1="275.3" y1="536.32" x2="276.4" y2="536.32" stroke="#444" stroke-width="0.45" /><line x1="275.3" y1="538.64" x2="276.4" y2="538.64" stroke="#444" stroke-width="0.45" /><line x1="275.3" y1="540.42" x2="276.4" y2="540.42" stroke="#444" stroke-width="0.45" /><line x1="275.3" y1="541.85" x2="276.4" y2="541.85" stroke="#444" stroke-width="0.45" /><line x1="275.3" y1="543.1" x2="276.4" y2="543.1" stroke="#444" stroke-width="0.45" /><line x1="275.3" y1="544.17" x2="276.4" y2="544.17" stroke="#444" stroke-width="0.45" /><line x1="275.3" y1="545.06" x2="276.4" y2="545.06" stroke="#444" stroke-width="0.45" /><line x1="275.3" y1="550.04" x2="276.4" y2="550.04" stroke="#444" stroke-width="0.45" /><line x1="275.3" y1="553.17" x2="276.4" y2="553.17" stroke="#444" stroke-width="0.45" /><line x1="275.3" y1="555.2" x2="276.4" y2="555.2" stroke="#444" stroke-width="0.45" /><line x1="275.3" y1="556.76" x2="276.4" y2="556.76" stroke="#444" stroke-width="0.45" /><line x1="275.3" y1="558.01" x2="276.4" y2="558.01" stroke="#444" stroke-width="0.45" /><line x1="275.3" y1="559.1" x2="276.4" y2="559.1" stroke="#444" stroke-width="0.45" /><line x1="275.3" y1="560.04" x2="276.4" y2="560.04" stroke="#444" stroke-width="0.45" /><line x1="275.3" y1="560.82" x2="276.4" y2="560.82" stroke="#444" stroke-width="0.45" /><line x1="284.4" y1="569.5" x2="284.4" y2="571.2" stroke="#666" stroke-width="0.7" /><line x1="300" y1="569.5" x2="300" y2="571.2" stroke="#666" stroke-width="0.7" /><line x1="317.7" y1="569.5" x2="317.7" y2="571.2" stroke="#666" stroke-width="0.7" /><line x1="334.2" y1="569.5" x2="334.2" y2="571.2" stroke="#666" stroke-width="0.7" /><line x1="277.9" y1="569.8" x2="277.9" y2="570.7" stroke="#999" stroke-width="0.5" /><line x1="279.6" y1="569.8" x2="279.6" y2="570.7" stroke="#999" stroke-width="0.5" /><line x1="281.2" y1="569.8" x2="281.2" y2="570.7" stroke="#999" stroke-width="0.5" /><line x1="289.08" y1="569.8" x2="289.08" y2="570.7" stroke="#999" stroke-width="0.5" /><line x1="291.89" y1="569.8" x2="291.89" y2="570.7" stroke="#999" stroke-width="0.5" /><line x1="293.76" y1="569.8" x2="293.76" y2="570.7" stroke="#999" stroke-width="0.5" /><line x1="295.32" y1="569.8" x2="295.32" y2="570.7" stroke="#999" stroke-width="0.5" /><line x1="296.57" y1="569.8" x2="296.57" y2="570.7" stroke="#999" stroke-width="0.5" /><line x1="297.66" y1="569.8" x2="297.66" y2="570.7" stroke="#999" stroke-width="0.5" /><line x1="298.44" y1="569.8" x2="298.44" y2="570.7" stroke="#999" stroke-width="0.5" /><line x1="299.22" y1="569.8" x2="299.22" y2="570.7" stroke="#999" stroke-width="0.5" /><line x1="305.31" y1="569.8" x2="305.31" y2="570.7" stroke="#999" stroke-width="0.5" /><line x1="308.5" y1="569.8" x2="308.5" y2="570.7" stroke="#999" stroke-width="0.5" /><line x1="310.62" y1="569.8" x2="310.62" y2="570.7" stroke="#999" stroke-width="0.5" /><line x1="312.39" y1="569.8" x2="312.39" y2="570.7" stroke="#999" stroke-width="0.5" /><line x1="313.81" y1="569.8" x2="313.81" y2="570.7" stroke="#999" stroke-width="0.5" /><line x1="315.05" y1="569.8" x2="315.05" y2="570.7" stroke="#999" stroke-width="0.5" /><line x1="315.93" y1="569.8" x2="315.93" y2="570.7" stroke="#999" stroke-width="0.5" /><line x1="316.81" y1="569.8" x2="316.81" y2="570.7" stroke="#999" stroke-width="0.5" /><line x1="322.65" y1="569.8" x2="322.65" y2="570.7" stroke="#999" stroke-width="0.5" /><line x1="325.62" y1="569.8" x2="325.62" y2="570.7" stroke="#999" stroke-width="0.5" /><line x1="327.6" y1="569.8" x2="327.6" y2="570.7" stroke="#999" stroke-width="0.5" /><line x1="329.25" y1="569.8" x2="329.25" y2="570.7" stroke="#999" stroke-width="0.5" /><line x1="330.57" y1="569.8" x2="330.57" y2="570.7" stroke="#999" stroke-width="0.5" /><line x1="331.72" y1="569.8" x2="331.72" y2="570.7" stroke="#999" stroke-width="0.5" /><line x1="332.55" y1="569.8" x2="332.55" y2="570.7" stroke="#999" stroke-width="0.5" /><line x1="333.38" y1="569.8" x2="333.38" y2="570.7" stroke="#999" stroke-width="0.5" /><line x1="339.15" y1="569.8" x2="339.15" y2="570.7" stroke="#999" stroke-width="0.5" /><line x1="342.12" y1="569.8" x2="342.12" y2="570.7" stroke="#999" stroke-width="0.5" /><line x1="344.1" y1="569.8" x2="344.1" y2="570.7" stroke="#999" stroke-width="0.5" /><line x1="345.75" y1="569.8" x2="345.75" y2="570.7" stroke="#999" stroke-width="0.5" /><line x1="347.07" y1="569.8" x2="347.07" y2="570.7" stroke="#999" stroke-width="0.5" /><line x1="348.22" y1="569.8" x2="348.22" y2="570.7" stroke="#999" stroke-width="0.5" /><line x1="349.05" y1="569.8" x2="349.05" y2="570.7" stroke="#999" stroke-width="0.5" /><line x1="349.88" y1="569.8" x2="349.88" y2="570.7" stroke="#999" stroke-width="0.5" /><text x="273.2" y="514.08" font-size="5.6" text-anchor="end" font-weight="bold" fill="#2a2a2a" class="tk">10<tspan font-size="3.81" dy="-3.47">3</tspan></text><text x="273.2" y="530.3" font-size="5.6" text-anchor="end" font-weight="bold" fill="#2a2a2a" class="tk">10<tspan font-size="3.81" dy="-3.47">2</tspan></text><text x="273.2" y="548.15" font-size="5.6" text-anchor="end" font-weight="bold" fill="#2a2a2a" class="tk">10<tspan font-size="3.81" dy="-3.47">1</tspan></text><text x="273.2" y="563.78" font-size="5.6" text-anchor="end" font-weight="bold" fill="#2a2a2a" class="tk">0</text><text x="284.4" y="577.6" font-size="5.6" text-anchor="middle" font-weight="bold" fill="#2a2a2a" class="tk">0</text><text x="300.9" y="577.6" font-size="5.6" text-anchor="middle" font-weight="bold" fill="#2a2a2a" class="tk">10<tspan font-size="3.81" dy="-3.47">1</tspan></text><text x="318.6" y="577.6" font-size="5.6" text-anchor="middle" font-weight="bold" fill="#2a2a2a" class="tk">10<tspan font-size="3.81" dy="-3.47">2</tspan></text><text x="335.1" y="577.6" font-size="5.6" text-anchor="middle" font-weight="bold" fill="#2a2a2a" class="tk">10<tspan font-size="3.81" dy="-3.47">3</tspan></text><text x="277.7" y="502.57" font-size="6.6" text-anchor="start" font-weight="normal" fill="#1a1a1a" class="pc">2.1</text><text x="350.7" y="502.57" font-size="6.6" text-anchor="end" font-weight="normal" fill="#1a1a1a" class="pc">2.02</text><text x="277.7" y="567.8" font-size="6.6" text-anchor="start" font-weight="normal" fill="#1a1a1a" class="pc">47.4</text><text x="350.7" y="567.8" font-size="6.6" text-anchor="end" font-weight="normal" fill="#1a1a1a" class="pc">48.5</text><rect x="312" y="510.2" width="39.5" height="59" fill="none" stroke="#111" stroke-width="1.3"/><line x1="426.5" y1="296" x2="501.6" y2="296" stroke="#aaa" stroke-width="0.8" /><line x1="501.6" y1="296" x2="501.6" y2="371" stroke="#999" stroke-width="0.8" /><line x1="462.6" y1="296" x2="462.6" y2="371" stroke="#6e6e6e" stroke-width="1" /><line x1="426.5" y1="338" x2="501.6" y2="338" stroke="#6e6e6e" stroke-width="1" /><line x1="426.5" y1="296" x2="426.5" y2="371.8" stroke="#444" stroke-width="1" /><line x1="424.5" y1="313.4" x2="426.5" y2="313.4" stroke="#444" stroke-width="0.8" /><line x1="424.5" y1="329.75" x2="426.5" y2="329.75" stroke="#444" stroke-width="0.8" /><line x1="424.5" y1="347.75" x2="426.5" y2="347.75" stroke="#444" stroke-width="0.8" /><line x1="424.5" y1="363.5" x2="426.5" y2="363.5" stroke="#444" stroke-width="0.8" /><line x1="425.4" y1="317.49" x2="426.5" y2="317.49" stroke="#444" stroke-width="0.45" /><line x1="425.4" y1="320.76" x2="426.5" y2="320.76" stroke="#444" stroke-width="0.45" /><line x1="425.4" y1="322.88" x2="426.5" y2="322.88" stroke="#444" stroke-width="0.45" /><line x1="425.4" y1="324.52" x2="426.5" y2="324.52" stroke="#444" stroke-width="0.45" /><line x1="425.4" y1="325.83" x2="426.5" y2="325.83" stroke="#444" stroke-width="0.45" /><line x1="425.4" y1="326.97" x2="426.5" y2="326.97" stroke="#444" stroke-width="0.45" /><line x1="425.4" y1="327.95" x2="426.5" y2="327.95" stroke="#444" stroke-width="0.45" /><line x1="425.4" y1="328.77" x2="426.5" y2="328.77" stroke="#444" stroke-width="0.45" /><line x1="425.4" y1="334.25" x2="426.5" y2="334.25" stroke="#444" stroke-width="0.45" /><line x1="425.4" y1="337.85" x2="426.5" y2="337.85" stroke="#444" stroke-width="0.45" /><line x1="425.4" y1="340.19" x2="426.5" y2="340.19" stroke="#444" stroke-width="0.45" /><line x1="425.4" y1="341.99" x2="426.5" y2="341.99" stroke="#444" stroke-width="0.45" /><line x1="425.4" y1="343.43" x2="426.5" y2="343.43" stroke="#444" stroke-width="0.45" /><line x1="425.4" y1="344.69" x2="426.5" y2="344.69" stroke="#444" stroke-width="0.45" /><line x1="425.4" y1="345.77" x2="426.5" y2="345.77" stroke="#444" stroke-width="0.45" /><line x1="425.4" y1="346.67" x2="426.5" y2="346.67" stroke="#444" stroke-width="0.45" /><line x1="425.4" y1="351.69" x2="426.5" y2="351.69" stroke="#444" stroke-width="0.45" /><line x1="425.4" y1="354.84" x2="426.5" y2="354.84" stroke="#444" stroke-width="0.45" /><line x1="425.4" y1="356.88" x2="426.5" y2="356.88" stroke="#444" stroke-width="0.45" /><line x1="425.4" y1="358.46" x2="426.5" y2="358.46" stroke="#444" stroke-width="0.45" /><line x1="425.4" y1="359.72" x2="426.5" y2="359.72" stroke="#444" stroke-width="0.45" /><line x1="425.4" y1="360.82" x2="426.5" y2="360.82" stroke="#444" stroke-width="0.45" /><line x1="425.4" y1="361.77" x2="426.5" y2="361.77" stroke="#444" stroke-width="0.45" /><line x1="425.4" y1="362.56" x2="426.5" y2="362.56" stroke="#444" stroke-width="0.45" /><line x1="434.5" y1="371.3" x2="434.5" y2="373" stroke="#666" stroke-width="0.7" /><line x1="450.1" y1="371.3" x2="450.1" y2="373" stroke="#666" stroke-width="0.7" /><line x1="467.8" y1="371.3" x2="467.8" y2="373" stroke="#666" stroke-width="0.7" /><line x1="484.3" y1="371.3" x2="484.3" y2="373" stroke="#666" stroke-width="0.7" /><line x1="428" y1="371.6" x2="428" y2="372.5" stroke="#999" stroke-width="0.5" /><line x1="429.7" y1="371.6" x2="429.7" y2="372.5" stroke="#999" stroke-width="0.5" /><line x1="431.3" y1="371.6" x2="431.3" y2="372.5" stroke="#999" stroke-width="0.5" /><line x1="439.18" y1="371.6" x2="439.18" y2="372.5" stroke="#999" stroke-width="0.5" /><line x1="441.99" y1="371.6" x2="441.99" y2="372.5" stroke="#999" stroke-width="0.5" /><line x1="443.86" y1="371.6" x2="443.86" y2="372.5" stroke="#999" stroke-width="0.5" /><line x1="445.42" y1="371.6" x2="445.42" y2="372.5" stroke="#999" stroke-width="0.5" /><line x1="446.67" y1="371.6" x2="446.67" y2="372.5" stroke="#999" stroke-width="0.5" /><line x1="447.76" y1="371.6" x2="447.76" y2="372.5" stroke="#999" stroke-width="0.5" /><line x1="448.54" y1="371.6" x2="448.54" y2="372.5" stroke="#999" stroke-width="0.5" /><line x1="449.32" y1="371.6" x2="449.32" y2="372.5" stroke="#999" stroke-width="0.5" /><line x1="455.41" y1="371.6" x2="455.41" y2="372.5" stroke="#999" stroke-width="0.5" /><line x1="458.6" y1="371.6" x2="458.6" y2="372.5" stroke="#999" stroke-width="0.5" /><line x1="460.72" y1="371.6" x2="460.72" y2="372.5" stroke="#999" stroke-width="0.5" /><line x1="462.49" y1="371.6" x2="462.49" y2="372.5" stroke="#999" stroke-width="0.5" /><line x1="463.91" y1="371.6" x2="463.91" y2="372.5" stroke="#999" stroke-width="0.5" /><line x1="465.15" y1="371.6" x2="465.15" y2="372.5" stroke="#999" stroke-width="0.5" /><line x1="466.03" y1="371.6" x2="466.03" y2="372.5" stroke="#999" stroke-width="0.5" /><line x1="466.92" y1="371.6" x2="466.92" y2="372.5" stroke="#999" stroke-width="0.5" /><line x1="472.75" y1="371.6" x2="472.75" y2="372.5" stroke="#999" stroke-width="0.5" /><line x1="475.72" y1="371.6" x2="475.72" y2="372.5" stroke="#999" stroke-width="0.5" /><line x1="477.7" y1="371.6" x2="477.7" y2="372.5" stroke="#999" stroke-width="0.5" /><line x1="479.35" y1="371.6" x2="479.35" y2="372.5" stroke="#999" stroke-width="0.5" /><line x1="480.67" y1="371.6" x2="480.67" y2="372.5" stroke="#999" stroke-width="0.5" /><line x1="481.82" y1="371.6" x2="481.82" y2="372.5" stroke="#999" stroke-width="0.5" /><line x1="482.65" y1="371.6" x2="482.65" y2="372.5" stroke="#999" stroke-width="0.5" /><line x1="483.48" y1="371.6" x2="483.48" y2="372.5" stroke="#999" stroke-width="0.5" /><line x1="489.25" y1="371.6" x2="489.25" y2="372.5" stroke="#999" stroke-width="0.5" /><line x1="492.22" y1="371.6" x2="492.22" y2="372.5" stroke="#999" stroke-width="0.5" /><line x1="494.2" y1="371.6" x2="494.2" y2="372.5" stroke="#999" stroke-width="0.5" /><line x1="495.85" y1="371.6" x2="495.85" y2="372.5" stroke="#999" stroke-width="0.5" /><line x1="497.17" y1="371.6" x2="497.17" y2="372.5" stroke="#999" stroke-width="0.5" /><line x1="498.32" y1="371.6" x2="498.32" y2="372.5" stroke="#999" stroke-width="0.5" /><line x1="499.15" y1="371.6" x2="499.15" y2="372.5" stroke="#999" stroke-width="0.5" /><line x1="499.98" y1="371.6" x2="499.98" y2="372.5" stroke="#999" stroke-width="0.5" /><text x="423.3" y="315.42" font-size="5.6" text-anchor="end" font-weight="bold" fill="#2a2a2a" class="tk">10<tspan font-size="3.81" dy="-3.47">3</tspan></text><text x="423.3" y="331.77" font-size="5.6" text-anchor="end" font-weight="bold" fill="#2a2a2a" class="tk">10<tspan font-size="3.81" dy="-3.47">2</tspan></text><text x="423.3" y="349.77" font-size="5.6" text-anchor="end" font-weight="bold" fill="#2a2a2a" class="tk">10<tspan font-size="3.81" dy="-3.47">1</tspan></text><text x="423.3" y="365.52" font-size="5.6" text-anchor="end" font-weight="bold" fill="#2a2a2a" class="tk">0</text><text x="434.5" y="379.4" font-size="5.6" text-anchor="middle" font-weight="bold" fill="#2a2a2a" class="tk">0</text><text x="451" y="379.4" font-size="5.6" text-anchor="middle" font-weight="bold" fill="#2a2a2a" class="tk">10<tspan font-size="3.81" dy="-3.47">1</tspan></text><text x="468.7" y="379.4" font-size="5.6" text-anchor="middle" font-weight="bold" fill="#2a2a2a" class="tk">10<tspan font-size="3.81" dy="-3.47">2</tspan></text><text x="485.2" y="379.4" font-size="5.6" text-anchor="middle" font-weight="bold" fill="#2a2a2a" class="tk">10<tspan font-size="3.81" dy="-3.47">3</tspan></text><text x="427.8" y="303.77" font-size="6.6" text-anchor="start" font-weight="normal" fill="#1a1a1a" class="pc">54.9</text><text x="500.8" y="303.77" font-size="6.6" text-anchor="end" font-weight="normal" fill="#1a1a1a" class="pc">4.77</text><text x="427.8" y="369.6" font-size="6.6" text-anchor="start" font-weight="normal" fill="#1a1a1a" class="pc">8.82</text><text x="500.8" y="369.6" font-size="6.6" text-anchor="end" font-weight="normal" fill="#1a1a1a" class="pc">31.5</text><line x1="426.5" y1="395.4" x2="501.6" y2="395.4" stroke="#aaa" stroke-width="0.8" /><line x1="501.6" y1="395.4" x2="501.6" y2="470.4" stroke="#999" stroke-width="0.8" /><line x1="462.7" y1="395.4" x2="462.7" y2="470.4" stroke="#6e6e6e" stroke-width="1" /><line x1="426.5" y1="437.6" x2="501.6" y2="437.6" stroke="#6e6e6e" stroke-width="1" /><line x1="426.5" y1="395.4" x2="426.5" y2="471.2" stroke="#444" stroke-width="1" /><line x1="424.5" y1="412.8" x2="426.5" y2="412.8" stroke="#444" stroke-width="0.8" /><line x1="424.5" y1="429.15" x2="426.5" y2="429.15" stroke="#444" stroke-width="0.8" /><line x1="424.5" y1="447.15" x2="426.5" y2="447.15" stroke="#444" stroke-width="0.8" /><line x1="424.5" y1="462.9" x2="426.5" y2="462.9" stroke="#444" stroke-width="0.8" /><line x1="425.4" y1="416.89" x2="426.5" y2="416.89" stroke="#444" stroke-width="0.45" /><line x1="425.4" y1="420.16" x2="426.5" y2="420.16" stroke="#444" stroke-width="0.45" /><line x1="425.4" y1="422.28" x2="426.5" y2="422.28" stroke="#444" stroke-width="0.45" /><line x1="425.4" y1="423.92" x2="426.5" y2="423.92" stroke="#444" stroke-width="0.45" /><line x1="425.4" y1="425.23" x2="426.5" y2="425.23" stroke="#444" stroke-width="0.45" /><line x1="425.4" y1="426.37" x2="426.5" y2="426.37" stroke="#444" stroke-width="0.45" /><line x1="425.4" y1="427.35" x2="426.5" y2="427.35" stroke="#444" stroke-width="0.45" /><line x1="425.4" y1="428.17" x2="426.5" y2="428.17" stroke="#444" stroke-width="0.45" /><line x1="425.4" y1="433.65" x2="426.5" y2="433.65" stroke="#444" stroke-width="0.45" /><line x1="425.4" y1="437.25" x2="426.5" y2="437.25" stroke="#444" stroke-width="0.45" /><line x1="425.4" y1="439.59" x2="426.5" y2="439.59" stroke="#444" stroke-width="0.45" /><line x1="425.4" y1="441.39" x2="426.5" y2="441.39" stroke="#444" stroke-width="0.45" /><line x1="425.4" y1="442.83" x2="426.5" y2="442.83" stroke="#444" stroke-width="0.45" /><line x1="425.4" y1="444.09" x2="426.5" y2="444.09" stroke="#444" stroke-width="0.45" /><line x1="425.4" y1="445.17" x2="426.5" y2="445.17" stroke="#444" stroke-width="0.45" /><line x1="425.4" y1="446.07" x2="426.5" y2="446.07" stroke="#444" stroke-width="0.45" /><line x1="425.4" y1="451.09" x2="426.5" y2="451.09" stroke="#444" stroke-width="0.45" /><line x1="425.4" y1="454.24" x2="426.5" y2="454.24" stroke="#444" stroke-width="0.45" /><line x1="425.4" y1="456.28" x2="426.5" y2="456.28" stroke="#444" stroke-width="0.45" /><line x1="425.4" y1="457.86" x2="426.5" y2="457.86" stroke="#444" stroke-width="0.45" /><line x1="425.4" y1="459.12" x2="426.5" y2="459.12" stroke="#444" stroke-width="0.45" /><line x1="425.4" y1="460.22" x2="426.5" y2="460.22" stroke="#444" stroke-width="0.45" /><line x1="425.4" y1="461.17" x2="426.5" y2="461.17" stroke="#444" stroke-width="0.45" /><line x1="425.4" y1="461.95" x2="426.5" y2="461.95" stroke="#444" stroke-width="0.45" /><line x1="434.5" y1="470.7" x2="434.5" y2="472.4" stroke="#666" stroke-width="0.7" /><line x1="450.1" y1="470.7" x2="450.1" y2="472.4" stroke="#666" stroke-width="0.7" /><line x1="467.8" y1="470.7" x2="467.8" y2="472.4" stroke="#666" stroke-width="0.7" /><line x1="484.3" y1="470.7" x2="484.3" y2="472.4" stroke="#666" stroke-width="0.7" /><line x1="428" y1="471" x2="428" y2="471.9" stroke="#999" stroke-width="0.5" /><line x1="429.7" y1="471" x2="429.7" y2="471.9" stroke="#999" stroke-width="0.5" /><line x1="431.3" y1="471" x2="431.3" y2="471.9" stroke="#999" stroke-width="0.5" /><line x1="439.18" y1="471" x2="439.18" y2="471.9" stroke="#999" stroke-width="0.5" /><line x1="441.99" y1="471" x2="441.99" y2="471.9" stroke="#999" stroke-width="0.5" /><line x1="443.86" y1="471" x2="443.86" y2="471.9" stroke="#999" stroke-width="0.5" /><line x1="445.42" y1="471" x2="445.42" y2="471.9" stroke="#999" stroke-width="0.5" /><line x1="446.67" y1="471" x2="446.67" y2="471.9" stroke="#999" stroke-width="0.5" /><line x1="447.76" y1="471" x2="447.76" y2="471.9" stroke="#999" stroke-width="0.5" /><line x1="448.54" y1="471" x2="448.54" y2="471.9" stroke="#999" stroke-width="0.5" /><line x1="449.32" y1="471" x2="449.32" y2="471.9" stroke="#999" stroke-width="0.5" /><line x1="455.41" y1="471" x2="455.41" y2="471.9" stroke="#999" stroke-width="0.5" /><line x1="458.6" y1="471" x2="458.6" y2="471.9" stroke="#999" stroke-width="0.5" /><line x1="460.72" y1="471" x2="460.72" y2="471.9" stroke="#999" stroke-width="0.5" /><line x1="462.49" y1="471" x2="462.49" y2="471.9" stroke="#999" stroke-width="0.5" /><line x1="463.91" y1="471" x2="463.91" y2="471.9" stroke="#999" stroke-width="0.5" /><line x1="465.15" y1="471" x2="465.15" y2="471.9" stroke="#999" stroke-width="0.5" /><line x1="466.03" y1="471" x2="466.03" y2="471.9" stroke="#999" stroke-width="0.5" /><line x1="466.92" y1="471" x2="466.92" y2="471.9" stroke="#999" stroke-width="0.5" /><line x1="472.75" y1="471" x2="472.75" y2="471.9" stroke="#999" stroke-width="0.5" /><line x1="475.72" y1="471" x2="475.72" y2="471.9" stroke="#999" stroke-width="0.5" /><line x1="477.7" y1="471" x2="477.7" y2="471.9" stroke="#999" stroke-width="0.5" /><line x1="479.35" y1="471" x2="479.35" y2="471.9" stroke="#999" stroke-width="0.5" /><line x1="480.67" y1="471" x2="480.67" y2="471.9" stroke="#999" stroke-width="0.5" /><line x1="481.82" y1="471" x2="481.82" y2="471.9" stroke="#999" stroke-width="0.5" /><line x1="482.65" y1="471" x2="482.65" y2="471.9" stroke="#999" stroke-width="0.5" /><line x1="483.48" y1="471" x2="483.48" y2="471.9" stroke="#999" stroke-width="0.5" /><line x1="489.25" y1="471" x2="489.25" y2="471.9" stroke="#999" stroke-width="0.5" /><line x1="492.22" y1="471" x2="492.22" y2="471.9" stroke="#999" stroke-width="0.5" /><line x1="494.2" y1="471" x2="494.2" y2="471.9" stroke="#999" stroke-width="0.5" /><line x1="495.85" y1="471" x2="495.85" y2="471.9" stroke="#999" stroke-width="0.5" /><line x1="497.17" y1="471" x2="497.17" y2="471.9" stroke="#999" stroke-width="0.5" /><line x1="498.32" y1="471" x2="498.32" y2="471.9" stroke="#999" stroke-width="0.5" /><line x1="499.15" y1="471" x2="499.15" y2="471.9" stroke="#999" stroke-width="0.5" /><line x1="499.98" y1="471" x2="499.98" y2="471.9" stroke="#999" stroke-width="0.5" /><text x="423.3" y="414.82" font-size="5.6" text-anchor="end" font-weight="bold" fill="#2a2a2a" class="tk">10<tspan font-size="3.81" dy="-3.47">3</tspan></text><text x="423.3" y="431.17" font-size="5.6" text-anchor="end" font-weight="bold" fill="#2a2a2a" class="tk">10<tspan font-size="3.81" dy="-3.47">2</tspan></text><text x="423.3" y="449.17" font-size="5.6" text-anchor="end" font-weight="bold" fill="#2a2a2a" class="tk">10<tspan font-size="3.81" dy="-3.47">1</tspan></text><text x="423.3" y="464.92" font-size="5.6" text-anchor="end" font-weight="bold" fill="#2a2a2a" class="tk">0</text><text x="434.5" y="478.8" font-size="5.6" text-anchor="middle" font-weight="bold" fill="#2a2a2a" class="tk">0</text><text x="451" y="478.8" font-size="5.6" text-anchor="middle" font-weight="bold" fill="#2a2a2a" class="tk">10<tspan font-size="3.81" dy="-3.47">1</tspan></text><text x="468.7" y="478.8" font-size="5.6" text-anchor="middle" font-weight="bold" fill="#2a2a2a" class="tk">10<tspan font-size="3.81" dy="-3.47">2</tspan></text><text x="485.2" y="478.8" font-size="5.6" text-anchor="middle" font-weight="bold" fill="#2a2a2a" class="tk">10<tspan font-size="3.81" dy="-3.47">3</tspan></text><text x="427.8" y="403.17" font-size="6.6" text-anchor="start" font-weight="normal" fill="#1a1a1a" class="pc">37.9</text><text x="500.8" y="403.17" font-size="6.6" text-anchor="end" font-weight="normal" fill="#1a1a1a" class="pc">1.07</text><text x="427.8" y="469" font-size="6.6" text-anchor="start" font-weight="normal" fill="#1a1a1a" class="pc">8.45</text><text x="500.8" y="469" font-size="6.6" text-anchor="end" font-weight="normal" fill="#1a1a1a" class="pc">52.6</text><line x1="426.5" y1="495" x2="501.6" y2="495" stroke="#aaa" stroke-width="0.8" /><line x1="501.6" y1="495" x2="501.6" y2="570" stroke="#999" stroke-width="0.8" /><line x1="462.7" y1="495" x2="462.7" y2="570" stroke="#6e6e6e" stroke-width="1" /><line x1="426.5" y1="536.2" x2="501.6" y2="536.2" stroke="#6e6e6e" stroke-width="1" /><line x1="426.5" y1="495" x2="426.5" y2="570.8" stroke="#444" stroke-width="1" /><line x1="424.5" y1="512.4" x2="426.5" y2="512.4" stroke="#444" stroke-width="0.8" /><line x1="424.5" y1="528.75" x2="426.5" y2="528.75" stroke="#444" stroke-width="0.8" /><line x1="424.5" y1="546.75" x2="426.5" y2="546.75" stroke="#444" stroke-width="0.8" /><line x1="424.5" y1="562.5" x2="426.5" y2="562.5" stroke="#444" stroke-width="0.8" /><line x1="425.4" y1="516.49" x2="426.5" y2="516.49" stroke="#444" stroke-width="0.45" /><line x1="425.4" y1="519.76" x2="426.5" y2="519.76" stroke="#444" stroke-width="0.45" /><line x1="425.4" y1="521.88" x2="426.5" y2="521.88" stroke="#444" stroke-width="0.45" /><line x1="425.4" y1="523.52" x2="426.5" y2="523.52" stroke="#444" stroke-width="0.45" /><line x1="425.4" y1="524.83" x2="426.5" y2="524.83" stroke="#444" stroke-width="0.45" /><line x1="425.4" y1="525.97" x2="426.5" y2="525.97" stroke="#444" stroke-width="0.45" /><line x1="425.4" y1="526.95" x2="426.5" y2="526.95" stroke="#444" stroke-width="0.45" /><line x1="425.4" y1="527.77" x2="426.5" y2="527.77" stroke="#444" stroke-width="0.45" /><line x1="425.4" y1="533.25" x2="426.5" y2="533.25" stroke="#444" stroke-width="0.45" /><line x1="425.4" y1="536.85" x2="426.5" y2="536.85" stroke="#444" stroke-width="0.45" /><line x1="425.4" y1="539.19" x2="426.5" y2="539.19" stroke="#444" stroke-width="0.45" /><line x1="425.4" y1="540.99" x2="426.5" y2="540.99" stroke="#444" stroke-width="0.45" /><line x1="425.4" y1="542.43" x2="426.5" y2="542.43" stroke="#444" stroke-width="0.45" /><line x1="425.4" y1="543.69" x2="426.5" y2="543.69" stroke="#444" stroke-width="0.45" /><line x1="425.4" y1="544.77" x2="426.5" y2="544.77" stroke="#444" stroke-width="0.45" /><line x1="425.4" y1="545.67" x2="426.5" y2="545.67" stroke="#444" stroke-width="0.45" /><line x1="425.4" y1="550.69" x2="426.5" y2="550.69" stroke="#444" stroke-width="0.45" /><line x1="425.4" y1="553.84" x2="426.5" y2="553.84" stroke="#444" stroke-width="0.45" /><line x1="425.4" y1="555.88" x2="426.5" y2="555.88" stroke="#444" stroke-width="0.45" /><line x1="425.4" y1="557.46" x2="426.5" y2="557.46" stroke="#444" stroke-width="0.45" /><line x1="425.4" y1="558.72" x2="426.5" y2="558.72" stroke="#444" stroke-width="0.45" /><line x1="425.4" y1="559.82" x2="426.5" y2="559.82" stroke="#444" stroke-width="0.45" /><line x1="425.4" y1="560.77" x2="426.5" y2="560.77" stroke="#444" stroke-width="0.45" /><line x1="425.4" y1="561.55" x2="426.5" y2="561.55" stroke="#444" stroke-width="0.45" /><line x1="434.5" y1="570.3" x2="434.5" y2="572" stroke="#666" stroke-width="0.7" /><line x1="450.1" y1="570.3" x2="450.1" y2="572" stroke="#666" stroke-width="0.7" /><line x1="467.8" y1="570.3" x2="467.8" y2="572" stroke="#666" stroke-width="0.7" /><line x1="484.3" y1="570.3" x2="484.3" y2="572" stroke="#666" stroke-width="0.7" /><line x1="428" y1="570.6" x2="428" y2="571.5" stroke="#999" stroke-width="0.5" /><line x1="429.7" y1="570.6" x2="429.7" y2="571.5" stroke="#999" stroke-width="0.5" /><line x1="431.3" y1="570.6" x2="431.3" y2="571.5" stroke="#999" stroke-width="0.5" /><line x1="439.18" y1="570.6" x2="439.18" y2="571.5" stroke="#999" stroke-width="0.5" /><line x1="441.99" y1="570.6" x2="441.99" y2="571.5" stroke="#999" stroke-width="0.5" /><line x1="443.86" y1="570.6" x2="443.86" y2="571.5" stroke="#999" stroke-width="0.5" /><line x1="445.42" y1="570.6" x2="445.42" y2="571.5" stroke="#999" stroke-width="0.5" /><line x1="446.67" y1="570.6" x2="446.67" y2="571.5" stroke="#999" stroke-width="0.5" /><line x1="447.76" y1="570.6" x2="447.76" y2="571.5" stroke="#999" stroke-width="0.5" /><line x1="448.54" y1="570.6" x2="448.54" y2="571.5" stroke="#999" stroke-width="0.5" /><line x1="449.32" y1="570.6" x2="449.32" y2="571.5" stroke="#999" stroke-width="0.5" /><line x1="455.41" y1="570.6" x2="455.41" y2="571.5" stroke="#999" stroke-width="0.5" /><line x1="458.6" y1="570.6" x2="458.6" y2="571.5" stroke="#999" stroke-width="0.5" /><line x1="460.72" y1="570.6" x2="460.72" y2="571.5" stroke="#999" stroke-width="0.5" /><line x1="462.49" y1="570.6" x2="462.49" y2="571.5" stroke="#999" stroke-width="0.5" /><line x1="463.91" y1="570.6" x2="463.91" y2="571.5" stroke="#999" stroke-width="0.5" /><line x1="465.15" y1="570.6" x2="465.15" y2="571.5" stroke="#999" stroke-width="0.5" /><line x1="466.03" y1="570.6" x2="466.03" y2="571.5" stroke="#999" stroke-width="0.5" /><line x1="466.92" y1="570.6" x2="466.92" y2="571.5" stroke="#999" stroke-width="0.5" /><line x1="472.75" y1="570.6" x2="472.75" y2="571.5" stroke="#999" stroke-width="0.5" /><line x1="475.72" y1="570.6" x2="475.72" y2="571.5" stroke="#999" stroke-width="0.5" /><line x1="477.7" y1="570.6" x2="477.7" y2="571.5" stroke="#999" stroke-width="0.5" /><line x1="479.35" y1="570.6" x2="479.35" y2="571.5" stroke="#999" stroke-width="0.5" /><line x1="480.67" y1="570.6" x2="480.67" y2="571.5" stroke="#999" stroke-width="0.5" /><line x1="481.82" y1="570.6" x2="481.82" y2="571.5" stroke="#999" stroke-width="0.5" /><line x1="482.65" y1="570.6" x2="482.65" y2="571.5" stroke="#999" stroke-width="0.5" /><line x1="483.48" y1="570.6" x2="483.48" y2="571.5" stroke="#999" stroke-width="0.5" /><line x1="489.25" y1="570.6" x2="489.25" y2="571.5" stroke="#999" stroke-width="0.5" /><line x1="492.22" y1="570.6" x2="492.22" y2="571.5" stroke="#999" stroke-width="0.5" /><line x1="494.2" y1="570.6" x2="494.2" y2="571.5" stroke="#999" stroke-width="0.5" /><line x1="495.85" y1="570.6" x2="495.85" y2="571.5" stroke="#999" stroke-width="0.5" /><line x1="497.17" y1="570.6" x2="497.17" y2="571.5" stroke="#999" stroke-width="0.5" /><line x1="498.32" y1="570.6" x2="498.32" y2="571.5" stroke="#999" stroke-width="0.5" /><line x1="499.15" y1="570.6" x2="499.15" y2="571.5" stroke="#999" stroke-width="0.5" /><line x1="499.98" y1="570.6" x2="499.98" y2="571.5" stroke="#999" stroke-width="0.5" /><text x="423.3" y="514.42" font-size="5.6" text-anchor="end" font-weight="bold" fill="#2a2a2a" class="tk">10<tspan font-size="3.81" dy="-3.47">3</tspan></text><text x="423.3" y="530.77" font-size="5.6" text-anchor="end" font-weight="bold" fill="#2a2a2a" class="tk">10<tspan font-size="3.81" dy="-3.47">2</tspan></text><text x="423.3" y="548.77" font-size="5.6" text-anchor="end" font-weight="bold" fill="#2a2a2a" class="tk">10<tspan font-size="3.81" dy="-3.47">1</tspan></text><text x="423.3" y="564.52" font-size="5.6" text-anchor="end" font-weight="bold" fill="#2a2a2a" class="tk">0</text><text x="434.5" y="578.4" font-size="5.6" text-anchor="middle" font-weight="bold" fill="#2a2a2a" class="tk">0</text><text x="451" y="578.4" font-size="5.6" text-anchor="middle" font-weight="bold" fill="#2a2a2a" class="tk">10<tspan font-size="3.81" dy="-3.47">1</tspan></text><text x="468.7" y="578.4" font-size="5.6" text-anchor="middle" font-weight="bold" fill="#2a2a2a" class="tk">10<tspan font-size="3.81" dy="-3.47">2</tspan></text><text x="485.2" y="578.4" font-size="5.6" text-anchor="middle" font-weight="bold" fill="#2a2a2a" class="tk">10<tspan font-size="3.81" dy="-3.47">3</tspan></text><text x="427.8" y="502.77" font-size="6.6" text-anchor="start" font-weight="normal" fill="#1a1a1a" class="pc">65.4</text><text x="500.8" y="502.77" font-size="6.6" text-anchor="end" font-weight="normal" fill="#1a1a1a" class="pc">4.16</text><text x="427.8" y="568.6" font-size="6.6" text-anchor="start" font-weight="normal" fill="#1a1a1a" class="pc">9.98</text><text x="500.8" y="568.6" font-size="6.6" text-anchor="end" font-weight="normal" fill="#1a1a1a" class="pc">20.5</text><text x="360.8" y="335.9" font-size="7.4" fill="#222">CD38<tspan font-size="4.6" dy="-2.8">+</tspan></text><line x1="357.4" y1="340.6" x2="386.2" y2="340.6" stroke="#111" stroke-width="1" /><polygon points="386.2,340.6 380.4,343.2 380.4,338" fill="#111"/><text x="360.8" y="435.9" font-size="7.4" fill="#222">CD38<tspan font-size="4.6" dy="-2.8">+</tspan></text><line x1="357.4" y1="440.6" x2="386.2" y2="440.6" stroke="#111" stroke-width="1" /><polygon points="386.2,440.6 380.4,443.2 380.4,438" fill="#111"/><text x="360.8" y="535.7" font-size="7.4" fill="#222">CD38<tspan font-size="4.6" dy="-2.8">+</tspan></text><line x1="357.4" y1="540.4" x2="386.2" y2="540.4" stroke="#111" stroke-width="1" /><polygon points="386.2,540.4 380.4,543 380.4,537.8" fill="#111"/>
<rect x="0.6" y="0.6" width="518.6" height="614.4" fill="none" stroke="#555" stroke-width="1.4"/>
<line x1="0" y1="615" x2="520" y2="615" stroke="#555" stroke-width="2"/>
<line x1="519" y1="0" x2="519" y2="616" stroke="#555" stroke-width="2"/>
</svg>
</div>
</body></html>
